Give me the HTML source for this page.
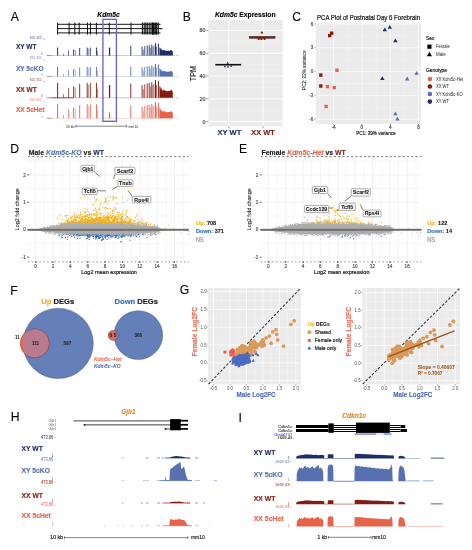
<!DOCTYPE html>
<html><head><meta charset="utf-8"><style>
html,body{margin:0;padding:0;background:#fff;width:472px;height:550px;overflow:hidden}
svg{display:block;font-family:"Liberation Sans",sans-serif;will-change:transform}
</style></head><body>
<svg width="472" height="550" viewBox="0 0 472 550">
<rect width="472" height="550" fill="#fff"/>
<text x="10.8" y="20.6" font-size="12.2" fill="#000" stroke="#000" stroke-width="0.1" >A</text>
<text x="182.8" y="20.6" font-size="12.2" fill="#000" stroke="#000" stroke-width="0.1" >B</text>
<text x="292.2" y="20.8" font-size="12.2" fill="#000" stroke="#000" stroke-width="0.1" >C</text>
<text x="10.2" y="152.8" font-size="12.2" fill="#000" stroke="#000" stroke-width="0.1" >D</text>
<text x="238.9" y="152.6" font-size="12.2" fill="#000" stroke="#000" stroke-width="0.1" >E</text>
<text x="10.2" y="294.8" font-size="12.2" fill="#000" stroke="#000" stroke-width="0.1" >F</text>
<text x="179.7" y="294" font-size="12.2" fill="#000" stroke="#000" stroke-width="0.1" >G</text>
<text x="10.7" y="420.8" font-size="12.2" fill="#000" stroke="#000" stroke-width="0.1" >H</text>
<text x="238.6" y="421.5" font-size="12.2" fill="#000" stroke="#000" stroke-width="0.1" >I</text>
<text x="108.5" y="16.9" font-size="6.6" fill="#000" stroke="#000" stroke-width="0.13" font-weight="bold" font-style="italic" text-anchor="middle" textLength="22.4" lengthAdjust="spacingAndGlyphs" >Kdm5c</text>
<line x1="57" y1="24.3" x2="160.5" y2="24.3" stroke="#1a1a1a" stroke-width="1" />
<line x1="57" y1="28.6" x2="160.5" y2="28.6" stroke="#1a1a1a" stroke-width="1" />
<line x1="57" y1="32.9" x2="160.5" y2="32.9" stroke="#1a1a1a" stroke-width="1" />
<line x1="160" y1="28.6" x2="162.3" y2="28.6" stroke="#1a1a1a" stroke-width="1.2" />
<line x1="57.6" y1="22.6" x2="57.6" y2="34.6" stroke="#111" stroke-width="1" />
<line x1="69.1" y1="22.6" x2="69.1" y2="34.6" stroke="#111" stroke-width="1" />
<line x1="74.8" y1="22.6" x2="74.8" y2="34.6" stroke="#111" stroke-width="1" />
<line x1="79.2" y1="22.6" x2="79.2" y2="34.6" stroke="#111" stroke-width="1" />
<line x1="87.5" y1="22.6" x2="87.5" y2="34.6" stroke="#111" stroke-width="1" />
<line x1="90.4" y1="22.6" x2="90.4" y2="34.6" stroke="#111" stroke-width="1" />
<line x1="96.4" y1="22.6" x2="96.4" y2="34.6" stroke="#111" stroke-width="1" />
<line x1="109.3" y1="22.6" x2="109.3" y2="34.6" stroke="#111" stroke-width="1" />
<line x1="131" y1="22.6" x2="131" y2="34.6" stroke="#111" stroke-width="1" />
<line x1="142.4" y1="22.6" x2="142.4" y2="34.6" stroke="#111" stroke-width="1.1" />
<line x1="144.2" y1="22.6" x2="144.2" y2="34.6" stroke="#111" stroke-width="1.1" />
<line x1="145.8" y1="22.6" x2="145.8" y2="34.6" stroke="#111" stroke-width="1.1" />
<line x1="147.3" y1="22.6" x2="147.3" y2="34.6" stroke="#111" stroke-width="1.1" />
<line x1="149.2" y1="22.6" x2="149.2" y2="34.6" stroke="#111" stroke-width="1.1" />
<line x1="151" y1="22.6" x2="151" y2="34.6" stroke="#111" stroke-width="1.1" />
<line x1="152.6" y1="22.6" x2="152.6" y2="34.6" stroke="#111" stroke-width="1.1" />
<line x1="154.2" y1="22.6" x2="154.2" y2="34.6" stroke="#111" stroke-width="1.1" />
<line x1="156" y1="22.6" x2="156" y2="34.6" stroke="#111" stroke-width="1.1" />
<line x1="158.3" y1="22.6" x2="158.3" y2="34.6" stroke="#111" stroke-width="1.1" />
<rect x="151.8" y="22.8" width="2.2" height="11.8" fill="#111" />
<rect x="155.3" y="22.8" width="2" height="11.8" fill="#111" />
<rect x="102.9" y="19.3" width="13.5" height="102.0" fill="none" stroke="#7262c8" stroke-width="1.35"/>
<text x="15.9" y="48.9" font-size="6.85" fill="#1f2e6b" stroke="#1f2e6b" stroke-width="0.14" font-weight="bold" textLength="20.69" lengthAdjust="spacingAndGlyphs" >XY WT</text>
<text x="41.6" y="38.6" font-size="3.69" fill="#1f2e6b" text-anchor="end" textLength="11.75" lengthAdjust="spacingAndGlyphs" opacity="0.85">825 352</text>
<text x="42.6" y="54.8" font-size="3.41" fill="#1f2e6b" text-anchor="end" textLength="1.67" lengthAdjust="spacingAndGlyphs" opacity="0.8">0</text>
<line x1="43.3" y1="39.3" x2="44.6" y2="39.3" stroke="#1f2e6b" stroke-width="0.5" />
<line x1="46.5" y1="55.6" x2="175" y2="55.6" stroke="#1f2e6b" stroke-width="0.5" opacity="0.55"/>
<line x1="47" y1="55.6" x2="52" y2="55.6" stroke="#888" stroke-width="0.7" />
<line x1="176.5" y1="55.6" x2="178.5" y2="55.6" stroke="#1f2e6b" stroke-width="0.6" opacity="0.6"/>
<rect x="57.1" y="47.53" width="1" height="8.07" fill="#1f2e6b" />
<rect x="63.2" y="53.7" width="0.6" height="1.9" fill="#1f2e6b" />
<rect x="68.05" y="50.38" width="0.7" height="5.22" fill="#1f2e6b" />
<rect x="73" y="49.43" width="0.8" height="6.17" fill="#1f2e6b" />
<rect x="74.8" y="49.9" width="0.6" height="5.7" fill="#1f2e6b" />
<rect x="79.25" y="48" width="0.9" height="7.6" fill="#1f2e6b" />
<rect x="86.75" y="47.53" width="0.9" height="8.07" fill="#1f2e6b" />
<rect x="88.6" y="48.48" width="0.6" height="7.12" fill="#1f2e6b" />
<rect x="90.05" y="47.53" width="0.7" height="8.07" fill="#1f2e6b" />
<rect x="95.95" y="47.53" width="0.9" height="8.07" fill="#1f2e6b" />
<rect x="97.15" y="50.85" width="0.5" height="4.75" fill="#1f2e6b" />
<rect x="108.9" y="47.6" width="1.3" height="8" fill="#1f2e6b" />
<rect x="130.35" y="45.6" width="0.9" height="10" fill="#1f2e6b" />
<rect x="141.65" y="46.6" width="0.9" height="9" fill="#1f2e6b" />
<rect x="143.35" y="49.6" width="0.5" height="6" fill="#1f2e6b" />
<rect x="144.4" y="46.1" width="0.8" height="9.5" fill="#1f2e6b" />
<rect x="146.75" y="45.6" width="0.9" height="10" fill="#1f2e6b" />
<rect x="148.75" y="45.1" width="0.9" height="10.5" fill="#1f2e6b" />
<rect x="150.15" y="47.6" width="0.5" height="8" fill="#1f2e6b" />
<rect x="151.35" y="44.6" width="0.9" height="11" fill="#1f2e6b" />
<rect x="152.7" y="46.6" width="0.6" height="9" fill="#1f2e6b" />
<rect x="153.7" y="45.6" width="0.6" height="10" fill="#1f2e6b" />
<rect x="155" y="43.1" width="1" height="12.5" fill="#1f2e6b" />
<rect x="156.3" y="46.6" width="0.6" height="9" fill="#1f2e6b" />
<rect x="157.9" y="43.6" width="1" height="12" fill="#1f2e6b" />
<rect x="159.1" y="47.6" width="0.6" height="8" fill="#1f2e6b" />
<path d="M160 55.6L160 50.1L160.5 47.6L161 48.6L162 50.1L163 50.6L164 49.6L165 50.8L166 50.4L167 51.1L168 50.6L169 51L170 50.6L171 50.1L172 50.4L172.8 51.6L172.8 55.6Z" fill="#1f2e6b" />
<text x="15.9" y="70.5" font-size="6.85" fill="#5770b0" stroke="#5770b0" stroke-width="0.14" font-weight="bold" textLength="27.63" lengthAdjust="spacingAndGlyphs" >XY 5cKO</text>
<text x="41.6" y="59.4" font-size="3.69" fill="#5770b0" text-anchor="end" textLength="11.75" lengthAdjust="spacingAndGlyphs" opacity="0.85">825 352</text>
<text x="42.6" y="75.6" font-size="3.41" fill="#5770b0" text-anchor="end" textLength="1.67" lengthAdjust="spacingAndGlyphs" opacity="0.8">0</text>
<line x1="43.3" y1="60.1" x2="44.6" y2="60.1" stroke="#5770b0" stroke-width="0.5" />
<line x1="46.5" y1="76.4" x2="175" y2="76.4" stroke="#5770b0" stroke-width="0.5" opacity="0.55"/>
<line x1="47" y1="76.4" x2="52" y2="76.4" stroke="#888" stroke-width="0.7" />
<line x1="176.5" y1="76.4" x2="178.5" y2="76.4" stroke="#5770b0" stroke-width="0.6" opacity="0.6"/>
<rect x="57.1" y="66.88" width="1" height="9.52" fill="#5770b0" />
<rect x="63.2" y="74.16" width="0.6" height="2.24" fill="#5770b0" />
<rect x="68.05" y="70.24" width="0.7" height="6.16" fill="#5770b0" />
<rect x="73" y="69.12" width="0.8" height="7.28" fill="#5770b0" />
<rect x="74.8" y="69.68" width="0.6" height="6.72" fill="#5770b0" />
<rect x="79.25" y="67.44" width="0.9" height="8.96" fill="#5770b0" />
<rect x="86.75" y="66.88" width="0.9" height="9.52" fill="#5770b0" />
<rect x="88.6" y="68" width="0.6" height="8.4" fill="#5770b0" />
<rect x="90.05" y="66.88" width="0.7" height="9.52" fill="#5770b0" />
<rect x="95.95" y="66.88" width="0.9" height="9.52" fill="#5770b0" />
<rect x="97.15" y="70.8" width="0.5" height="5.6" fill="#5770b0" />
<rect x="130.35" y="66.4" width="0.9" height="10" fill="#5770b0" />
<rect x="141.65" y="67.4" width="0.9" height="9" fill="#5770b0" />
<rect x="143.35" y="70.4" width="0.5" height="6" fill="#5770b0" />
<rect x="144.4" y="66.9" width="0.8" height="9.5" fill="#5770b0" />
<rect x="146.75" y="66.4" width="0.9" height="10" fill="#5770b0" />
<rect x="148.75" y="65.9" width="0.9" height="10.5" fill="#5770b0" />
<rect x="150.15" y="68.4" width="0.5" height="8" fill="#5770b0" />
<rect x="151.35" y="65.4" width="0.9" height="11" fill="#5770b0" />
<rect x="152.7" y="67.4" width="0.6" height="9" fill="#5770b0" />
<rect x="153.7" y="66.4" width="0.6" height="10" fill="#5770b0" />
<rect x="155" y="63.9" width="1" height="12.5" fill="#5770b0" />
<rect x="156.3" y="67.4" width="0.6" height="9" fill="#5770b0" />
<rect x="157.9" y="64.4" width="1" height="12" fill="#5770b0" />
<rect x="159.1" y="68.4" width="0.6" height="8" fill="#5770b0" />
<path d="M160 76.4L160 70.9L160.5 68.4L161 69.4L162 70.9L163 71.4L164 70.4L165 71.6L166 71.2L167 71.9L168 71.4L169 71.8L170 71.4L171 70.9L172 71.2L172.8 72.4L172.8 76.4Z" fill="#5770b0" />
<text x="15.9" y="91.6" font-size="6.85" fill="#841c10" stroke="#841c10" stroke-width="0.14" font-weight="bold" textLength="20.8" lengthAdjust="spacingAndGlyphs" >XX WT</text>
<text x="41.6" y="80.8" font-size="3.69" fill="#841c10" text-anchor="end" textLength="11.75" lengthAdjust="spacingAndGlyphs" opacity="0.85">825 352</text>
<text x="42.6" y="97" font-size="3.41" fill="#841c10" text-anchor="end" textLength="1.67" lengthAdjust="spacingAndGlyphs" opacity="0.8">0</text>
<line x1="43.3" y1="81.5" x2="44.6" y2="81.5" stroke="#841c10" stroke-width="0.5" />
<line x1="46.5" y1="97.8" x2="175" y2="97.8" stroke="#841c10" stroke-width="0.5" opacity="0.55"/>
<line x1="47" y1="97.8" x2="52" y2="97.8" stroke="#888" stroke-width="0.7" />
<line x1="52" y1="97.8" x2="73" y2="97.8" stroke="#841c10" stroke-width="0.7" />
<line x1="176.5" y1="97.8" x2="178.5" y2="97.8" stroke="#841c10" stroke-width="0.6" opacity="0.6"/>
<rect x="57.1" y="82.92" width="1" height="14.88" fill="#841c10" />
<rect x="63.2" y="94.3" width="0.6" height="3.5" fill="#841c10" />
<rect x="68.05" y="88.17" width="0.7" height="9.62" fill="#841c10" />
<rect x="73" y="86.42" width="0.8" height="11.38" fill="#841c10" />
<rect x="74.8" y="87.3" width="0.6" height="10.5" fill="#841c10" />
<rect x="79.25" y="83.8" width="0.9" height="14" fill="#841c10" />
<rect x="86.75" y="82.92" width="0.9" height="14.88" fill="#841c10" />
<rect x="88.6" y="84.67" width="0.6" height="13.12" fill="#841c10" />
<rect x="90.05" y="82.92" width="0.7" height="14.88" fill="#841c10" />
<rect x="95.95" y="82.92" width="0.9" height="14.88" fill="#841c10" />
<rect x="97.15" y="89.05" width="0.5" height="8.75" fill="#841c10" />
<rect x="108.9" y="85.1" width="1.3" height="12.7" fill="#841c10" />
<rect x="130.35" y="83.6" width="0.9" height="14.2" fill="#841c10" />
<rect x="141.65" y="85.02" width="0.9" height="12.78" fill="#841c10" />
<rect x="143.35" y="89.28" width="0.5" height="8.52" fill="#841c10" />
<rect x="144.4" y="84.31" width="0.8" height="13.49" fill="#841c10" />
<rect x="146.75" y="83.6" width="0.9" height="14.2" fill="#841c10" />
<rect x="148.75" y="82.89" width="0.9" height="14.91" fill="#841c10" />
<rect x="150.15" y="86.44" width="0.5" height="11.36" fill="#841c10" />
<rect x="151.35" y="82.18" width="0.9" height="15.62" fill="#841c10" />
<rect x="152.7" y="85.02" width="0.6" height="12.78" fill="#841c10" />
<rect x="153.7" y="83.6" width="0.6" height="14.2" fill="#841c10" />
<rect x="155" y="80.05" width="1" height="17.75" fill="#841c10" />
<rect x="156.3" y="85.02" width="0.6" height="12.78" fill="#841c10" />
<rect x="157.9" y="80.76" width="1" height="17.04" fill="#841c10" />
<rect x="159.1" y="86.44" width="0.6" height="11.36" fill="#841c10" />
<path d="M160 97.8L160 89.99L160.5 86.44L161 87.86L162 89.99L163 90.7L164 89.28L165 90.98L166 90.42L167 91.41L168 90.7L169 91.27L170 90.7L171 89.99L172 90.42L172.8 92.12L172.8 97.8Z" fill="#841c10" />
<text x="15.9" y="112" font-size="6.85" fill="#e8624c" stroke="#e8624c" stroke-width="0.14" font-weight="bold" textLength="28.48" lengthAdjust="spacingAndGlyphs" >XX 5cHet</text>
<text x="41.6" y="101.3" font-size="3.69" fill="#e8624c" text-anchor="end" textLength="11.75" lengthAdjust="spacingAndGlyphs" opacity="0.85">825 352</text>
<text x="42.6" y="117.5" font-size="3.41" fill="#e8624c" text-anchor="end" textLength="1.67" lengthAdjust="spacingAndGlyphs" opacity="0.8">0</text>
<line x1="43.3" y1="102" x2="44.6" y2="102" stroke="#e8624c" stroke-width="0.5" />
<line x1="46.5" y1="118.3" x2="175" y2="118.3" stroke="#e8624c" stroke-width="0.5" opacity="0.55"/>
<line x1="47" y1="118.3" x2="52" y2="118.3" stroke="#888" stroke-width="0.7" />
<line x1="176.5" y1="118.3" x2="178.5" y2="118.3" stroke="#e8624c" stroke-width="0.6" opacity="0.6"/>
<rect x="57.1" y="104.28" width="1" height="14.02" fill="#e8624c" />
<rect x="63.2" y="115" width="0.6" height="3.3" fill="#e8624c" />
<rect x="68.05" y="109.22" width="0.7" height="9.07" fill="#e8624c" />
<rect x="73" y="107.58" width="0.8" height="10.72" fill="#e8624c" />
<rect x="74.8" y="108.4" width="0.6" height="9.9" fill="#e8624c" />
<rect x="79.25" y="105.1" width="0.9" height="13.2" fill="#e8624c" />
<rect x="86.75" y="104.28" width="0.9" height="14.02" fill="#e8624c" />
<rect x="88.6" y="105.92" width="0.6" height="12.38" fill="#e8624c" />
<rect x="90.05" y="104.28" width="0.7" height="14.02" fill="#e8624c" />
<rect x="95.95" y="104.28" width="0.9" height="14.02" fill="#e8624c" />
<rect x="97.15" y="110.05" width="0.5" height="8.25" fill="#e8624c" />
<rect x="108.9" y="112.3" width="1.3" height="6" fill="#e8624c" />
<rect x="130.35" y="105.3" width="0.9" height="13" fill="#e8624c" />
<rect x="141.65" y="106.6" width="0.9" height="11.7" fill="#e8624c" />
<rect x="143.35" y="110.5" width="0.5" height="7.8" fill="#e8624c" />
<rect x="144.4" y="105.95" width="0.8" height="12.35" fill="#e8624c" />
<rect x="146.75" y="105.3" width="0.9" height="13" fill="#e8624c" />
<rect x="148.75" y="104.65" width="0.9" height="13.65" fill="#e8624c" />
<rect x="150.15" y="107.9" width="0.5" height="10.4" fill="#e8624c" />
<rect x="151.35" y="104" width="0.9" height="14.3" fill="#e8624c" />
<rect x="152.7" y="106.6" width="0.6" height="11.7" fill="#e8624c" />
<rect x="153.7" y="105.3" width="0.6" height="13" fill="#e8624c" />
<rect x="155" y="102.05" width="1" height="16.25" fill="#e8624c" />
<rect x="156.3" y="106.6" width="0.6" height="11.7" fill="#e8624c" />
<rect x="157.9" y="102.7" width="1" height="15.6" fill="#e8624c" />
<rect x="159.1" y="107.9" width="0.6" height="10.4" fill="#e8624c" />
<path d="M160 118.3L160 111.15L160.5 107.9L161 109.2L162 111.15L163 111.8L164 110.5L165 112.06L166 111.54L167 112.45L168 111.8L169 112.32L170 111.8L171 111.15L172 111.54L172.8 113.1L172.8 118.3Z" fill="#e8624c" />
<text x="65.8" y="127.5" font-size="3.98" fill="#222" textLength="8.56" lengthAdjust="spacingAndGlyphs" >20 kb</text>
<line x1="75.9" y1="126.2" x2="126.7" y2="126.2" stroke="#333" stroke-width="0.6" />
<line x1="75.9" y1="124.9" x2="75.9" y2="127.5" stroke="#333" stroke-width="0.6" />
<line x1="126.7" y1="124.9" x2="126.7" y2="127.5" stroke="#333" stroke-width="0.6" />
<text x="128.4" y="127.5" font-size="3.98" fill="#222" textLength="9.72" lengthAdjust="spacingAndGlyphs" >mm10</text>
<text x="245.3" y="17.1" font-size="6.7" fill="#000" stroke="#000" stroke-width="0.13" font-weight="bold" text-anchor="middle" textLength="60.6" lengthAdjust="spacingAndGlyphs" ><tspan font-style="italic">Kdm5c</tspan> Expression</text>
<rect x="208.3" y="20.2" width="74.4" height="106.3" fill="#ebebeb" />
<line x1="208.3" y1="110.22" x2="282.7" y2="110.22" stroke="#f7f7f7" stroke-width="0.45" />
<line x1="208.3" y1="87.46" x2="282.7" y2="87.46" stroke="#f7f7f7" stroke-width="0.45" />
<line x1="208.3" y1="64.7" x2="282.7" y2="64.7" stroke="#f7f7f7" stroke-width="0.45" />
<line x1="208.3" y1="41.94" x2="282.7" y2="41.94" stroke="#f7f7f7" stroke-width="0.45" />
<line x1="208.3" y1="121.6" x2="282.7" y2="121.6" stroke="#fff" stroke-width="0.9" />
<text x="205.4" y="123.5" font-size="6.02" fill="#4d4d4d" stroke="#4d4d4d" stroke-width="0.21" text-anchor="end" textLength="2.95" lengthAdjust="spacingAndGlyphs" >0</text>
<line x1="206.3" y1="121.6" x2="208.3" y2="121.6" stroke="#333" stroke-width="0.5" />
<line x1="208.3" y1="98.84" x2="282.7" y2="98.84" stroke="#fff" stroke-width="0.9" />
<text x="205.4" y="100.74" font-size="6.02" fill="#4d4d4d" stroke="#4d4d4d" stroke-width="0.21" text-anchor="end" textLength="5.89" lengthAdjust="spacingAndGlyphs" >20</text>
<line x1="206.3" y1="98.84" x2="208.3" y2="98.84" stroke="#333" stroke-width="0.5" />
<line x1="208.3" y1="76.08" x2="282.7" y2="76.08" stroke="#fff" stroke-width="0.9" />
<text x="205.4" y="77.98" font-size="6.02" fill="#4d4d4d" stroke="#4d4d4d" stroke-width="0.21" text-anchor="end" textLength="5.89" lengthAdjust="spacingAndGlyphs" >40</text>
<line x1="206.3" y1="76.08" x2="208.3" y2="76.08" stroke="#333" stroke-width="0.5" />
<line x1="208.3" y1="53.32" x2="282.7" y2="53.32" stroke="#fff" stroke-width="0.9" />
<text x="205.4" y="55.22" font-size="6.02" fill="#4d4d4d" stroke="#4d4d4d" stroke-width="0.21" text-anchor="end" textLength="5.89" lengthAdjust="spacingAndGlyphs" >60</text>
<line x1="206.3" y1="53.32" x2="208.3" y2="53.32" stroke="#333" stroke-width="0.5" />
<line x1="208.3" y1="30.56" x2="282.7" y2="30.56" stroke="#fff" stroke-width="0.9" />
<text x="205.4" y="32.46" font-size="6.02" fill="#4d4d4d" stroke="#4d4d4d" stroke-width="0.21" text-anchor="end" textLength="5.89" lengthAdjust="spacingAndGlyphs" >80</text>
<line x1="206.3" y1="30.56" x2="208.3" y2="30.56" stroke="#333" stroke-width="0.5" />
<line x1="228.8" y1="20.2" x2="228.8" y2="126.5" stroke="#fff" stroke-width="0.9" />
<line x1="228.8" y1="126.5" x2="228.8" y2="128.3" stroke="#333" stroke-width="0.5" />
<line x1="263" y1="20.2" x2="263" y2="126.5" stroke="#fff" stroke-width="0.9" />
<line x1="263" y1="126.5" x2="263" y2="128.3" stroke="#333" stroke-width="0.5" />
<text x="196.3" y="73.6" font-size="8.3" fill="#1a1a1a" stroke="#1a1a1a" stroke-width="0.08" text-anchor="middle" textLength="15.41" lengthAdjust="spacingAndGlyphs" transform="rotate(-90 196.3 73.6)" >TPM</text>
<text x="229.4" y="135" font-size="7.5" fill="#1f2e6b" stroke="#1f2e6b" stroke-width="0.15" font-weight="bold" text-anchor="middle" textLength="23.8" lengthAdjust="spacingAndGlyphs" >XY WT</text>
<text x="263" y="135" font-size="7.5" fill="#841c10" stroke="#841c10" stroke-width="0.15" font-weight="bold" text-anchor="middle" textLength="23.3" lengthAdjust="spacingAndGlyphs" >XX WT</text>
<rect x="215.3" y="63.9" width="25.9" height="1.6" fill="#111" />
<path d="M227.7 61.55L228.9 63.63L226.5 63.63Z" fill="#1f2e6b" />
<path d="M224.9 65.25L226.1 67.33L223.7 67.33Z" fill="#1f2e6b" />
<path d="M228 65.45L229.2 67.53L226.8 67.53Z" fill="#1f2e6b" />
<path d="M231.2 64.75L232.4 66.83L230 66.83Z" fill="#1f2e6b" />
<rect x="249.4" y="36.4" width="25.7" height="1.9" fill="#841c10" stroke="#111" stroke-width="0.4"/>
<rect x="260.8" y="31.6" width="2" height="2" fill="#841c10" />
<rect x="257.7" y="37.9" width="2" height="2" fill="#841c10" />
<rect x="260.4" y="38" width="2" height="2" fill="#841c10" />
<rect x="263.6" y="37.9" width="2" height="2" fill="#841c10" />
<text x="317" y="20.2" font-size="6.88" fill="#1a1a1a" stroke="#1a1a1a" stroke-width="0.24" textLength="103" lengthAdjust="spacingAndGlyphs" >PCA Plot of Postnatal Day 6 Forebrain</text>
<rect x="315.8" y="23.1" width="105.2" height="101" fill="#ebebeb" />
<line x1="319.42" y1="23.1" x2="319.42" y2="124.1" stroke="#f5f5f5" stroke-width="0.45" />
<line x1="347.74" y1="23.1" x2="347.74" y2="124.1" stroke="#f5f5f5" stroke-width="0.45" />
<line x1="376.06" y1="23.1" x2="376.06" y2="124.1" stroke="#f5f5f5" stroke-width="0.45" />
<line x1="404.38" y1="23.1" x2="404.38" y2="124.1" stroke="#f5f5f5" stroke-width="0.45" />
<line x1="315.8" y1="107.38" x2="421" y2="107.38" stroke="#f5f5f5" stroke-width="0.45" />
<line x1="315.8" y1="83.52" x2="421" y2="83.52" stroke="#f5f5f5" stroke-width="0.45" />
<line x1="315.8" y1="59.67" x2="421" y2="59.67" stroke="#f5f5f5" stroke-width="0.45" />
<line x1="315.8" y1="35.82" x2="421" y2="35.82" stroke="#f5f5f5" stroke-width="0.45" />
<line x1="333.58" y1="23.1" x2="333.58" y2="124.1" stroke="#fff" stroke-width="0.65" />
<text x="333.58" y="128.9" font-size="5.23" fill="#4d4d4d" stroke="#4d4d4d" stroke-width="0.18" text-anchor="middle" textLength="4.09" lengthAdjust="spacingAndGlyphs" >-4</text>
<line x1="333.58" y1="124.1" x2="333.58" y2="125.4" stroke="#333" stroke-width="0.5" />
<line x1="361.9" y1="23.1" x2="361.9" y2="124.1" stroke="#fff" stroke-width="0.65" />
<text x="361.9" y="128.9" font-size="5.23" fill="#4d4d4d" stroke="#4d4d4d" stroke-width="0.18" text-anchor="middle" textLength="2.56" lengthAdjust="spacingAndGlyphs" >0</text>
<line x1="361.9" y1="124.1" x2="361.9" y2="125.4" stroke="#333" stroke-width="0.5" />
<line x1="390.22" y1="23.1" x2="390.22" y2="124.1" stroke="#fff" stroke-width="0.65" />
<text x="390.22" y="128.9" font-size="5.23" fill="#4d4d4d" stroke="#4d4d4d" stroke-width="0.18" text-anchor="middle" textLength="2.56" lengthAdjust="spacingAndGlyphs" >4</text>
<line x1="390.22" y1="124.1" x2="390.22" y2="125.4" stroke="#333" stroke-width="0.5" />
<line x1="418.54" y1="23.1" x2="418.54" y2="124.1" stroke="#fff" stroke-width="0.65" />
<text x="418.54" y="128.9" font-size="5.23" fill="#4d4d4d" stroke="#4d4d4d" stroke-width="0.18" text-anchor="middle" textLength="2.56" lengthAdjust="spacingAndGlyphs" >8</text>
<line x1="418.54" y1="124.1" x2="418.54" y2="125.4" stroke="#333" stroke-width="0.5" />
<line x1="315.8" y1="119.3" x2="421" y2="119.3" stroke="#fff" stroke-width="0.65" />
<text x="313.4" y="120.9" font-size="5.23" fill="#4d4d4d" stroke="#4d4d4d" stroke-width="0.18" text-anchor="end" textLength="4.09" lengthAdjust="spacingAndGlyphs" >-6</text>
<line x1="314.4" y1="119.3" x2="315.8" y2="119.3" stroke="#333" stroke-width="0.4" />
<line x1="315.8" y1="95.45" x2="421" y2="95.45" stroke="#fff" stroke-width="0.65" />
<text x="313.4" y="97.05" font-size="5.23" fill="#4d4d4d" stroke="#4d4d4d" stroke-width="0.18" text-anchor="end" textLength="4.09" lengthAdjust="spacingAndGlyphs" >-3</text>
<line x1="314.4" y1="95.45" x2="315.8" y2="95.45" stroke="#333" stroke-width="0.4" />
<line x1="315.8" y1="71.6" x2="421" y2="71.6" stroke="#fff" stroke-width="0.65" />
<text x="313.4" y="73.2" font-size="5.23" fill="#4d4d4d" stroke="#4d4d4d" stroke-width="0.18" text-anchor="end" textLength="2.56" lengthAdjust="spacingAndGlyphs" >0</text>
<line x1="314.4" y1="71.6" x2="315.8" y2="71.6" stroke="#333" stroke-width="0.4" />
<line x1="315.8" y1="47.75" x2="421" y2="47.75" stroke="#fff" stroke-width="0.65" />
<text x="313.4" y="49.35" font-size="5.23" fill="#4d4d4d" stroke="#4d4d4d" stroke-width="0.18" text-anchor="end" textLength="2.56" lengthAdjust="spacingAndGlyphs" >3</text>
<line x1="314.4" y1="47.75" x2="315.8" y2="47.75" stroke="#333" stroke-width="0.4" />
<line x1="315.8" y1="23.9" x2="421" y2="23.9" stroke="#fff" stroke-width="0.65" />
<text x="313.4" y="25.5" font-size="5.23" fill="#4d4d4d" stroke="#4d4d4d" stroke-width="0.18" text-anchor="end" textLength="2.56" lengthAdjust="spacingAndGlyphs" >6</text>
<line x1="314.4" y1="23.9" x2="315.8" y2="23.9" stroke="#333" stroke-width="0.4" />
<text x="306" y="70.2" font-size="5.23" fill="#1a1a1a" stroke="#1a1a1a" stroke-width="0.08" text-anchor="middle" textLength="39.4" lengthAdjust="spacingAndGlyphs" transform="rotate(-90 306 70.2)" >PC2: 22% variance</text>
<text x="375.9" y="135.2" font-size="5.23" fill="#1a1a1a" stroke="#1a1a1a" stroke-width="0.18" text-anchor="middle" textLength="39.4" lengthAdjust="spacingAndGlyphs" >PC1: 39% variance</text>
<rect x="328" y="33.9" width="3.4" height="3.4" fill="#841c10" />
<rect x="330" y="31.5" width="3.4" height="3.4" fill="#841c10" />
<rect x="319.1" y="73.4" width="3.4" height="3.4" fill="#841c10" />
<rect x="319.1" y="84.3" width="3.4" height="3.4" fill="#841c10" />
<rect x="335.3" y="68.6" width="3.4" height="3.4" fill="#e8624c" />
<rect x="325.7" y="84.9" width="3.4" height="3.4" fill="#e8624c" />
<rect x="332.6" y="85.9" width="3.4" height="3.4" fill="#e8624c" />
<rect x="324.4" y="104.8" width="3.4" height="3.4" fill="#e8624c" />
<path d="M384.8 27.51L387 31.32L382.6 31.32Z" fill="#1f2e6b" />
<path d="M389.8 25.01L392 28.82L387.6 28.82Z" fill="#1f2e6b" />
<path d="M395.4 38.51L397.6 42.32L393.2 42.32Z" fill="#1f2e6b" />
<path d="M382.3 76.31L384.5 80.12L380.1 80.12Z" fill="#1f2e6b" />
<path d="M407.2 76.61L409.4 80.42L405 80.42Z" fill="#5770b0" />
<path d="M416.6 71.01L418.8 74.82L414.4 74.82Z" fill="#5770b0" />
<path d="M395.4 111.51L397.6 115.32L393.2 115.32Z" fill="#5770b0" />
<path d="M397.4 116.81L399.6 120.62L395.2 120.62Z" fill="#5770b0" />
<text x="426.1" y="40.2" font-size="5.41" fill="#1a1a1a" stroke="#1a1a1a" stroke-width="0.19" textLength="8.2" lengthAdjust="spacingAndGlyphs" >Sex</text>
<rect x="427.3" y="44.6" width="4.2" height="4.2" fill="#000" />
<text x="436" y="48.4" font-size="4.7" fill="#1a1a1a" textLength="13.8" lengthAdjust="spacingAndGlyphs" >Female</text>
<path d="M429.4 51.8L432 56.3L426.8 56.3Z" fill="#000" />
<text x="436" y="55.9" font-size="5.03" fill="#1a1a1a" textLength="9.6" lengthAdjust="spacingAndGlyphs" >Male</text>
<text x="426.1" y="72.4" font-size="5.45" fill="#1a1a1a" stroke="#1a1a1a" stroke-width="0.19" textLength="20.8" lengthAdjust="spacingAndGlyphs" >Genotype</text>
<circle cx="429.9" cy="79" r="2.3" fill="#e8624c" />
<text x="436" y="80.5" font-size="4.66" fill="#1a1a1a" textLength="27.11" lengthAdjust="spacingAndGlyphs" >XX Kdm5c-Het</text>
<circle cx="429.9" cy="86.5" r="2.3" fill="#841c10" />
<text x="436" y="88" font-size="4.66" fill="#1a1a1a" textLength="12.98" lengthAdjust="spacingAndGlyphs" >XX WT</text>
<circle cx="429.9" cy="94" r="2.3" fill="#5770b0" />
<text x="436" y="95.5" font-size="4.66" fill="#1a1a1a" textLength="26.58" lengthAdjust="spacingAndGlyphs" >XY Kdm5c-KO</text>
<circle cx="429.9" cy="101.6" r="2.3" fill="#1f2e6b" />
<text x="436" y="103.1" font-size="4.66" fill="#1a1a1a" textLength="12.91" lengthAdjust="spacingAndGlyphs" >XY WT</text>
<line x1="35.6" y1="158.5" x2="35.6" y2="260.8" stroke="#ececec" stroke-width="0.7" />
<line x1="44.28" y1="158.5" x2="44.28" y2="260.8" stroke="#ececec" stroke-width="0.5" />
<line x1="52.96" y1="158.5" x2="52.96" y2="260.8" stroke="#ececec" stroke-width="0.7" />
<line x1="61.64" y1="158.5" x2="61.64" y2="260.8" stroke="#ececec" stroke-width="0.5" />
<line x1="70.32" y1="158.5" x2="70.32" y2="260.8" stroke="#ececec" stroke-width="0.7" />
<line x1="79" y1="158.5" x2="79" y2="260.8" stroke="#ececec" stroke-width="0.5" />
<line x1="87.68" y1="158.5" x2="87.68" y2="260.8" stroke="#ececec" stroke-width="0.7" />
<line x1="96.36" y1="158.5" x2="96.36" y2="260.8" stroke="#ececec" stroke-width="0.5" />
<line x1="105.04" y1="158.5" x2="105.04" y2="260.8" stroke="#ececec" stroke-width="0.7" />
<line x1="113.72" y1="158.5" x2="113.72" y2="260.8" stroke="#ececec" stroke-width="0.5" />
<line x1="122.4" y1="158.5" x2="122.4" y2="260.8" stroke="#ececec" stroke-width="0.7" />
<line x1="131.08" y1="158.5" x2="131.08" y2="260.8" stroke="#ececec" stroke-width="0.5" />
<line x1="139.76" y1="158.5" x2="139.76" y2="260.8" stroke="#ececec" stroke-width="0.7" />
<line x1="148.44" y1="158.5" x2="148.44" y2="260.8" stroke="#ececec" stroke-width="0.5" />
<line x1="157.12" y1="158.5" x2="157.12" y2="260.8" stroke="#ececec" stroke-width="0.7" />
<line x1="165.8" y1="158.5" x2="165.8" y2="260.8" stroke="#ececec" stroke-width="0.5" />
<line x1="174.48" y1="158.5" x2="174.48" y2="260.8" stroke="#ececec" stroke-width="0.7" />
<line x1="183.16" y1="158.5" x2="183.16" y2="260.8" stroke="#ececec" stroke-width="0.5" />
<line x1="28" y1="257.1" x2="188.7" y2="257.1" stroke="#ececec" stroke-width="0.7" />
<line x1="28" y1="243.4" x2="188.7" y2="243.4" stroke="#ececec" stroke-width="0.5" />
<line x1="28" y1="216" x2="188.7" y2="216" stroke="#ececec" stroke-width="0.5" />
<line x1="28" y1="202.3" x2="188.7" y2="202.3" stroke="#ececec" stroke-width="0.7" />
<line x1="28" y1="188.6" x2="188.7" y2="188.6" stroke="#ececec" stroke-width="0.5" />
<line x1="28" y1="174.9" x2="188.7" y2="174.9" stroke="#ececec" stroke-width="0.7" />
<line x1="28" y1="161.2" x2="188.7" y2="161.2" stroke="#ececec" stroke-width="0.5" />
<line x1="28" y1="156.6" x2="188.7" y2="156.6" stroke="#555" stroke-width="0.8" stroke-dasharray="2.2 2.1"/>
<line x1="28" y1="261.9" x2="188.7" y2="261.9" stroke="#8a8a8a" stroke-width="0.9" stroke-dasharray="1.6 2.2"/>
<text x="28.8" y="154.9" font-size="6.9" font-weight="bold" stroke-width="0.14" xml:space="preserve"><tspan fill="#1a1a1a" stroke="#1a1a1a">Male </tspan><tspan fill="#5770b0" stroke="#5770b0" font-style="italic">Kdm5c-KO</tspan><tspan fill="#1a1a1a" stroke="#1a1a1a"> vs </tspan><tspan fill="#1f2e6b" stroke="#1f2e6b">WT</tspan></text>
<text x="25.7" y="176.5" font-size="5.23" fill="#4d4d4d" stroke="#4d4d4d" stroke-width="0.18" text-anchor="end" textLength="2.56" lengthAdjust="spacingAndGlyphs" >2</text>
<line x1="27" y1="174.9" x2="29" y2="174.9" stroke="#333" stroke-width="0.7" />
<text x="25.7" y="203.9" font-size="5.23" fill="#4d4d4d" stroke="#4d4d4d" stroke-width="0.18" text-anchor="end" textLength="2.56" lengthAdjust="spacingAndGlyphs" >1</text>
<line x1="27" y1="202.3" x2="29" y2="202.3" stroke="#333" stroke-width="0.7" />
<text x="25.7" y="231.3" font-size="5.23" fill="#4d4d4d" stroke="#4d4d4d" stroke-width="0.18" text-anchor="end" textLength="2.56" lengthAdjust="spacingAndGlyphs" >0</text>
<line x1="27" y1="229.7" x2="29" y2="229.7" stroke="#333" stroke-width="0.7" />
<text x="25.7" y="258.7" font-size="5.23" fill="#4d4d4d" stroke="#4d4d4d" stroke-width="0.18" text-anchor="end" textLength="4.09" lengthAdjust="spacingAndGlyphs" >-1</text>
<line x1="27" y1="257.1" x2="29" y2="257.1" stroke="#333" stroke-width="0.7" />
<text x="35.6" y="268.1" font-size="5.23" fill="#4d4d4d" stroke="#4d4d4d" stroke-width="0.18" text-anchor="middle" textLength="2.56" lengthAdjust="spacingAndGlyphs" >0</text>
<rect x="35" y="261.4" width="1.2" height="1.3" fill="#333" />
<text x="52.96" y="268.1" font-size="5.23" fill="#4d4d4d" stroke="#4d4d4d" stroke-width="0.18" text-anchor="middle" textLength="2.56" lengthAdjust="spacingAndGlyphs" >2</text>
<rect x="52.36" y="261.4" width="1.2" height="1.3" fill="#333" />
<text x="70.32" y="268.1" font-size="5.23" fill="#4d4d4d" stroke="#4d4d4d" stroke-width="0.18" text-anchor="middle" textLength="2.56" lengthAdjust="spacingAndGlyphs" >4</text>
<rect x="69.72" y="261.4" width="1.2" height="1.3" fill="#333" />
<text x="87.68" y="268.1" font-size="5.23" fill="#4d4d4d" stroke="#4d4d4d" stroke-width="0.18" text-anchor="middle" textLength="2.56" lengthAdjust="spacingAndGlyphs" >6</text>
<rect x="87.08" y="261.4" width="1.2" height="1.3" fill="#333" />
<text x="105.04" y="268.1" font-size="5.23" fill="#4d4d4d" stroke="#4d4d4d" stroke-width="0.18" text-anchor="middle" textLength="2.56" lengthAdjust="spacingAndGlyphs" >8</text>
<rect x="104.44" y="261.4" width="1.2" height="1.3" fill="#333" />
<text x="122.4" y="268.1" font-size="5.23" fill="#4d4d4d" stroke="#4d4d4d" stroke-width="0.18" text-anchor="middle" textLength="5.12" lengthAdjust="spacingAndGlyphs" >10</text>
<rect x="121.8" y="261.4" width="1.2" height="1.3" fill="#333" />
<text x="139.76" y="268.1" font-size="5.23" fill="#4d4d4d" stroke="#4d4d4d" stroke-width="0.18" text-anchor="middle" textLength="5.12" lengthAdjust="spacingAndGlyphs" >12</text>
<rect x="139.16" y="261.4" width="1.2" height="1.3" fill="#333" />
<text x="157.12" y="268.1" font-size="5.23" fill="#4d4d4d" stroke="#4d4d4d" stroke-width="0.18" text-anchor="middle" textLength="5.12" lengthAdjust="spacingAndGlyphs" >14</text>
<rect x="156.52" y="261.4" width="1.2" height="1.3" fill="#333" />
<text x="174.48" y="268.1" font-size="5.23" fill="#4d4d4d" stroke="#4d4d4d" stroke-width="0.18" text-anchor="middle" textLength="5.12" lengthAdjust="spacingAndGlyphs" >16</text>
<rect x="173.88" y="261.4" width="1.2" height="1.3" fill="#333" />
<text x="18.8" y="209.3" font-size="6.25" fill="#1a1a1a" stroke="#1a1a1a" stroke-width="0.08" text-anchor="middle" textLength="42.2" lengthAdjust="spacingAndGlyphs" transform="rotate(-90 18.8 209.3)" >Log2 fold change</text>
<text x="109" y="273.6" font-size="6.23" fill="#1a1a1a" stroke="#1a1a1a" stroke-width="0.22" text-anchor="middle" textLength="55.5" lengthAdjust="spacingAndGlyphs" >Log2 mean expression</text>
<g fill="#f2b21c"><rect x="82.48" y="220.9" width="1.15" height="1.15"/><rect x="70.54" y="216.78" width="1.15" height="1.15"/><rect x="97.64" y="217.41" width="1.15" height="1.15"/><rect x="153.38" y="223.66" width="1.15" height="1.15"/><rect x="93.82" y="222.95" width="1.15" height="1.15"/><rect x="105.52" y="222.94" width="1.15" height="1.15"/><rect x="114.26" y="217.36" width="1.15" height="1.15"/><rect x="69.13" y="221.52" width="1.15" height="1.15"/><rect x="99.88" y="204.25" width="1.15" height="1.15"/><rect x="93.83" y="213.16" width="1.15" height="1.15"/><rect x="113.63" y="217.23" width="1.15" height="1.15"/><rect x="100.23" y="222.21" width="1.15" height="1.15"/><rect x="99.27" y="209.55" width="1.15" height="1.15"/><rect x="74.98" y="219.66" width="1.15" height="1.15"/><rect x="73.55" y="219.21" width="1.15" height="1.15"/><rect x="105.73" y="217.67" width="1.15" height="1.15"/><rect x="104.17" y="221.01" width="1.15" height="1.15"/><rect x="120.19" y="222.75" width="1.15" height="1.15"/><rect x="121.77" y="222.34" width="1.15" height="1.15"/><rect x="85.38" y="222.26" width="1.15" height="1.15"/><rect x="140.66" y="222.35" width="1.15" height="1.15"/><rect x="103.52" y="217.94" width="1.15" height="1.15"/><rect x="115.51" y="217.6" width="1.15" height="1.15"/><rect x="83.68" y="221.19" width="1.15" height="1.15"/><rect x="87.9" y="220.35" width="1.15" height="1.15"/><rect x="125.64" y="218.87" width="1.15" height="1.15"/><rect x="137.37" y="221.24" width="1.15" height="1.15"/><rect x="140.82" y="222.59" width="1.15" height="1.15"/><rect x="86.55" y="222.85" width="1.15" height="1.15"/><rect x="95.31" y="217.27" width="1.15" height="1.15"/><rect x="84.42" y="222.39" width="1.15" height="1.15"/><rect x="103.44" y="216.45" width="1.15" height="1.15"/><rect x="126.26" y="216.81" width="1.15" height="1.15"/><rect x="97.11" y="222.8" width="1.15" height="1.15"/><rect x="122.3" y="220.86" width="1.15" height="1.15"/><rect x="145.09" y="222.74" width="1.15" height="1.15"/><rect x="62.84" y="223.53" width="1.15" height="1.15"/><rect x="83.63" y="222.89" width="1.15" height="1.15"/><rect x="66.32" y="223.26" width="1.15" height="1.15"/><rect x="97.2" y="217.71" width="1.15" height="1.15"/><rect x="67.45" y="220.49" width="1.15" height="1.15"/><rect x="67.88" y="218.38" width="1.15" height="1.15"/><rect x="118.15" y="221.66" width="1.15" height="1.15"/><rect x="125.89" y="209.89" width="1.15" height="1.15"/><rect x="114.2" y="221.55" width="1.15" height="1.15"/><rect x="62.81" y="223.79" width="1.15" height="1.15"/><rect x="114.35" y="220.23" width="1.15" height="1.15"/><rect x="92.04" y="219.94" width="1.15" height="1.15"/><rect x="76.68" y="222.9" width="1.15" height="1.15"/><rect x="103.56" y="214.92" width="1.15" height="1.15"/><rect x="111.97" y="216.02" width="1.15" height="1.15"/><rect x="106.86" y="217.58" width="1.15" height="1.15"/><rect x="120.8" y="221.76" width="1.15" height="1.15"/><rect x="115.83" y="217.56" width="1.15" height="1.15"/><rect x="118.26" y="214.2" width="1.15" height="1.15"/><rect x="83.92" y="222.25" width="1.15" height="1.15"/><rect x="104.93" y="220.73" width="1.15" height="1.15"/><rect x="122.55" y="210.7" width="1.15" height="1.15"/><rect x="97.26" y="218.86" width="1.15" height="1.15"/><rect x="100.89" y="222.52" width="1.15" height="1.15"/><rect x="95.88" y="217.13" width="1.15" height="1.15"/><rect x="127.91" y="222.12" width="1.15" height="1.15"/><rect x="108.36" y="217.64" width="1.15" height="1.15"/><rect x="107.23" y="218.56" width="1.15" height="1.15"/><rect x="122.3" y="222.71" width="1.15" height="1.15"/><rect x="91.62" y="219.95" width="1.15" height="1.15"/><rect x="75.95" y="218.71" width="1.15" height="1.15"/><rect x="130.24" y="223.51" width="1.15" height="1.15"/><rect x="86.13" y="215.72" width="1.15" height="1.15"/><rect x="126.83" y="215.83" width="1.15" height="1.15"/><rect x="74.26" y="222.31" width="1.15" height="1.15"/><rect x="78.97" y="222.27" width="1.15" height="1.15"/><rect x="74.09" y="212.97" width="1.15" height="1.15"/><rect x="80.26" y="217.48" width="1.15" height="1.15"/><rect x="141.15" y="223.4" width="1.15" height="1.15"/><rect x="94.85" y="207.9" width="1.15" height="1.15"/><rect x="100.23" y="221.61" width="1.15" height="1.15"/><rect x="114.76" y="219.12" width="1.15" height="1.15"/><rect x="120.03" y="214.62" width="1.15" height="1.15"/><rect x="112.47" y="220.71" width="1.15" height="1.15"/><rect x="107.42" y="219.67" width="1.15" height="1.15"/><rect x="83.09" y="221.55" width="1.15" height="1.15"/><rect x="93.21" y="222.24" width="1.15" height="1.15"/><rect x="72.97" y="222.33" width="1.15" height="1.15"/><rect x="95.71" y="199" width="1.15" height="1.15"/><rect x="69.46" y="220.93" width="1.15" height="1.15"/><rect x="121.73" y="223.04" width="1.15" height="1.15"/><rect x="145.33" y="224.36" width="1.15" height="1.15"/><rect x="87.19" y="221.24" width="1.15" height="1.15"/><rect x="81.83" y="222.34" width="1.15" height="1.15"/><rect x="102.51" y="222.55" width="1.15" height="1.15"/><rect x="104.98" y="219.1" width="1.15" height="1.15"/><rect x="113.88" y="220.07" width="1.15" height="1.15"/><rect x="117.68" y="222.23" width="1.15" height="1.15"/><rect x="117.19" y="221.37" width="1.15" height="1.15"/><rect x="87.75" y="222.27" width="1.15" height="1.15"/><rect x="97.58" y="220.47" width="1.15" height="1.15"/><rect x="109.26" y="218.66" width="1.15" height="1.15"/><rect x="87.96" y="221.81" width="1.15" height="1.15"/><rect x="114.66" y="216.34" width="1.15" height="1.15"/><rect x="99.27" y="216.9" width="1.15" height="1.15"/><rect x="109.23" y="222.62" width="1.15" height="1.15"/><rect x="113.7" y="219.5" width="1.15" height="1.15"/><rect x="101.39" y="222.6" width="1.15" height="1.15"/><rect x="68.14" y="221.99" width="1.15" height="1.15"/><rect x="99.28" y="220.27" width="1.15" height="1.15"/><rect x="107.88" y="222.3" width="1.15" height="1.15"/><rect x="110.43" y="214.26" width="1.15" height="1.15"/><rect x="65.39" y="222.66" width="1.15" height="1.15"/><rect x="108.2" y="221.2" width="1.15" height="1.15"/><rect x="87.66" y="222.36" width="1.15" height="1.15"/><rect x="61.54" y="223.02" width="1.15" height="1.15"/><rect x="96.17" y="215.56" width="1.15" height="1.15"/><rect x="99.54" y="216.25" width="1.15" height="1.15"/><rect x="79.83" y="211.55" width="1.15" height="1.15"/><rect x="85.38" y="215.73" width="1.15" height="1.15"/><rect x="108.23" y="215.59" width="1.15" height="1.15"/><rect x="80.31" y="218.83" width="1.15" height="1.15"/><rect x="98.47" y="221.59" width="1.15" height="1.15"/><rect x="91.98" y="221.58" width="1.15" height="1.15"/><rect x="105.46" y="219.34" width="1.15" height="1.15"/><rect x="149.64" y="223.68" width="1.15" height="1.15"/><rect x="129.7" y="220.69" width="1.15" height="1.15"/><rect x="99.81" y="222.94" width="1.15" height="1.15"/><rect x="98.95" y="222.84" width="1.15" height="1.15"/><rect x="120.92" y="222.87" width="1.15" height="1.15"/><rect x="76.24" y="213.72" width="1.15" height="1.15"/><rect x="92.16" y="219.74" width="1.15" height="1.15"/><rect x="71.07" y="222.79" width="1.15" height="1.15"/><rect x="79.61" y="221.15" width="1.15" height="1.15"/><rect x="94.29" y="213.5" width="1.15" height="1.15"/><rect x="95.18" y="220" width="1.15" height="1.15"/><rect x="84.83" y="221.97" width="1.15" height="1.15"/><rect x="77.72" y="222.89" width="1.15" height="1.15"/><rect x="119.17" y="221.64" width="1.15" height="1.15"/><rect x="128.91" y="223.64" width="1.15" height="1.15"/><rect x="140.35" y="223.37" width="1.15" height="1.15"/><rect x="120" y="222.29" width="1.15" height="1.15"/><rect x="95.84" y="210.21" width="1.15" height="1.15"/><rect x="76.76" y="222.6" width="1.15" height="1.15"/><rect x="101.79" y="220.4" width="1.15" height="1.15"/><rect x="106.36" y="219.36" width="1.15" height="1.15"/><rect x="80.94" y="218.66" width="1.15" height="1.15"/><rect x="89.1" y="213.51" width="1.15" height="1.15"/><rect x="133.05" y="220.26" width="1.15" height="1.15"/><rect x="128.7" y="222.92" width="1.15" height="1.15"/><rect x="75.09" y="219.2" width="1.15" height="1.15"/><rect x="83.76" y="211.52" width="1.15" height="1.15"/><rect x="106.98" y="222" width="1.15" height="1.15"/><rect x="101.64" y="222.65" width="1.15" height="1.15"/><rect x="126.62" y="221.44" width="1.15" height="1.15"/><rect x="116" y="221.1" width="1.15" height="1.15"/><rect x="98.54" y="222.75" width="1.15" height="1.15"/><rect x="60.07" y="222.28" width="1.15" height="1.15"/><rect x="85.52" y="218" width="1.15" height="1.15"/><rect x="107.2" y="208.02" width="1.15" height="1.15"/><rect x="98.68" y="221.11" width="1.15" height="1.15"/><rect x="107.47" y="220.3" width="1.15" height="1.15"/><rect x="103.94" y="221.82" width="1.15" height="1.15"/><rect x="106.85" y="222.76" width="1.15" height="1.15"/><rect x="129.71" y="220.75" width="1.15" height="1.15"/><rect x="78.82" y="221.67" width="1.15" height="1.15"/><rect x="125.95" y="221.26" width="1.15" height="1.15"/><rect x="118.96" y="218.31" width="1.15" height="1.15"/><rect x="88.25" y="221.4" width="1.15" height="1.15"/><rect x="100.04" y="221.45" width="1.15" height="1.15"/><rect x="119.57" y="221.66" width="1.15" height="1.15"/><rect x="107.41" y="217.05" width="1.15" height="1.15"/><rect x="74.98" y="219.14" width="1.15" height="1.15"/><rect x="124.67" y="221.28" width="1.15" height="1.15"/><rect x="103.32" y="219.41" width="1.15" height="1.15"/><rect x="64.71" y="215.47" width="1.15" height="1.15"/><rect x="89.19" y="222.7" width="1.15" height="1.15"/><rect x="99.03" y="222.05" width="1.15" height="1.15"/><rect x="69.7" y="221.11" width="1.15" height="1.15"/><rect x="71.15" y="220.08" width="1.15" height="1.15"/><rect x="146.44" y="222.46" width="1.15" height="1.15"/><rect x="66.85" y="220.74" width="1.15" height="1.15"/><rect x="120.59" y="217.95" width="1.15" height="1.15"/><rect x="83.69" y="219.33" width="1.15" height="1.15"/><rect x="80.25" y="221.4" width="1.15" height="1.15"/><rect x="120.02" y="222.57" width="1.15" height="1.15"/><rect x="98.69" y="221.84" width="1.15" height="1.15"/><rect x="96.14" y="219.53" width="1.15" height="1.15"/><rect x="109.43" y="222.85" width="1.15" height="1.15"/><rect x="104.61" y="222.65" width="1.15" height="1.15"/><rect x="96.77" y="222.11" width="1.15" height="1.15"/><rect x="102" y="221.88" width="1.15" height="1.15"/><rect x="112.98" y="221.9" width="1.15" height="1.15"/><rect x="83.78" y="216.55" width="1.15" height="1.15"/><rect x="101.91" y="220.26" width="1.15" height="1.15"/><rect x="101.04" y="212.76" width="1.15" height="1.15"/><rect x="106.37" y="220.54" width="1.15" height="1.15"/><rect x="130.27" y="219.34" width="1.15" height="1.15"/><rect x="97.96" y="217.62" width="1.15" height="1.15"/><rect x="106.53" y="221.75" width="1.15" height="1.15"/><rect x="110" y="220.71" width="1.15" height="1.15"/><rect x="97.16" y="222.46" width="1.15" height="1.15"/><rect x="125.46" y="218.79" width="1.15" height="1.15"/><rect x="114.19" y="215.25" width="1.15" height="1.15"/><rect x="108.01" y="212.8" width="1.15" height="1.15"/><rect x="87.68" y="221.32" width="1.15" height="1.15"/><rect x="134.53" y="219.91" width="1.15" height="1.15"/><rect x="87.79" y="217.51" width="1.15" height="1.15"/><rect x="97.87" y="222.74" width="1.15" height="1.15"/><rect x="95.56" y="219.16" width="1.15" height="1.15"/><rect x="80.63" y="221.19" width="1.15" height="1.15"/><rect x="97.97" y="221.41" width="1.15" height="1.15"/><rect x="97.13" y="220.22" width="1.15" height="1.15"/><rect x="137.12" y="223.85" width="1.15" height="1.15"/><rect x="97.87" y="221.42" width="1.15" height="1.15"/><rect x="88.98" y="219.57" width="1.15" height="1.15"/><rect x="117.56" y="219.16" width="1.15" height="1.15"/><rect x="68.98" y="222.06" width="1.15" height="1.15"/><rect x="86.98" y="215.71" width="1.15" height="1.15"/><rect x="108.85" y="217.13" width="1.15" height="1.15"/><rect x="118.95" y="222.34" width="1.15" height="1.15"/><rect x="93.09" y="214.81" width="1.15" height="1.15"/><rect x="104.3" y="219.48" width="1.15" height="1.15"/><rect x="85.74" y="218.3" width="1.15" height="1.15"/><rect x="112.11" y="210.36" width="1.15" height="1.15"/><rect x="96.7" y="221.66" width="1.15" height="1.15"/><rect x="97.29" y="222.63" width="1.15" height="1.15"/><rect x="109.17" y="219.98" width="1.15" height="1.15"/><rect x="62.06" y="218.87" width="1.15" height="1.15"/><rect x="88.31" y="219.13" width="1.15" height="1.15"/><rect x="99.8" y="218.69" width="1.15" height="1.15"/><rect x="127.36" y="221.38" width="1.15" height="1.15"/><rect x="89.9" y="219.24" width="1.15" height="1.15"/><rect x="84.89" y="222.57" width="1.15" height="1.15"/><rect x="117.62" y="216.08" width="1.15" height="1.15"/><rect x="84.67" y="215.85" width="1.15" height="1.15"/><rect x="93.79" y="220" width="1.15" height="1.15"/><rect x="89.17" y="222.12" width="1.15" height="1.15"/><rect x="142.95" y="224.39" width="1.15" height="1.15"/><rect x="112.69" y="209.41" width="1.15" height="1.15"/><rect x="102.46" y="221.75" width="1.15" height="1.15"/><rect x="79.3" y="217.06" width="1.15" height="1.15"/><rect x="118.71" y="222.64" width="1.15" height="1.15"/><rect x="111.47" y="222.09" width="1.15" height="1.15"/><rect x="122.22" y="213.68" width="1.15" height="1.15"/><rect x="127.12" y="221.93" width="1.15" height="1.15"/><rect x="92.7" y="219.23" width="1.15" height="1.15"/><rect x="105.84" y="216.55" width="1.15" height="1.15"/><rect x="58.44" y="223.08" width="1.15" height="1.15"/><rect x="81.62" y="216.22" width="1.15" height="1.15"/><rect x="93" y="218.74" width="1.15" height="1.15"/><rect x="93.23" y="222.56" width="1.15" height="1.15"/><rect x="95.44" y="214.21" width="1.15" height="1.15"/><rect x="101.05" y="221.27" width="1.15" height="1.15"/><rect x="117.61" y="215.85" width="1.15" height="1.15"/><rect x="114.4" y="218.02" width="1.15" height="1.15"/><rect x="83.62" y="220.5" width="1.15" height="1.15"/><rect x="102.65" y="220.36" width="1.15" height="1.15"/><rect x="89.5" y="222.11" width="1.15" height="1.15"/><rect x="140.69" y="220.86" width="1.15" height="1.15"/><rect x="116.8" y="220.24" width="1.15" height="1.15"/><rect x="91.13" y="214.38" width="1.15" height="1.15"/><rect x="122.71" y="222.65" width="1.15" height="1.15"/><rect x="110.78" y="217.23" width="1.15" height="1.15"/><rect x="91.53" y="222.39" width="1.15" height="1.15"/><rect x="108.58" y="222.36" width="1.15" height="1.15"/><rect x="127.97" y="223.41" width="1.15" height="1.15"/><rect x="133.9" y="221.07" width="1.15" height="1.15"/><rect x="75.18" y="215.53" width="1.15" height="1.15"/><rect x="102.82" y="218.74" width="1.15" height="1.15"/><rect x="117.43" y="222.29" width="1.15" height="1.15"/><rect x="78.48" y="216.97" width="1.15" height="1.15"/><rect x="121.86" y="222.22" width="1.15" height="1.15"/><rect x="94.84" y="222.69" width="1.15" height="1.15"/><rect x="129.19" y="221.83" width="1.15" height="1.15"/><rect x="86.02" y="222.1" width="1.15" height="1.15"/><rect x="89.84" y="221.93" width="1.15" height="1.15"/><rect x="95.06" y="222.32" width="1.15" height="1.15"/><rect x="125.65" y="223.43" width="1.15" height="1.15"/><rect x="63.92" y="222.22" width="1.15" height="1.15"/><rect x="131.61" y="221.34" width="1.15" height="1.15"/><rect x="105" y="220.65" width="1.15" height="1.15"/><rect x="75.25" y="220.96" width="1.15" height="1.15"/><rect x="102.15" y="219.77" width="1.15" height="1.15"/><rect x="87.53" y="218.44" width="1.15" height="1.15"/><rect x="101.96" y="222.16" width="1.15" height="1.15"/><rect x="123.88" y="223.29" width="1.15" height="1.15"/><rect x="61.85" y="223.69" width="1.15" height="1.15"/><rect x="81.18" y="220.99" width="1.15" height="1.15"/><rect x="96.8" y="222.76" width="1.15" height="1.15"/><rect x="137" y="222.53" width="1.15" height="1.15"/><rect x="110.74" y="222.92" width="1.15" height="1.15"/><rect x="114.12" y="220.77" width="1.15" height="1.15"/><rect x="132.63" y="223.58" width="1.15" height="1.15"/><rect x="120.21" y="219.71" width="1.15" height="1.15"/><rect x="119.69" y="221.77" width="1.15" height="1.15"/><rect x="107.86" y="222.91" width="1.15" height="1.15"/><rect x="111.43" y="221.13" width="1.15" height="1.15"/><rect x="98.82" y="222.08" width="1.15" height="1.15"/><rect x="86.12" y="221.09" width="1.15" height="1.15"/><rect x="110.75" y="218.44" width="1.15" height="1.15"/><rect x="99.3" y="222.07" width="1.15" height="1.15"/><rect x="126.22" y="222.34" width="1.15" height="1.15"/><rect x="95.29" y="221.3" width="1.15" height="1.15"/><rect x="96.03" y="221.61" width="1.15" height="1.15"/><rect x="63.25" y="222.5" width="1.15" height="1.15"/><rect x="76.4" y="221.63" width="1.15" height="1.15"/><rect x="92.21" y="220.44" width="1.15" height="1.15"/><rect x="110.69" y="222.29" width="1.15" height="1.15"/><rect x="121.34" y="217.5" width="1.15" height="1.15"/><rect x="128.49" y="222.55" width="1.15" height="1.15"/><rect x="113.94" y="222.45" width="1.15" height="1.15"/><rect x="129.11" y="222.97" width="1.15" height="1.15"/><rect x="84.58" y="214.79" width="1.15" height="1.15"/><rect x="92.29" y="222.92" width="1.15" height="1.15"/><rect x="113.49" y="218.48" width="1.15" height="1.15"/><rect x="87.39" y="221.44" width="1.15" height="1.15"/><rect x="116.18" y="222.99" width="1.15" height="1.15"/><rect x="122.59" y="221.07" width="1.15" height="1.15"/><rect x="97.65" y="219.31" width="1.15" height="1.15"/><rect x="133.26" y="223.28" width="1.15" height="1.15"/><rect x="68.24" y="222.54" width="1.15" height="1.15"/><rect x="127.15" y="222.84" width="1.15" height="1.15"/><rect x="65.15" y="214.94" width="1.15" height="1.15"/><rect x="84.58" y="215.52" width="1.15" height="1.15"/><rect x="73.86" y="217.61" width="1.15" height="1.15"/><rect x="81.14" y="222.77" width="1.15" height="1.15"/><rect x="108.96" y="220.81" width="1.15" height="1.15"/><rect x="80.48" y="222.43" width="1.15" height="1.15"/><rect x="113.44" y="222.77" width="1.15" height="1.15"/><rect x="115.91" y="219.41" width="1.15" height="1.15"/><rect x="122.19" y="223.2" width="1.15" height="1.15"/><rect x="119.4" y="222.93" width="1.15" height="1.15"/><rect x="108" y="220.97" width="1.15" height="1.15"/><rect x="118.86" y="216.54" width="1.15" height="1.15"/><rect x="102.67" y="219.21" width="1.15" height="1.15"/><rect x="61.02" y="223.27" width="1.15" height="1.15"/><rect x="65.5" y="220.1" width="1.15" height="1.15"/><rect x="81.53" y="222.02" width="1.15" height="1.15"/><rect x="111.29" y="221.53" width="1.15" height="1.15"/><rect x="116.12" y="221.96" width="1.15" height="1.15"/><rect x="118.51" y="222.61" width="1.15" height="1.15"/><rect x="93.36" y="222.99" width="1.15" height="1.15"/><rect x="86.04" y="222.14" width="1.15" height="1.15"/><rect x="72" y="220.8" width="1.15" height="1.15"/><rect x="91.15" y="221.7" width="1.15" height="1.15"/><rect x="87.02" y="219.36" width="1.15" height="1.15"/><rect x="130.3" y="219.38" width="1.15" height="1.15"/><rect x="73.04" y="221.72" width="1.15" height="1.15"/><rect x="101.41" y="220.36" width="1.15" height="1.15"/><rect x="93.92" y="220.65" width="1.15" height="1.15"/><rect x="111.45" y="222.84" width="1.15" height="1.15"/><rect x="117.17" y="218.65" width="1.15" height="1.15"/><rect x="114.69" y="216.88" width="1.15" height="1.15"/><rect x="99.23" y="217.56" width="1.15" height="1.15"/><rect x="124.62" y="222.65" width="1.15" height="1.15"/><rect x="82.16" y="217.62" width="1.15" height="1.15"/><rect x="130.22" y="222.46" width="1.15" height="1.15"/><rect x="118.08" y="222.69" width="1.15" height="1.15"/><rect x="67.13" y="222.7" width="1.15" height="1.15"/><rect x="57.25" y="217.5" width="1.15" height="1.15"/><rect x="74.46" y="221.48" width="1.15" height="1.15"/><rect x="156.88" y="225.8" width="1.15" height="1.15"/><rect x="74.45" y="222.8" width="1.15" height="1.15"/><rect x="110.36" y="217.08" width="1.15" height="1.15"/><rect x="99.41" y="221.41" width="1.15" height="1.15"/><rect x="108.83" y="221.43" width="1.15" height="1.15"/><rect x="85.39" y="211.14" width="1.15" height="1.15"/><rect x="63.99" y="223.44" width="1.15" height="1.15"/><rect x="89.19" y="214.56" width="1.15" height="1.15"/><rect x="113.23" y="223.01" width="1.15" height="1.15"/><rect x="112.47" y="219.98" width="1.15" height="1.15"/><rect x="80.07" y="221.69" width="1.15" height="1.15"/><rect x="102.05" y="220.53" width="1.15" height="1.15"/><rect x="113.83" y="216.8" width="1.15" height="1.15"/><rect x="99.58" y="217.36" width="1.15" height="1.15"/><rect x="70.89" y="220.44" width="1.15" height="1.15"/><rect x="90.32" y="216.7" width="1.15" height="1.15"/><rect x="116.64" y="221.39" width="1.15" height="1.15"/><rect x="70.88" y="222.71" width="1.15" height="1.15"/><rect x="90.62" y="222.95" width="1.15" height="1.15"/><rect x="123.11" y="223.3" width="1.15" height="1.15"/><rect x="108.75" y="221.39" width="1.15" height="1.15"/><rect x="67.05" y="219.83" width="1.15" height="1.15"/><rect x="119.95" y="219.54" width="1.15" height="1.15"/><rect x="93.35" y="222.92" width="1.15" height="1.15"/><rect x="84.55" y="219.79" width="1.15" height="1.15"/><rect x="112.74" y="219.88" width="1.15" height="1.15"/><rect x="115.02" y="222.78" width="1.15" height="1.15"/><rect x="89.53" y="222.24" width="1.15" height="1.15"/><rect x="94.31" y="222.63" width="1.15" height="1.15"/><rect x="88.05" y="217.05" width="1.15" height="1.15"/><rect x="88.6" y="213.58" width="1.15" height="1.15"/><rect x="123.12" y="222.25" width="1.15" height="1.15"/><rect x="121.86" y="213.86" width="1.15" height="1.15"/><rect x="98.1" y="218.86" width="1.15" height="1.15"/><rect x="77.49" y="221.87" width="1.15" height="1.15"/><rect x="117.49" y="221.67" width="1.15" height="1.15"/><rect x="123.54" y="220.69" width="1.15" height="1.15"/><rect x="82.77" y="220.52" width="1.15" height="1.15"/><rect x="81.97" y="219.58" width="1.15" height="1.15"/><rect x="81.88" y="222.2" width="1.15" height="1.15"/><rect x="109.79" y="214.79" width="1.15" height="1.15"/><rect x="76.52" y="215.68" width="1.15" height="1.15"/><rect x="84.34" y="208.37" width="1.15" height="1.15"/><rect x="94.61" y="221.31" width="1.15" height="1.15"/><rect x="84.64" y="217.53" width="1.15" height="1.15"/><rect x="100.68" y="216.89" width="1.15" height="1.15"/><rect x="107.45" y="216.29" width="1.15" height="1.15"/><rect x="99.53" y="217.36" width="1.15" height="1.15"/><rect x="108.97" y="221.99" width="1.15" height="1.15"/><rect x="89.54" y="220.45" width="1.15" height="1.15"/><rect x="101.76" y="216.28" width="1.15" height="1.15"/><rect x="137.16" y="218.81" width="1.15" height="1.15"/><rect x="93.46" y="222.87" width="1.15" height="1.15"/><rect x="106.98" y="217.07" width="1.15" height="1.15"/><rect x="68.83" y="220.71" width="1.15" height="1.15"/><rect x="125.93" y="211.53" width="1.15" height="1.15"/><rect x="123.82" y="222.78" width="1.15" height="1.15"/><rect x="76.31" y="222.88" width="1.15" height="1.15"/><rect x="88.29" y="220.13" width="1.15" height="1.15"/><rect x="87.58" y="222.55" width="1.15" height="1.15"/><rect x="106.96" y="213.63" width="1.15" height="1.15"/><rect x="107.33" y="222.33" width="1.15" height="1.15"/><rect x="98.13" y="221.75" width="1.15" height="1.15"/><rect x="80.21" y="220.13" width="1.15" height="1.15"/><rect x="80.48" y="220.94" width="1.15" height="1.15"/><rect x="112.29" y="219.23" width="1.15" height="1.15"/><rect x="90.64" y="221.92" width="1.15" height="1.15"/><rect x="141.11" y="223.34" width="1.15" height="1.15"/><rect x="98.64" y="217.73" width="1.15" height="1.15"/><rect x="71.61" y="221.43" width="1.15" height="1.15"/><rect x="89.28" y="222.1" width="1.15" height="1.15"/><rect x="70.57" y="217.23" width="1.15" height="1.15"/><rect x="78.82" y="217.66" width="1.15" height="1.15"/><rect x="132.23" y="223.76" width="1.15" height="1.15"/><rect x="86.62" y="219.08" width="1.15" height="1.15"/><rect x="115.09" y="216.08" width="1.15" height="1.15"/><rect x="84.11" y="221.63" width="1.15" height="1.15"/><rect x="82.44" y="219.74" width="1.15" height="1.15"/><rect x="164.38" y="227.9" width="1.15" height="1.15"/><rect x="90.21" y="219.19" width="1.15" height="1.15"/><rect x="79.32" y="219.96" width="1.15" height="1.15"/><rect x="104.79" y="222.24" width="1.15" height="1.15"/><rect x="72.79" y="222.69" width="1.15" height="1.15"/><rect x="120.9" y="220.35" width="1.15" height="1.15"/><rect x="112.5" y="218.35" width="1.15" height="1.15"/><rect x="68.55" y="223.08" width="1.15" height="1.15"/><rect x="103.49" y="221.55" width="1.15" height="1.15"/><rect x="97.03" y="222.61" width="1.15" height="1.15"/><rect x="89.1" y="220.37" width="1.15" height="1.15"/><rect x="99.34" y="220.56" width="1.15" height="1.15"/><rect x="100.27" y="222.83" width="1.15" height="1.15"/><rect x="121.36" y="220.86" width="1.15" height="1.15"/><rect x="132" y="223.58" width="1.15" height="1.15"/><rect x="124.58" y="222" width="1.15" height="1.15"/><rect x="120.79" y="223.13" width="1.15" height="1.15"/><rect x="94.98" y="218.64" width="1.15" height="1.15"/><rect x="94.91" y="222.62" width="1.15" height="1.15"/><rect x="98.86" y="219.5" width="1.15" height="1.15"/><rect x="92.56" y="222.02" width="1.15" height="1.15"/><rect x="104.06" y="221.67" width="1.15" height="1.15"/><rect x="137.99" y="222.5" width="1.15" height="1.15"/><rect x="66.9" y="222.16" width="1.15" height="1.15"/><rect x="98.79" y="221.1" width="1.15" height="1.15"/><rect x="119.76" y="221.45" width="1.15" height="1.15"/><rect x="103.64" y="220.46" width="1.15" height="1.15"/><rect x="93.45" y="219.39" width="1.15" height="1.15"/><rect x="84.83" y="218.85" width="1.15" height="1.15"/><rect x="101.34" y="221.2" width="1.15" height="1.15"/><rect x="70.48" y="220.61" width="1.15" height="1.15"/><rect x="78.32" y="221.89" width="1.15" height="1.15"/><rect x="82.22" y="218.32" width="1.15" height="1.15"/><rect x="95.15" y="221.17" width="1.15" height="1.15"/><rect x="136.66" y="223.56" width="1.15" height="1.15"/><rect x="138.95" y="223.62" width="1.15" height="1.15"/><rect x="95.91" y="217.85" width="1.15" height="1.15"/><rect x="100.39" y="219.63" width="1.15" height="1.15"/><rect x="93.33" y="203.36" width="1.15" height="1.15"/><rect x="97.9" y="218.49" width="1.15" height="1.15"/><rect x="98.77" y="208.98" width="1.15" height="1.15"/><rect x="104.23" y="218.28" width="1.15" height="1.15"/><rect x="77.82" y="221.36" width="1.15" height="1.15"/><rect x="99.06" y="222.6" width="1.15" height="1.15"/><rect x="91.85" y="220.45" width="1.15" height="1.15"/><rect x="80.79" y="220.61" width="1.15" height="1.15"/><rect x="147.87" y="224.12" width="1.15" height="1.15"/><rect x="130.11" y="218.81" width="1.15" height="1.15"/><rect x="129.49" y="220.89" width="1.15" height="1.15"/><rect x="92.18" y="218.16" width="1.15" height="1.15"/><rect x="80.66" y="222.43" width="1.15" height="1.15"/><rect x="92.74" y="221.61" width="1.15" height="1.15"/><rect x="110.08" y="221.47" width="1.15" height="1.15"/><rect x="82.48" y="221.06" width="1.15" height="1.15"/><rect x="121.28" y="219.76" width="1.15" height="1.15"/><rect x="96.49" y="211.56" width="1.15" height="1.15"/><rect x="72.79" y="219.65" width="1.15" height="1.15"/><rect x="79.07" y="221.24" width="1.15" height="1.15"/><rect x="100.02" y="221.76" width="1.15" height="1.15"/><rect x="90.16" y="219.22" width="1.15" height="1.15"/><rect x="93.88" y="213.19" width="1.15" height="1.15"/><rect x="110.19" y="222.73" width="1.15" height="1.15"/><rect x="107.91" y="219.95" width="1.15" height="1.15"/><rect x="124.31" y="221" width="1.15" height="1.15"/><rect x="92.45" y="213.31" width="1.15" height="1.15"/><rect x="81.44" y="217.37" width="1.15" height="1.15"/><rect x="99.85" y="220.36" width="1.15" height="1.15"/><rect x="104.05" y="222.04" width="1.15" height="1.15"/><rect x="97.42" y="221.91" width="1.15" height="1.15"/><rect x="116.73" y="222.56" width="1.15" height="1.15"/><rect x="79.66" y="219.23" width="1.15" height="1.15"/><rect x="83.27" y="215.61" width="1.15" height="1.15"/><rect x="145.94" y="224.12" width="1.15" height="1.15"/><rect x="116.21" y="221.26" width="1.15" height="1.15"/><rect x="123.03" y="220.98" width="1.15" height="1.15"/><rect x="91.26" y="213.49" width="1.15" height="1.15"/><rect x="95.4" y="215.34" width="1.15" height="1.15"/><rect x="93.12" y="222.58" width="1.15" height="1.15"/><rect x="104.98" y="219.14" width="1.15" height="1.15"/><rect x="94.49" y="209.69" width="1.15" height="1.15"/><rect x="105.32" y="222.77" width="1.15" height="1.15"/><rect x="75.15" y="220.93" width="1.15" height="1.15"/><rect x="110.37" y="221.32" width="1.15" height="1.15"/><rect x="130.63" y="222.19" width="1.15" height="1.15"/><rect x="89.44" y="221.87" width="1.15" height="1.15"/><rect x="95.61" y="213.75" width="1.15" height="1.15"/><rect x="136.59" y="213.8" width="1.15" height="1.15"/><rect x="81.2" y="219.64" width="1.15" height="1.15"/><rect x="107.92" y="220.64" width="1.15" height="1.15"/><rect x="96.23" y="222.61" width="1.15" height="1.15"/><rect x="105.08" y="217.04" width="1.15" height="1.15"/><rect x="100.63" y="220.01" width="1.15" height="1.15"/><rect x="107.64" y="217.82" width="1.15" height="1.15"/><rect x="99.87" y="221.22" width="1.15" height="1.15"/><rect x="135.4" y="223.53" width="1.15" height="1.15"/><rect x="103.18" y="221.62" width="1.15" height="1.15"/><rect x="104.05" y="222.38" width="1.15" height="1.15"/><rect x="142.68" y="223.39" width="1.15" height="1.15"/><rect x="102.07" y="221.98" width="1.15" height="1.15"/><rect x="130.11" y="218.44" width="1.15" height="1.15"/><rect x="93.91" y="218.77" width="1.15" height="1.15"/><rect x="117.49" y="212.12" width="1.15" height="1.15"/><rect x="104.16" y="207.36" width="1.15" height="1.15"/><rect x="120.94" y="216.2" width="1.15" height="1.15"/><rect x="124.06" y="219.16" width="1.15" height="1.15"/><rect x="127.51" y="222.39" width="1.15" height="1.15"/><rect x="98.57" y="213.06" width="1.15" height="1.15"/><rect x="76.19" y="222.74" width="1.15" height="1.15"/><rect x="111.61" y="212.79" width="1.15" height="1.15"/><rect x="140.92" y="218.68" width="1.15" height="1.15"/><rect x="112.67" y="222.61" width="1.15" height="1.15"/><rect x="95.26" y="218.72" width="1.15" height="1.15"/><rect x="92.51" y="221.97" width="1.15" height="1.15"/><rect x="107.41" y="222.37" width="1.15" height="1.15"/><rect x="95.19" y="222.57" width="1.15" height="1.15"/><rect x="112.23" y="220.42" width="1.15" height="1.15"/><rect x="107.95" y="220" width="1.15" height="1.15"/><rect x="97.03" y="214.35" width="1.15" height="1.15"/><rect x="86.76" y="221.91" width="1.15" height="1.15"/><rect x="123.46" y="221.64" width="1.15" height="1.15"/><rect x="86.6" y="214.25" width="1.15" height="1.15"/><rect x="102.79" y="218.05" width="1.15" height="1.15"/><rect x="106.52" y="218.59" width="1.15" height="1.15"/><rect x="110.8" y="222.27" width="1.15" height="1.15"/><rect x="86.47" y="220.18" width="1.15" height="1.15"/><rect x="80.74" y="222.09" width="1.15" height="1.15"/><rect x="71.12" y="221.94" width="1.15" height="1.15"/><rect x="104.76" y="220.08" width="1.15" height="1.15"/><rect x="81.68" y="215.92" width="1.15" height="1.15"/><rect x="104.45" y="216.5" width="1.15" height="1.15"/><rect x="96.49" y="222.38" width="1.15" height="1.15"/><rect x="89.28" y="213.82" width="1.15" height="1.15"/><rect x="93.71" y="219.22" width="1.15" height="1.15"/><rect x="100.65" y="217.25" width="1.15" height="1.15"/><rect x="73.52" y="217.17" width="1.15" height="1.15"/><rect x="86.59" y="219.87" width="1.15" height="1.15"/><rect x="91.63" y="217.86" width="1.15" height="1.15"/><rect x="102.92" y="217.5" width="1.15" height="1.15"/><rect x="77.88" y="220.71" width="1.15" height="1.15"/><rect x="99.29" y="220.76" width="1.15" height="1.15"/><rect x="80.76" y="222.32" width="1.15" height="1.15"/><rect x="99.47" y="217.43" width="1.15" height="1.15"/><rect x="85.07" y="219.26" width="1.15" height="1.15"/><rect x="65.66" y="223.09" width="1.15" height="1.15"/><rect x="101.57" y="222.95" width="1.15" height="1.15"/><rect x="146.57" y="221.87" width="1.15" height="1.15"/><rect x="127.13" y="223.46" width="1.15" height="1.15"/><rect x="87.51" y="210.68" width="1.15" height="1.15"/><rect x="112.4" y="218.59" width="1.15" height="1.15"/><rect x="129.34" y="223.46" width="1.15" height="1.15"/><rect x="123.86" y="219.1" width="1.15" height="1.15"/><rect x="73.5" y="215.43" width="1.15" height="1.15"/><rect x="85.28" y="222.89" width="1.15" height="1.15"/><rect x="112.74" y="222.25" width="1.15" height="1.15"/><rect x="91.25" y="221.78" width="1.15" height="1.15"/><rect x="76.25" y="220.11" width="1.15" height="1.15"/><rect x="76.71" y="216.36" width="1.15" height="1.15"/><rect x="141.53" y="222.58" width="1.15" height="1.15"/><rect x="91.41" y="220.64" width="1.15" height="1.15"/><rect x="114.44" y="216.95" width="1.15" height="1.15"/><rect x="99.3" y="222.26" width="1.15" height="1.15"/><rect x="84.05" y="221.47" width="1.15" height="1.15"/><rect x="91.28" y="221.29" width="1.15" height="1.15"/><rect x="108.43" y="221.19" width="1.15" height="1.15"/><rect x="71.78" y="215.8" width="1.15" height="1.15"/><rect x="89.71" y="220.55" width="1.15" height="1.15"/><rect x="113.03" y="222.89" width="1.15" height="1.15"/><rect x="132.8" y="223.27" width="1.15" height="1.15"/><rect x="84.84" y="219.86" width="1.15" height="1.15"/><rect x="132.07" y="222.58" width="1.15" height="1.15"/><rect x="141.71" y="222.73" width="1.15" height="1.15"/><rect x="87.58" y="221.21" width="1.15" height="1.15"/><rect x="69" y="221.78" width="1.15" height="1.15"/><rect x="84.57" y="212.69" width="1.15" height="1.15"/><rect x="122.05" y="220.23" width="1.15" height="1.15"/><rect x="107.79" y="222.68" width="1.15" height="1.15"/><rect x="72.2" y="221.94" width="1.15" height="1.15"/><rect x="102.16" y="221.77" width="1.15" height="1.15"/><rect x="78.45" y="221.53" width="1.15" height="1.15"/><rect x="98.65" y="217.68" width="1.15" height="1.15"/><rect x="84.99" y="221.17" width="1.15" height="1.15"/><rect x="116.5" y="221.48" width="1.15" height="1.15"/><rect x="77.17" y="217.16" width="1.15" height="1.15"/><rect x="106.4" y="215.41" width="1.15" height="1.15"/><rect x="74.53" y="219.35" width="1.15" height="1.15"/><rect x="117.87" y="214.17" width="1.15" height="1.15"/><rect x="71.99" y="222.25" width="1.15" height="1.15"/><rect x="111.86" y="210.66" width="1.15" height="1.15"/><rect x="121.32" y="219.03" width="1.15" height="1.15"/><rect x="102.1" y="222.16" width="1.15" height="1.15"/><rect x="114.97" y="222.89" width="1.15" height="1.15"/><rect x="143.28" y="220.92" width="1.15" height="1.15"/><rect x="91.51" y="218.62" width="1.15" height="1.15"/><rect x="65.54" y="220.69" width="1.15" height="1.15"/><rect x="111.08" y="218.21" width="1.15" height="1.15"/><rect x="98.92" y="212.76" width="1.15" height="1.15"/><rect x="75.86" y="222.43" width="1.15" height="1.15"/><rect x="95.52" y="219.4" width="1.15" height="1.15"/><rect x="89.61" y="220.07" width="1.15" height="1.15"/><rect x="105.45" y="207.08" width="1.15" height="1.15"/><rect x="78.71" y="222.72" width="1.15" height="1.15"/><rect x="127.91" y="220.58" width="1.15" height="1.15"/><rect x="96.93" y="217.61" width="1.15" height="1.15"/><rect x="119.24" y="222.62" width="1.15" height="1.15"/><rect x="114.27" y="222.47" width="1.15" height="1.15"/><rect x="93.43" y="217.87" width="1.15" height="1.15"/><rect x="67.79" y="223.16" width="1.15" height="1.15"/><rect x="102.03" y="222.2" width="1.15" height="1.15"/><rect x="77.59" y="222.26" width="1.15" height="1.15"/><rect x="136.36" y="222.94" width="1.15" height="1.15"/><rect x="60.91" y="223.72" width="1.15" height="1.15"/><rect x="118.39" y="221.37" width="1.15" height="1.15"/><rect x="95.59" y="214.83" width="1.15" height="1.15"/><rect x="79.82" y="222.26" width="1.15" height="1.15"/><rect x="125.58" y="222.82" width="1.15" height="1.15"/><rect x="98.56" y="207.93" width="1.15" height="1.15"/><rect x="93.49" y="219.88" width="1.15" height="1.15"/><rect x="127.91" y="217.78" width="1.15" height="1.15"/><rect x="97.13" y="219" width="1.15" height="1.15"/><rect x="83.83" y="221.81" width="1.15" height="1.15"/><rect x="71.97" y="220.8" width="1.15" height="1.15"/><rect x="99.95" y="219.75" width="1.15" height="1.15"/><rect x="117.15" y="222.15" width="1.15" height="1.15"/><rect x="75.36" y="221.93" width="1.15" height="1.15"/><rect x="104.65" y="219.72" width="1.15" height="1.15"/><rect x="78.32" y="221.57" width="1.15" height="1.15"/><rect x="99.77" y="220.43" width="1.15" height="1.15"/><rect x="111.41" y="222.99" width="1.15" height="1.15"/><rect x="90.56" y="217.97" width="1.15" height="1.15"/><rect x="114.97" y="217.52" width="1.15" height="1.15"/><rect x="138.98" y="221.38" width="1.15" height="1.15"/><rect x="59.24" y="214.31" width="1.15" height="1.15"/><rect x="85.83" y="222.73" width="1.15" height="1.15"/><rect x="75.71" y="221.93" width="1.15" height="1.15"/><rect x="112.18" y="219.84" width="1.15" height="1.15"/><rect x="116.44" y="214.6" width="1.15" height="1.15"/><rect x="76.76" y="222.41" width="1.15" height="1.15"/><rect x="84.81" y="219.63" width="1.15" height="1.15"/><rect x="81.66" y="220.48" width="1.15" height="1.15"/><rect x="94.73" y="222.18" width="1.15" height="1.15"/><rect x="131.5" y="222.94" width="1.15" height="1.15"/><rect x="115.41" y="222.75" width="1.15" height="1.15"/><rect x="113" y="218.41" width="1.15" height="1.15"/><rect x="69.1" y="222.66" width="1.15" height="1.15"/><rect x="112.03" y="213.02" width="1.15" height="1.15"/><rect x="120.03" y="217.98" width="1.15" height="1.15"/><rect x="63.3" y="223.81" width="1.15" height="1.15"/><rect x="67.55" y="219.07" width="1.15" height="1.15"/><rect x="109.47" y="211.84" width="1.15" height="1.15"/><rect x="122.2" y="216.17" width="1.15" height="1.15"/><rect x="105.79" y="221.89" width="1.15" height="1.15"/><rect x="113.96" y="210.97" width="1.15" height="1.15"/><rect x="75.25" y="217.05" width="1.15" height="1.15"/><rect x="122.03" y="220.93" width="1.15" height="1.15"/><rect x="86.96" y="222.48" width="1.15" height="1.15"/><rect x="113.32" y="222.45" width="1.15" height="1.15"/><rect x="102.5" y="222.08" width="1.15" height="1.15"/><rect x="73.08" y="222.7" width="1.15" height="1.15"/><rect x="108.51" y="216.96" width="1.15" height="1.15"/><rect x="121.56" y="219.12" width="1.15" height="1.15"/><rect x="105.2" y="222.27" width="1.15" height="1.15"/><rect x="89.35" y="221.2" width="1.15" height="1.15"/><rect x="62.57" y="223.94" width="1.15" height="1.15"/><rect x="72.19" y="222.37" width="1.15" height="1.15"/><rect x="91.8" y="222.4" width="1.15" height="1.15"/><rect x="90.08" y="222.47" width="1.15" height="1.15"/><rect x="81.82" y="222.83" width="1.15" height="1.15"/><rect x="115.12" y="208.7" width="1.15" height="1.15"/><rect x="79.55" y="215.07" width="1.15" height="1.15"/><rect x="116.15" y="219.35" width="1.15" height="1.15"/><rect x="104.88" y="221.9" width="1.15" height="1.15"/><rect x="96.55" y="217.88" width="1.15" height="1.15"/><rect x="108.02" y="216.74" width="1.15" height="1.15"/><rect x="118.98" y="211.61" width="1.15" height="1.15"/><rect x="81.43" y="213.83" width="1.15" height="1.15"/><rect x="121.48" y="216.89" width="1.15" height="1.15"/><rect x="70.32" y="222.51" width="1.15" height="1.15"/><rect x="101.27" y="219.57" width="1.15" height="1.15"/><rect x="92.51" y="219.99" width="1.15" height="1.15"/><rect x="138.08" y="223.76" width="1.15" height="1.15"/><rect x="107.92" y="220.37" width="1.15" height="1.15"/><rect x="88.57" y="220.58" width="1.15" height="1.15"/><rect x="129.47" y="223.64" width="1.15" height="1.15"/><rect x="98.22" y="220.78" width="1.15" height="1.15"/><rect x="119.83" y="221.98" width="1.15" height="1.15"/><rect x="91.22" y="218.69" width="1.15" height="1.15"/><rect x="120.86" y="213.34" width="1.15" height="1.15"/><rect x="129.55" y="220.15" width="1.15" height="1.15"/><rect x="96.55" y="219.26" width="1.15" height="1.15"/><rect x="72.88" y="218.95" width="1.15" height="1.15"/><rect x="89.22" y="216.95" width="1.15" height="1.15"/><rect x="75.83" y="218.61" width="1.15" height="1.15"/><rect x="103.82" y="220.44" width="1.15" height="1.15"/><rect x="106.26" y="217.22" width="1.15" height="1.15"/><rect x="83.85" y="216.63" width="1.15" height="1.15"/><rect x="70.23" y="217.93" width="1.15" height="1.15"/><rect x="91.55" y="219.8" width="1.15" height="1.15"/><rect x="134.81" y="222.64" width="1.15" height="1.15"/><rect x="74.98" y="222.76" width="1.15" height="1.15"/><rect x="98.35" y="219.12" width="1.15" height="1.15"/><rect x="94.11" y="220.7" width="1.15" height="1.15"/><rect x="122.08" y="216.05" width="1.15" height="1.15"/><rect x="80.4" y="197.54" width="1.15" height="1.15"/><rect x="102.32" y="219.09" width="1.15" height="1.15"/><rect x="74.77" y="219.1" width="1.15" height="1.15"/><rect x="112.93" y="221.63" width="1.15" height="1.15"/><rect x="143.12" y="223.41" width="1.15" height="1.15"/><rect x="102.94" y="215.39" width="1.15" height="1.15"/><rect x="93.28" y="221.08" width="1.15" height="1.15"/><rect x="86.95" y="214.65" width="1.15" height="1.15"/><rect x="101.72" y="222.89" width="1.15" height="1.15"/><rect x="90" y="215.75" width="1.15" height="1.15"/><rect x="127.03" y="221.92" width="1.15" height="1.15"/><rect x="107.77" y="222.28" width="1.15" height="1.15"/><rect x="144.87" y="222.94" width="1.15" height="1.15"/><rect x="76.37" y="216.62" width="1.15" height="1.15"/><rect x="88.4" y="220.54" width="1.15" height="1.15"/><rect x="99.54" y="222.04" width="1.15" height="1.15"/><rect x="116.69" y="218.79" width="1.15" height="1.15"/><rect x="129.79" y="220.74" width="1.15" height="1.15"/><rect x="106.71" y="222.43" width="1.15" height="1.15"/><rect x="106.15" y="219.58" width="1.15" height="1.15"/><rect x="125.14" y="220.93" width="1.15" height="1.15"/><rect x="150.31" y="223.62" width="1.15" height="1.15"/><rect x="66.73" y="215.03" width="1.15" height="1.15"/><rect x="73.01" y="221.7" width="1.15" height="1.15"/><rect x="88.15" y="221.64" width="1.15" height="1.15"/><rect x="84.32" y="219.63" width="1.15" height="1.15"/><rect x="89.94" y="221.79" width="1.15" height="1.15"/><rect x="87.45" y="215.21" width="1.15" height="1.15"/><rect x="108.39" y="219.72" width="1.15" height="1.15"/><rect x="107.57" y="222.08" width="1.15" height="1.15"/><rect x="113.8" y="221.08" width="1.15" height="1.15"/><rect x="86.32" y="221.3" width="1.15" height="1.15"/><rect x="129.03" y="219.52" width="1.15" height="1.15"/><rect x="105.44" y="213.18" width="1.15" height="1.15"/><rect x="122.62" y="220.71" width="1.15" height="1.15"/><rect x="102" y="221.12" width="1.15" height="1.15"/><rect x="69.86" y="217.88" width="1.15" height="1.15"/><rect x="136.19" y="215.48" width="1.15" height="1.15"/><rect x="117.73" y="222.58" width="1.15" height="1.15"/><rect x="111.6" y="215.83" width="1.15" height="1.15"/><rect x="85.47" y="218.47" width="1.15" height="1.15"/><rect x="81.13" y="220.79" width="1.15" height="1.15"/><rect x="92.52" y="220.28" width="1.15" height="1.15"/><rect x="68.84" y="222.83" width="1.15" height="1.15"/><rect x="127.92" y="222.71" width="1.15" height="1.15"/><rect x="144.36" y="223.17" width="1.15" height="1.15"/><rect x="80.06" y="213.6" width="1.15" height="1.15"/><rect x="134.91" y="217.11" width="1.15" height="1.15"/><rect x="73.84" y="221.52" width="1.15" height="1.15"/><rect x="83.14" y="221.14" width="1.15" height="1.15"/><rect x="108.71" y="222.33" width="1.15" height="1.15"/><rect x="106.87" y="223.04" width="1.15" height="1.15"/><rect x="90.91" y="217.46" width="1.15" height="1.15"/><rect x="108.23" y="218.41" width="1.15" height="1.15"/><rect x="102.55" y="222.41" width="1.15" height="1.15"/><rect x="110.03" y="215.28" width="1.15" height="1.15"/><rect x="90.54" y="219.69" width="1.15" height="1.15"/><rect x="112.21" y="221.25" width="1.15" height="1.15"/><rect x="84.1" y="219.55" width="1.15" height="1.15"/><rect x="116.55" y="220.56" width="1.15" height="1.15"/><rect x="84.93" y="219.53" width="1.15" height="1.15"/><rect x="112.65" y="215.07" width="1.15" height="1.15"/><rect x="95.59" y="220.05" width="1.15" height="1.15"/><rect x="110.32" y="222.44" width="1.15" height="1.15"/><rect x="101.28" y="218.53" width="1.15" height="1.15"/><rect x="84.81" y="222.34" width="1.15" height="1.15"/><rect x="98.37" y="220.97" width="1.15" height="1.15"/><rect x="82.2" y="218.4" width="1.15" height="1.15"/><rect x="124.58" y="214.6" width="1.15" height="1.15"/><rect x="86.23" y="208.62" width="1.15" height="1.15"/><rect x="112.63" y="221.23" width="1.15" height="1.15"/><rect x="112.04" y="222.35" width="1.15" height="1.15"/><rect x="93.13" y="221.91" width="1.15" height="1.15"/><rect x="99.42" y="213.21" width="1.15" height="1.15"/><rect x="113.93" y="218.99" width="1.15" height="1.15"/><rect x="106.6" y="219.64" width="1.15" height="1.15"/><rect x="78.1" y="215.25" width="1.15" height="1.15"/><rect x="115.65" y="221.02" width="1.15" height="1.15"/><rect x="116.39" y="222.01" width="1.15" height="1.15"/><rect x="105.42" y="208.16" width="1.15" height="1.15"/><rect x="75.96" y="222.86" width="1.15" height="1.15"/><rect x="108.64" y="220.39" width="1.15" height="1.15"/><rect x="100.02" y="217.6" width="1.15" height="1.15"/><rect x="75.19" y="219.48" width="1.15" height="1.15"/><rect x="73.03" y="220.98" width="1.15" height="1.15"/><rect x="94.12" y="222.82" width="1.15" height="1.15"/><rect x="62.72" y="223.88" width="1.15" height="1.15"/><rect x="73.45" y="215.19" width="1.15" height="1.15"/><rect x="121.33" y="221.27" width="1.15" height="1.15"/><rect x="127.3" y="216.37" width="1.15" height="1.15"/><rect x="105.23" y="200.54" width="1.15" height="1.15"/><rect x="84.58" y="211.51" width="1.15" height="1.15"/><rect x="123.14" y="201.85" width="1.15" height="1.15"/><rect x="116.28" y="216.35" width="1.15" height="1.15"/><rect x="120.32" y="216.99" width="1.15" height="1.15"/><rect x="102.14" y="207.08" width="1.15" height="1.15"/><rect x="104.86" y="198.16" width="1.15" height="1.15"/><rect x="112.15" y="197.11" width="1.15" height="1.15"/><rect x="116.36" y="211.67" width="1.15" height="1.15"/><rect x="116.26" y="202.89" width="1.15" height="1.15"/><rect x="115.48" y="208.66" width="1.15" height="1.15"/><rect x="114.11" y="207.28" width="1.15" height="1.15"/><rect x="93.69" y="196.91" width="1.15" height="1.15"/><rect x="113.66" y="197.18" width="1.15" height="1.15"/><rect x="125.36" y="213.08" width="1.15" height="1.15"/><rect x="95.99" y="212.23" width="1.15" height="1.15"/><rect x="91.96" y="204.25" width="1.15" height="1.15"/><rect x="111.7" y="209.98" width="1.15" height="1.15"/><rect x="117.4" y="217.26" width="1.15" height="1.15"/><rect x="107.14" y="215.65" width="1.15" height="1.15"/><rect x="112.25" y="199.17" width="1.15" height="1.15"/><rect x="125.34" y="217.19" width="1.15" height="1.15"/><rect x="108.33" y="200.35" width="1.15" height="1.15"/><rect x="116.02" y="197.94" width="1.15" height="1.15"/><rect x="107.21" y="196.38" width="1.15" height="1.15"/><rect x="112.87" y="196.3" width="1.15" height="1.15"/><rect x="104.99" y="201.21" width="1.15" height="1.15"/><rect x="95.16" y="200.72" width="1.15" height="1.15"/><rect x="98.68" y="206.06" width="1.15" height="1.15"/><rect x="107.12" y="203.08" width="1.15" height="1.15"/><rect x="100.39" y="214.39" width="1.15" height="1.15"/><rect x="122.03" y="196.5" width="1.15" height="1.15"/><rect x="109.59" y="196.53" width="1.15" height="1.15"/><rect x="115.49" y="196.78" width="1.15" height="1.15"/><rect x="126.95" y="199.56" width="1.15" height="1.15"/><rect x="97.85" y="199.55" width="1.15" height="1.15"/><rect x="103.59" y="201.54" width="1.15" height="1.15"/><rect x="105.84" y="199.26" width="1.15" height="1.15"/><rect x="109.41" y="216.31" width="1.15" height="1.15"/><rect x="104.78" y="201.57" width="1.15" height="1.15"/><rect x="83.82" y="195.76" width="1.15" height="1.15"/><rect x="109.46" y="207.83" width="1.15" height="1.15"/><rect x="100.11" y="202.36" width="1.15" height="1.15"/><rect x="92.75" y="209.5" width="1.15" height="1.15"/><rect x="104.94" y="197.84" width="1.15" height="1.15"/></g>
<g fill="#2f6fbf"><rect x="95.57" y="235.53" width="1.1" height="1.1"/><rect x="109.1" y="234.29" width="1.1" height="1.1"/><rect x="79.62" y="234.48" width="1.1" height="1.1"/><rect x="90.47" y="233.95" width="1.1" height="1.1"/><rect x="77.77" y="233.68" width="1.1" height="1.1"/><rect x="89.07" y="234.12" width="1.1" height="1.1"/><rect x="110.92" y="234.33" width="1.1" height="1.1"/><rect x="73.86" y="236.81" width="1.1" height="1.1"/><rect x="117.79" y="235.55" width="1.1" height="1.1"/><rect x="143.11" y="234.07" width="1.1" height="1.1"/><rect x="107" y="235.68" width="1.1" height="1.1"/><rect x="86.85" y="234.31" width="1.1" height="1.1"/><rect x="88.81" y="233.88" width="1.1" height="1.1"/><rect x="98" y="235.37" width="1.1" height="1.1"/><rect x="95.61" y="237" width="1.1" height="1.1"/><rect x="87.54" y="235.92" width="1.1" height="1.1"/><rect x="76.83" y="237.84" width="1.1" height="1.1"/><rect x="125.81" y="234.59" width="1.1" height="1.1"/><rect x="130.2" y="234.87" width="1.1" height="1.1"/><rect x="104.21" y="236.53" width="1.1" height="1.1"/><rect x="86.49" y="233.77" width="1.1" height="1.1"/><rect x="88.74" y="236.1" width="1.1" height="1.1"/><rect x="58.68" y="233.89" width="1.1" height="1.1"/><rect x="58.85" y="235.22" width="1.1" height="1.1"/><rect x="110.48" y="234.81" width="1.1" height="1.1"/><rect x="118.29" y="234.1" width="1.1" height="1.1"/><rect x="88.96" y="234.3" width="1.1" height="1.1"/><rect x="62.93" y="233.72" width="1.1" height="1.1"/><rect x="153.86" y="232.69" width="1.1" height="1.1"/><rect x="98.14" y="234.36" width="1.1" height="1.1"/><rect x="92.79" y="234.48" width="1.1" height="1.1"/><rect x="121.54" y="234.73" width="1.1" height="1.1"/><rect x="121.37" y="236.13" width="1.1" height="1.1"/><rect x="71.01" y="233.89" width="1.1" height="1.1"/><rect x="150.07" y="233.46" width="1.1" height="1.1"/><rect x="102.09" y="234.39" width="1.1" height="1.1"/><rect x="105.06" y="236.89" width="1.1" height="1.1"/><rect x="95.34" y="234.82" width="1.1" height="1.1"/><rect x="124.87" y="234.24" width="1.1" height="1.1"/><rect x="94.09" y="234.4" width="1.1" height="1.1"/><rect x="99.9" y="234.33" width="1.1" height="1.1"/><rect x="115.84" y="235.63" width="1.1" height="1.1"/><rect x="68.83" y="234.69" width="1.1" height="1.1"/><rect x="124.45" y="233.93" width="1.1" height="1.1"/><rect x="76.09" y="233.84" width="1.1" height="1.1"/><rect x="101.04" y="239.81" width="1.1" height="1.1"/><rect x="61.7" y="234.91" width="1.1" height="1.1"/><rect x="116.33" y="235.34" width="1.1" height="1.1"/><rect x="124.13" y="235.08" width="1.1" height="1.1"/><rect x="137.93" y="234.06" width="1.1" height="1.1"/><rect x="142.52" y="233.29" width="1.1" height="1.1"/><rect x="121.95" y="234.09" width="1.1" height="1.1"/><rect x="99.12" y="235.33" width="1.1" height="1.1"/><rect x="100.68" y="234.38" width="1.1" height="1.1"/><rect x="116.16" y="235.28" width="1.1" height="1.1"/><rect x="88.49" y="236.85" width="1.1" height="1.1"/><rect x="129.45" y="239.69" width="1.1" height="1.1"/><rect x="137.58" y="233.53" width="1.1" height="1.1"/><rect x="71.38" y="235.87" width="1.1" height="1.1"/><rect x="124.81" y="233.94" width="1.1" height="1.1"/><rect x="116.27" y="234.2" width="1.1" height="1.1"/><rect x="111.86" y="235.66" width="1.1" height="1.1"/><rect x="98.13" y="234.85" width="1.1" height="1.1"/><rect x="138.55" y="233.18" width="1.1" height="1.1"/><rect x="101.85" y="236.75" width="1.1" height="1.1"/><rect x="111.75" y="234.79" width="1.1" height="1.1"/><rect x="79.4" y="233.73" width="1.1" height="1.1"/><rect x="99.75" y="234.87" width="1.1" height="1.1"/><rect x="95.97" y="237.23" width="1.1" height="1.1"/><rect x="97.04" y="235.53" width="1.1" height="1.1"/><rect x="92.24" y="235.39" width="1.1" height="1.1"/><rect x="84.47" y="234.87" width="1.1" height="1.1"/><rect x="133.02" y="234.09" width="1.1" height="1.1"/><rect x="85.06" y="234.19" width="1.1" height="1.1"/><rect x="98.87" y="236.74" width="1.1" height="1.1"/><rect x="80.63" y="234.3" width="1.1" height="1.1"/><rect x="130.58" y="233.8" width="1.1" height="1.1"/><rect x="155.16" y="234.01" width="1.1" height="1.1"/><rect x="102.04" y="239.13" width="1.1" height="1.1"/><rect x="95.23" y="234.08" width="1.1" height="1.1"/><rect x="97.6" y="233.94" width="1.1" height="1.1"/><rect x="79.45" y="237.74" width="1.1" height="1.1"/><rect x="82.73" y="234.18" width="1.1" height="1.1"/><rect x="103.11" y="234.14" width="1.1" height="1.1"/><rect x="116.22" y="234.1" width="1.1" height="1.1"/><rect x="79.84" y="234.3" width="1.1" height="1.1"/><rect x="102.43" y="237.85" width="1.1" height="1.1"/><rect x="86.35" y="234.75" width="1.1" height="1.1"/><rect x="137.51" y="233.29" width="1.1" height="1.1"/><rect x="129.64" y="236.28" width="1.1" height="1.1"/><rect x="106.85" y="234.04" width="1.1" height="1.1"/><rect x="97.07" y="235.38" width="1.1" height="1.1"/><rect x="87.1" y="236.1" width="1.1" height="1.1"/><rect x="99.34" y="234.11" width="1.1" height="1.1"/><rect x="86.13" y="238.2" width="1.1" height="1.1"/><rect x="142.32" y="233.91" width="1.1" height="1.1"/><rect x="77.71" y="233.75" width="1.1" height="1.1"/><rect x="70.52" y="233.7" width="1.1" height="1.1"/><rect x="135.13" y="233.74" width="1.1" height="1.1"/><rect x="142.99" y="233.42" width="1.1" height="1.1"/><rect x="112.84" y="234.14" width="1.1" height="1.1"/><rect x="92.87" y="234.57" width="1.1" height="1.1"/><rect x="112.62" y="235.27" width="1.1" height="1.1"/><rect x="96.44" y="234.86" width="1.1" height="1.1"/><rect x="93.71" y="233.91" width="1.1" height="1.1"/><rect x="66.25" y="233.72" width="1.1" height="1.1"/><rect x="115.16" y="236.3" width="1.1" height="1.1"/><rect x="102.34" y="235.97" width="1.1" height="1.1"/><rect x="122.38" y="233.98" width="1.1" height="1.1"/><rect x="77.21" y="235.3" width="1.1" height="1.1"/><rect x="92.96" y="237.67" width="1.1" height="1.1"/><rect x="96.5" y="234.15" width="1.1" height="1.1"/><rect x="87.64" y="234.63" width="1.1" height="1.1"/><rect x="96.39" y="233.99" width="1.1" height="1.1"/><rect x="127.5" y="235.23" width="1.1" height="1.1"/><rect x="95.79" y="234.03" width="1.1" height="1.1"/><rect x="104.9" y="237.51" width="1.1" height="1.1"/><rect x="126.65" y="234.38" width="1.1" height="1.1"/><rect x="66.65" y="238.76" width="1.1" height="1.1"/><rect x="117.71" y="237.78" width="1.1" height="1.1"/><rect x="130.95" y="233.81" width="1.1" height="1.1"/><rect x="112.39" y="234.14" width="1.1" height="1.1"/><rect x="101.86" y="236.03" width="1.1" height="1.1"/><rect x="82.95" y="233.89" width="1.1" height="1.1"/><rect x="86.91" y="235.11" width="1.1" height="1.1"/><rect x="108.85" y="235.16" width="1.1" height="1.1"/><rect x="110.03" y="235.34" width="1.1" height="1.1"/><rect x="113.83" y="234.23" width="1.1" height="1.1"/><rect x="64.54" y="233.66" width="1.1" height="1.1"/><rect x="116.54" y="234.1" width="1.1" height="1.1"/><rect x="120.6" y="236.7" width="1.1" height="1.1"/><rect x="85.8" y="234.63" width="1.1" height="1.1"/><rect x="67.13" y="236.55" width="1.1" height="1.1"/><rect x="121.48" y="236.15" width="1.1" height="1.1"/><rect x="67.85" y="233.76" width="1.1" height="1.1"/><rect x="97.57" y="235.75" width="1.1" height="1.1"/><rect x="107.42" y="234.81" width="1.1" height="1.1"/><rect x="118.73" y="234.82" width="1.1" height="1.1"/><rect x="100.1" y="236.52" width="1.1" height="1.1"/><rect x="135.94" y="236.02" width="1.1" height="1.1"/><rect x="94.76" y="237.19" width="1.1" height="1.1"/><rect x="97.66" y="233.96" width="1.1" height="1.1"/><rect x="130.15" y="235.02" width="1.1" height="1.1"/><rect x="125.21" y="234.02" width="1.1" height="1.1"/><rect x="94.3" y="234.94" width="1.1" height="1.1"/><rect x="122.82" y="234.06" width="1.1" height="1.1"/><rect x="110.83" y="234.71" width="1.1" height="1.1"/><rect x="115.7" y="236.55" width="1.1" height="1.1"/><rect x="70.46" y="234.4" width="1.1" height="1.1"/><rect x="95.03" y="235.87" width="1.1" height="1.1"/><rect x="104.1" y="235.04" width="1.1" height="1.1"/><rect x="91.8" y="234.62" width="1.1" height="1.1"/><rect x="107.95" y="234.06" width="1.1" height="1.1"/><rect x="107.74" y="234.7" width="1.1" height="1.1"/><rect x="107.36" y="234.17" width="1.1" height="1.1"/><rect x="114.92" y="236.67" width="1.1" height="1.1"/><rect x="76.29" y="234.71" width="1.1" height="1.1"/><rect x="110.58" y="236.38" width="1.1" height="1.1"/><rect x="115.7" y="235.2" width="1.1" height="1.1"/><rect x="83.68" y="233.8" width="1.1" height="1.1"/><rect x="78.14" y="233.97" width="1.1" height="1.1"/><rect x="65.06" y="236.97" width="1.1" height="1.1"/><rect x="118.33" y="235.25" width="1.1" height="1.1"/><rect x="101.19" y="234.98" width="1.1" height="1.1"/><rect x="107.99" y="234.66" width="1.1" height="1.1"/><rect x="114.42" y="234.34" width="1.1" height="1.1"/><rect x="95.6" y="233.88" width="1.1" height="1.1"/><rect x="138.77" y="235.75" width="1.1" height="1.1"/><rect x="108.35" y="234.2" width="1.1" height="1.1"/><rect x="128.74" y="234" width="1.1" height="1.1"/><rect x="104.2" y="235.18" width="1.1" height="1.1"/><rect x="130.94" y="233.94" width="1.1" height="1.1"/><rect x="83.39" y="234.95" width="1.1" height="1.1"/><rect x="92.92" y="234.22" width="1.1" height="1.1"/><rect x="135.66" y="235.9" width="1.1" height="1.1"/><rect x="82.45" y="234.28" width="1.1" height="1.1"/><rect x="62.01" y="237" width="1.1" height="1.1"/><rect x="87.6" y="235.13" width="1.1" height="1.1"/><rect x="93.63" y="234.32" width="1.1" height="1.1"/><rect x="106.06" y="235.19" width="1.1" height="1.1"/><rect x="105.44" y="234.31" width="1.1" height="1.1"/><rect x="130.74" y="233.72" width="1.1" height="1.1"/><rect x="122.78" y="235.78" width="1.1" height="1.1"/><rect x="98.72" y="237.39" width="1.1" height="1.1"/><rect x="121.16" y="236.33" width="1.1" height="1.1"/><rect x="131.17" y="234.7" width="1.1" height="1.1"/><rect x="128.27" y="234.79" width="1.1" height="1.1"/><rect x="90.06" y="234.31" width="1.1" height="1.1"/><rect x="81.93" y="234.09" width="1.1" height="1.1"/><rect x="120.18" y="235.43" width="1.1" height="1.1"/><rect x="123.41" y="234.25" width="1.1" height="1.1"/><rect x="76.49" y="233.7" width="1.1" height="1.1"/><rect x="86.67" y="236.2" width="1.1" height="1.1"/><rect x="118.06" y="235.11" width="1.1" height="1.1"/><rect x="73.33" y="234.68" width="1.1" height="1.1"/><rect x="98.37" y="235.36" width="1.1" height="1.1"/><rect x="76.86" y="234.02" width="1.1" height="1.1"/><rect x="92.2" y="233.99" width="1.1" height="1.1"/><rect x="61.19" y="236.74" width="1.1" height="1.1"/><rect x="117.66" y="234.53" width="1.1" height="1.1"/><rect x="79.11" y="234.48" width="1.1" height="1.1"/><rect x="90.18" y="234.06" width="1.1" height="1.1"/><rect x="103.71" y="234.27" width="1.1" height="1.1"/><rect x="93.04" y="234.25" width="1.1" height="1.1"/><rect x="105.54" y="234.06" width="1.1" height="1.1"/><rect x="114.64" y="235.01" width="1.1" height="1.1"/><rect x="115.64" y="235.25" width="1.1" height="1.1"/><rect x="127.93" y="234.95" width="1.1" height="1.1"/><rect x="73.1" y="234.09" width="1.1" height="1.1"/><rect x="105.09" y="234.76" width="1.1" height="1.1"/><rect x="96.11" y="235.58" width="1.1" height="1.1"/><rect x="88.13" y="234.93" width="1.1" height="1.1"/><rect x="130.04" y="234.59" width="1.1" height="1.1"/><rect x="97" y="235.77" width="1.1" height="1.1"/><rect x="96.76" y="234.6" width="1.1" height="1.1"/><rect x="121.1" y="235.76" width="1.1" height="1.1"/><rect x="99.01" y="237.89" width="1.1" height="1.1"/><rect x="88.48" y="239.01" width="1.1" height="1.1"/><rect x="103.52" y="235.2" width="1.1" height="1.1"/><rect x="94.92" y="233.87" width="1.1" height="1.1"/><rect x="107.46" y="235.14" width="1.1" height="1.1"/><rect x="95.91" y="235.84" width="1.1" height="1.1"/><rect x="73.31" y="234.38" width="1.1" height="1.1"/><rect x="100.15" y="235.21" width="1.1" height="1.1"/><rect x="73.25" y="234.67" width="1.1" height="1.1"/><rect x="88.28" y="233.91" width="1.1" height="1.1"/><rect x="78.41" y="235.15" width="1.1" height="1.1"/><rect x="95.25" y="238.41" width="1.1" height="1.1"/><rect x="80.48" y="234.56" width="1.1" height="1.1"/><rect x="114.08" y="234.62" width="1.1" height="1.1"/><rect x="123.13" y="234.17" width="1.1" height="1.1"/><rect x="111.52" y="235.63" width="1.1" height="1.1"/><rect x="93.18" y="234.07" width="1.1" height="1.1"/><rect x="94.02" y="233.96" width="1.1" height="1.1"/><rect x="103.01" y="238.86" width="1.1" height="1.1"/><rect x="99.8" y="237.01" width="1.1" height="1.1"/><rect x="73.43" y="234.44" width="1.1" height="1.1"/><rect x="111.03" y="234.24" width="1.1" height="1.1"/><rect x="87.71" y="236.43" width="1.1" height="1.1"/><rect x="119.26" y="234.25" width="1.1" height="1.1"/><rect x="78.75" y="234.73" width="1.1" height="1.1"/><rect x="95.84" y="235.9" width="1.1" height="1.1"/><rect x="86.63" y="237.79" width="1.1" height="1.1"/><rect x="90.81" y="235" width="1.1" height="1.1"/><rect x="98.08" y="236.51" width="1.1" height="1.1"/><rect x="127.57" y="233.75" width="1.1" height="1.1"/><rect x="87.15" y="234.21" width="1.1" height="1.1"/><rect x="82.27" y="233.95" width="1.1" height="1.1"/><rect x="104.12" y="234.65" width="1.1" height="1.1"/><rect x="123.77" y="235.09" width="1.1" height="1.1"/><rect x="97.87" y="234.71" width="1.1" height="1.1"/><rect x="130.31" y="235.61" width="1.1" height="1.1"/><rect x="106.71" y="238.86" width="1.1" height="1.1"/><rect x="87.13" y="234.8" width="1.1" height="1.1"/><rect x="93.44" y="235.46" width="1.1" height="1.1"/><rect x="115.31" y="234.8" width="1.1" height="1.1"/><rect x="95.09" y="236.41" width="1.1" height="1.1"/><rect x="86.92" y="234.17" width="1.1" height="1.1"/><rect x="116.9" y="234.74" width="1.1" height="1.1"/><rect x="85.26" y="234.87" width="1.1" height="1.1"/><rect x="75.59" y="234.72" width="1.1" height="1.1"/><rect x="97.81" y="237.77" width="1.1" height="1.1"/><rect x="101.15" y="239.65" width="1.1" height="1.1"/><rect x="92.41" y="233.84" width="1.1" height="1.1"/><rect x="137.96" y="233.55" width="1.1" height="1.1"/><rect x="114.09" y="234.08" width="1.1" height="1.1"/><rect x="112.49" y="236.44" width="1.1" height="1.1"/><rect x="123.34" y="233.95" width="1.1" height="1.1"/><rect x="103.26" y="234" width="1.1" height="1.1"/><rect x="104.44" y="234.44" width="1.1" height="1.1"/><rect x="104.67" y="235.3" width="1.1" height="1.1"/><rect x="118.59" y="237.22" width="1.1" height="1.1"/><rect x="79.53" y="235.15" width="1.1" height="1.1"/><rect x="102.83" y="234.78" width="1.1" height="1.1"/><rect x="121.63" y="234.16" width="1.1" height="1.1"/><rect x="122.83" y="234.24" width="1.1" height="1.1"/><rect x="90.6" y="234.69" width="1.1" height="1.1"/><rect x="107.23" y="235.12" width="1.1" height="1.1"/><rect x="85.91" y="233.88" width="1.1" height="1.1"/><rect x="102.3" y="234.84" width="1.1" height="1.1"/><rect x="114.97" y="235.56" width="1.1" height="1.1"/><rect x="106.08" y="235.11" width="1.1" height="1.1"/><rect x="133.07" y="235.2" width="1.1" height="1.1"/><rect x="120.32" y="241.39" width="1.1" height="1.1"/><rect x="101.05" y="234.7" width="1.1" height="1.1"/><rect x="88.56" y="233.9" width="1.1" height="1.1"/><rect x="100.78" y="235.26" width="1.1" height="1.1"/><rect x="105.99" y="234.07" width="1.1" height="1.1"/><rect x="104.91" y="234.97" width="1.1" height="1.1"/><rect x="106.99" y="235.86" width="1.1" height="1.1"/><rect x="116.92" y="234.84" width="1.1" height="1.1"/><rect x="120.48" y="240.9" width="1.1" height="1.1"/><rect x="126.66" y="235" width="1.1" height="1.1"/><rect x="77.2" y="235.25" width="1.1" height="1.1"/><rect x="110.33" y="236.37" width="1.1" height="1.1"/><rect x="105.06" y="235.92" width="1.1" height="1.1"/><rect x="86.22" y="233.9" width="1.1" height="1.1"/><rect x="118.73" y="234.35" width="1.1" height="1.1"/><rect x="119.46" y="235.17" width="1.1" height="1.1"/><rect x="90.99" y="234.55" width="1.1" height="1.1"/><rect x="150.36" y="234.66" width="1.1" height="1.1"/><rect x="123.07" y="235.84" width="1.1" height="1.1"/><rect x="93.79" y="234.72" width="1.1" height="1.1"/><rect x="92.91" y="235.23" width="1.1" height="1.1"/><rect x="107.91" y="237.29" width="1.1" height="1.1"/><rect x="94.64" y="234.81" width="1.1" height="1.1"/><rect x="84.75" y="234.32" width="1.1" height="1.1"/><rect x="73.75" y="233.65" width="1.1" height="1.1"/><rect x="124.2" y="234.73" width="1.1" height="1.1"/><rect x="89.85" y="235.51" width="1.1" height="1.1"/><rect x="100.69" y="234.29" width="1.1" height="1.1"/><rect x="88.66" y="234.97" width="1.1" height="1.1"/><rect x="110.54" y="234.74" width="1.1" height="1.1"/><rect x="92.71" y="235.82" width="1.1" height="1.1"/><rect x="81.52" y="234.76" width="1.1" height="1.1"/><rect x="120.73" y="234.44" width="1.1" height="1.1"/><rect x="116.43" y="234.52" width="1.1" height="1.1"/><rect x="124.13" y="235.62" width="1.1" height="1.1"/><rect x="93.93" y="234.06" width="1.1" height="1.1"/><rect x="94.39" y="234.17" width="1.1" height="1.1"/><rect x="93.97" y="234.02" width="1.1" height="1.1"/><rect x="146.46" y="237.01" width="1.1" height="1.1"/><rect x="108.62" y="234.58" width="1.1" height="1.1"/><rect x="135.36" y="234.68" width="1.1" height="1.1"/></g>
<path d="M28 229.25 L30 229.25 L32 229.25 L34 229.25 L36 229.25 L38 228.96 L40 228.5 L42 228.09 L44 227.71 L46 227.34 L48 226.99 L50 226.65 L52 226.31 L54 225.98 L56 225.65 L58 225.33 L60 225.02 L62 224.71 L64 224.4 L66 224.1 L68 223.8 L70 223.5 L72 223.51 L74 223.52 L76 223.52 L78 223.53 L80 223.54 L82 223.55 L84 223.56 L86 223.56 L88 223.57 L90 223.58 L92 223.59 L94 223.6 L96 223.6 L98 223.61 L100 223.62 L102 223.63 L104 223.64 L106 223.64 L108 223.65 L110 223.66 L112 223.67 L114 223.68 L116 223.68 L118 223.69 L120 223.7 L122 223.85 L124 224 L126 224.15 L128 224.31 L130 224.46 L132 224.61 L134 224.76 L136 224.91 L138 225.06 L140 225.21 L142 225.36 L144 225.52 L146 225.67 L148 225.82 L150 225.97 L152 226.12 L154 226.27 L156 226.42 L158 227.05 L160 228.15 L162 229.25 L164 229.25 L164 230.15 L162 230.15 L160 231.13 L158 232.11 L156 232.65 L154 232.76 L152 232.87 L150 232.98 L148 233.09 L146 233.19 L144 233.3 L142 233.41 L140 233.52 L138 233.63 L136 233.74 L134 233.84 L132 233.95 L130 234.06 L128 234.17 L126 234.28 L124 234.38 L122 234.49 L120 234.6 L118 234.58 L116 234.56 L114 234.54 L112 234.52 L110 234.5 L108 234.48 L106 234.46 L104 234.44 L102 234.42 L100 234.4 L98 234.38 L96 234.36 L94 234.34 L92 234.32 L90 234.3 L88 234.28 L86 234.26 L84 234.24 L82 234.22 L80 234.2 L78 234.18 L76 234.16 L74 234.14 L72 234.12 L70 234.1 L68 233.95 L66 233.81 L64 233.65 L62 233.49 L60 233.33 L58 233.16 L56 232.99 L54 232.8 L52 232.61 L50 232.41 L48 232.19 L46 231.96 L44 231.71 L42 231.42 L40 231.09 L38 230.63 L36 230.15 L34 230.15 L32 230.15 L30 230.15 L28 230.15Z" fill="#acacac" />
<g fill="#b0b0b0"><rect x="48.37" y="231.58" width="0.9" height="0.9"/><rect x="74.63" y="235.03" width="0.9" height="0.9"/><rect x="74.78" y="235.11" width="0.9" height="0.9"/><rect x="126.51" y="233.86" width="0.9" height="0.9"/><rect x="51.52" y="225.6" width="0.9" height="0.9"/><rect x="125.44" y="234.91" width="0.9" height="0.9"/><rect x="120.96" y="234.65" width="0.9" height="0.9"/><rect x="159.88" y="232.32" width="0.9" height="0.9"/><rect x="157.89" y="232.88" width="0.9" height="0.9"/><rect x="119.32" y="223.54" width="0.9" height="0.9"/><rect x="134.54" y="223.88" width="0.9" height="0.9"/><rect x="118.91" y="234.73" width="0.9" height="0.9"/><rect x="75.52" y="222.48" width="0.9" height="0.9"/><rect x="86.63" y="222.89" width="0.9" height="0.9"/><rect x="102.09" y="235.28" width="0.9" height="0.9"/><rect x="149.48" y="233.8" width="0.9" height="0.9"/><rect x="104.81" y="222.66" width="0.9" height="0.9"/><rect x="85.94" y="234.38" width="0.9" height="0.9"/><rect x="119.97" y="234.6" width="0.9" height="0.9"/><rect x="43.48" y="227.1" width="0.9" height="0.9"/><rect x="61.19" y="234.77" width="0.9" height="0.9"/><rect x="152.76" y="226.15" width="0.9" height="0.9"/><rect x="51.58" y="224.97" width="0.9" height="0.9"/><rect x="136.31" y="234.75" width="0.9" height="0.9"/><rect x="66.95" y="233.28" width="0.9" height="0.9"/><rect x="95.05" y="235.35" width="0.9" height="0.9"/><rect x="82.49" y="233.74" width="0.9" height="0.9"/><rect x="77.92" y="222.66" width="0.9" height="0.9"/><rect x="124.07" y="234.5" width="0.9" height="0.9"/><rect x="143.15" y="234.47" width="0.9" height="0.9"/><rect x="67.17" y="223.1" width="0.9" height="0.9"/><rect x="125.91" y="234.97" width="0.9" height="0.9"/><rect x="48.52" y="232.48" width="0.9" height="0.9"/><rect x="70.78" y="234.69" width="0.9" height="0.9"/><rect x="119.18" y="222.99" width="0.9" height="0.9"/><rect x="107.27" y="222.78" width="0.9" height="0.9"/><rect x="62.89" y="224.39" width="0.9" height="0.9"/><rect x="45.79" y="232.76" width="0.9" height="0.9"/><rect x="98.37" y="234.92" width="0.9" height="0.9"/><rect x="134.18" y="223.42" width="0.9" height="0.9"/><rect x="90.71" y="234.04" width="0.9" height="0.9"/><rect x="137.63" y="223.94" width="0.9" height="0.9"/><rect x="63.77" y="223.87" width="0.9" height="0.9"/><rect x="88.86" y="223.33" width="0.9" height="0.9"/><rect x="98.02" y="222.42" width="0.9" height="0.9"/><rect x="91.53" y="234.46" width="0.9" height="0.9"/><rect x="140.77" y="234.69" width="0.9" height="0.9"/><rect x="99.84" y="233.75" width="0.9" height="0.9"/><rect x="93.01" y="222.66" width="0.9" height="0.9"/><rect x="43.04" y="230.94" width="0.9" height="0.9"/><rect x="101.19" y="235.46" width="0.9" height="0.9"/><rect x="130.53" y="223.5" width="0.9" height="0.9"/><rect x="74.91" y="234.26" width="0.9" height="0.9"/><rect x="104.87" y="223.17" width="0.9" height="0.9"/><rect x="90.78" y="222.78" width="0.9" height="0.9"/><rect x="135.8" y="233.12" width="0.9" height="0.9"/><rect x="88.11" y="234.57" width="0.9" height="0.9"/><rect x="138.76" y="232.99" width="0.9" height="0.9"/><rect x="49.04" y="226.35" width="0.9" height="0.9"/><rect x="67.51" y="223.7" width="0.9" height="0.9"/><rect x="45.66" y="232.79" width="0.9" height="0.9"/><rect x="64.33" y="223.26" width="0.9" height="0.9"/><rect x="53.12" y="225.39" width="0.9" height="0.9"/><rect x="83.6" y="234.55" width="0.9" height="0.9"/><rect x="115.27" y="223.64" width="0.9" height="0.9"/><rect x="156.91" y="225.25" width="0.9" height="0.9"/><rect x="56.83" y="224.71" width="0.9" height="0.9"/><rect x="63.65" y="223.05" width="0.9" height="0.9"/><rect x="118.21" y="235.11" width="0.9" height="0.9"/><rect x="108.85" y="222.69" width="0.9" height="0.9"/><rect x="104.04" y="233.73" width="0.9" height="0.9"/><rect x="83.16" y="222.41" width="0.9" height="0.9"/><rect x="109.07" y="222.48" width="0.9" height="0.9"/><rect x="114.89" y="223.09" width="0.9" height="0.9"/><rect x="42.26" y="227.99" width="0.9" height="0.9"/><rect x="118.2" y="234.97" width="0.9" height="0.9"/><rect x="137.42" y="224.36" width="0.9" height="0.9"/><rect x="127.55" y="223.29" width="0.9" height="0.9"/><rect x="90.06" y="233.96" width="0.9" height="0.9"/><rect x="110.54" y="222.87" width="0.9" height="0.9"/><rect x="49.71" y="225.62" width="0.9" height="0.9"/><rect x="65.25" y="235.14" width="0.9" height="0.9"/><rect x="127.36" y="235.1" width="0.9" height="0.9"/><rect x="96.27" y="222.47" width="0.9" height="0.9"/><rect x="45.57" y="231.71" width="0.9" height="0.9"/><rect x="119.94" y="235.69" width="0.9" height="0.9"/><rect x="112.97" y="233.9" width="0.9" height="0.9"/><rect x="134.35" y="234.38" width="0.9" height="0.9"/><rect x="110.64" y="234.61" width="0.9" height="0.9"/><rect x="67.06" y="222.75" width="0.9" height="0.9"/><rect x="114.2" y="222.75" width="0.9" height="0.9"/><rect x="158.29" y="231.56" width="0.9" height="0.9"/><rect x="67.47" y="234.13" width="0.9" height="0.9"/><rect x="65.21" y="223.94" width="0.9" height="0.9"/><rect x="65.46" y="223.21" width="0.9" height="0.9"/><rect x="135.29" y="223.43" width="0.9" height="0.9"/><rect x="101.27" y="235.65" width="0.9" height="0.9"/><rect x="132.87" y="234.75" width="0.9" height="0.9"/><rect x="145.65" y="225.54" width="0.9" height="0.9"/><rect x="144.5" y="233.8" width="0.9" height="0.9"/><rect x="58.38" y="232.78" width="0.9" height="0.9"/><rect x="153.68" y="233.38" width="0.9" height="0.9"/><rect x="52.5" y="225.13" width="0.9" height="0.9"/><rect x="57.57" y="224.78" width="0.9" height="0.9"/><rect x="130.16" y="224.35" width="0.9" height="0.9"/><rect x="159.17" y="232.28" width="0.9" height="0.9"/><rect x="70.96" y="233.33" width="0.9" height="0.9"/><rect x="66.13" y="222.64" width="0.9" height="0.9"/><rect x="46.98" y="226.07" width="0.9" height="0.9"/><rect x="148.72" y="225.76" width="0.9" height="0.9"/><rect x="121.25" y="222.68" width="0.9" height="0.9"/><rect x="132.91" y="234.77" width="0.9" height="0.9"/><rect x="112.39" y="234.74" width="0.9" height="0.9"/><rect x="104.45" y="235.38" width="0.9" height="0.9"/><rect x="124.27" y="234.17" width="0.9" height="0.9"/><rect x="90.47" y="222.68" width="0.9" height="0.9"/><rect x="128.76" y="234.55" width="0.9" height="0.9"/><rect x="143.37" y="232.91" width="0.9" height="0.9"/><rect x="135.35" y="224.54" width="0.9" height="0.9"/><rect x="80.46" y="222.44" width="0.9" height="0.9"/><rect x="119.29" y="223.61" width="0.9" height="0.9"/><rect x="152.24" y="233.9" width="0.9" height="0.9"/><rect x="152.08" y="225.71" width="0.9" height="0.9"/><rect x="106.77" y="222.41" width="0.9" height="0.9"/><rect x="70.64" y="222.83" width="0.9" height="0.9"/><rect x="49.07" y="225.9" width="0.9" height="0.9"/><rect x="126.62" y="233.6" width="0.9" height="0.9"/><rect x="120.49" y="234.44" width="0.9" height="0.9"/><rect x="73.24" y="222.79" width="0.9" height="0.9"/><rect x="93.36" y="235.02" width="0.9" height="0.9"/><rect x="80.66" y="233.97" width="0.9" height="0.9"/><rect x="146.39" y="224.81" width="0.9" height="0.9"/><rect x="145.07" y="233.61" width="0.9" height="0.9"/><rect x="152.95" y="225.79" width="0.9" height="0.9"/><rect x="129.7" y="224.17" width="0.9" height="0.9"/><rect x="55.23" y="232.97" width="0.9" height="0.9"/><rect x="154.91" y="232.66" width="0.9" height="0.9"/><rect x="86.87" y="223.4" width="0.9" height="0.9"/><rect x="83.73" y="222.08" width="0.9" height="0.9"/><rect x="95.23" y="234.55" width="0.9" height="0.9"/><rect x="53.26" y="233.36" width="0.9" height="0.9"/><rect x="45.42" y="231.84" width="0.9" height="0.9"/><rect x="136.9" y="224.86" width="0.9" height="0.9"/><rect x="54.1" y="234.09" width="0.9" height="0.9"/><rect x="116.29" y="222.52" width="0.9" height="0.9"/><rect x="112.98" y="235.13" width="0.9" height="0.9"/><rect x="121.28" y="223.58" width="0.9" height="0.9"/><rect x="53.43" y="225.64" width="0.9" height="0.9"/><rect x="48.84" y="231.75" width="0.9" height="0.9"/><rect x="56.45" y="232.71" width="0.9" height="0.9"/><rect x="125.3" y="234.39" width="0.9" height="0.9"/><rect x="91" y="222.54" width="0.9" height="0.9"/><rect x="94.07" y="235.34" width="0.9" height="0.9"/><rect x="52.63" y="225.68" width="0.9" height="0.9"/><rect x="128.94" y="223.69" width="0.9" height="0.9"/><rect x="44.04" y="231.07" width="0.9" height="0.9"/><rect x="61.32" y="233.82" width="0.9" height="0.9"/><rect x="71.8" y="234" width="0.9" height="0.9"/><rect x="140.38" y="223.98" width="0.9" height="0.9"/><rect x="104.84" y="223.2" width="0.9" height="0.9"/><rect x="129.91" y="223.08" width="0.9" height="0.9"/><rect x="72.95" y="223.4" width="0.9" height="0.9"/><rect x="105.87" y="234.07" width="0.9" height="0.9"/><rect x="66.96" y="234.49" width="0.9" height="0.9"/><rect x="62.02" y="223.8" width="0.9" height="0.9"/><rect x="75.52" y="222.48" width="0.9" height="0.9"/><rect x="154.87" y="232.38" width="0.9" height="0.9"/><rect x="85.4" y="234.81" width="0.9" height="0.9"/><rect x="129.65" y="233.79" width="0.9" height="0.9"/><rect x="75.39" y="223.44" width="0.9" height="0.9"/><rect x="123.36" y="222.64" width="0.9" height="0.9"/><rect x="62.49" y="234.11" width="0.9" height="0.9"/><rect x="42.8" y="227.4" width="0.9" height="0.9"/><rect x="85.27" y="223.2" width="0.9" height="0.9"/><rect x="44.42" y="226.91" width="0.9" height="0.9"/><rect x="74.43" y="235.29" width="0.9" height="0.9"/><rect x="111.94" y="234.5" width="0.9" height="0.9"/><rect x="147.4" y="233.09" width="0.9" height="0.9"/><rect x="145.64" y="225.38" width="0.9" height="0.9"/><rect x="100.67" y="222.55" width="0.9" height="0.9"/><rect x="77.24" y="235.15" width="0.9" height="0.9"/><rect x="125.77" y="235.08" width="0.9" height="0.9"/><rect x="138.96" y="234.29" width="0.9" height="0.9"/><rect x="125.24" y="234.73" width="0.9" height="0.9"/><rect x="116.76" y="234.43" width="0.9" height="0.9"/><rect x="68.61" y="233.89" width="0.9" height="0.9"/><rect x="141.98" y="232.62" width="0.9" height="0.9"/><rect x="71.24" y="234.18" width="0.9" height="0.9"/><rect x="137.2" y="233.12" width="0.9" height="0.9"/><rect x="138.54" y="233" width="0.9" height="0.9"/><rect x="128.25" y="234.7" width="0.9" height="0.9"/><rect x="112.76" y="235.9" width="0.9" height="0.9"/><rect x="102.85" y="235.1" width="0.9" height="0.9"/><rect x="154.73" y="232.08" width="0.9" height="0.9"/><rect x="71.7" y="222.28" width="0.9" height="0.9"/><rect x="73.69" y="235.29" width="0.9" height="0.9"/><rect x="143.14" y="234.51" width="0.9" height="0.9"/><rect x="54.75" y="232.71" width="0.9" height="0.9"/><rect x="128.02" y="234.01" width="0.9" height="0.9"/><rect x="84.89" y="235.19" width="0.9" height="0.9"/><rect x="55.13" y="233.73" width="0.9" height="0.9"/><rect x="143.57" y="225.33" width="0.9" height="0.9"/><rect x="66.24" y="223.21" width="0.9" height="0.9"/><rect x="87.18" y="223.44" width="0.9" height="0.9"/><rect x="137.97" y="233.1" width="0.9" height="0.9"/><rect x="113.91" y="234.53" width="0.9" height="0.9"/><rect x="116.85" y="233.82" width="0.9" height="0.9"/><rect x="150.41" y="232.91" width="0.9" height="0.9"/><rect x="110.84" y="233.84" width="0.9" height="0.9"/><rect x="53.51" y="234.05" width="0.9" height="0.9"/><rect x="62.87" y="223.88" width="0.9" height="0.9"/><rect x="152.46" y="233.5" width="0.9" height="0.9"/><rect x="49.26" y="225.89" width="0.9" height="0.9"/><rect x="143.44" y="225.34" width="0.9" height="0.9"/><rect x="86.02" y="223.06" width="0.9" height="0.9"/><rect x="65.83" y="223.16" width="0.9" height="0.9"/><rect x="130.77" y="233.5" width="0.9" height="0.9"/><rect x="128.22" y="223.05" width="0.9" height="0.9"/><rect x="125.8" y="235.5" width="0.9" height="0.9"/><rect x="61.22" y="224.7" width="0.9" height="0.9"/><rect x="120.45" y="222.69" width="0.9" height="0.9"/><rect x="91.77" y="222.25" width="0.9" height="0.9"/><rect x="59.69" y="224.29" width="0.9" height="0.9"/><rect x="49.99" y="233.18" width="0.9" height="0.9"/><rect x="58.44" y="232.68" width="0.9" height="0.9"/><rect x="116.26" y="223.26" width="0.9" height="0.9"/><rect x="105.04" y="235.09" width="0.9" height="0.9"/><rect x="88.93" y="223.26" width="0.9" height="0.9"/><rect x="145.27" y="225.29" width="0.9" height="0.9"/><rect x="68.91" y="222.41" width="0.9" height="0.9"/><rect x="103.32" y="234.67" width="0.9" height="0.9"/><rect x="123.42" y="223.34" width="0.9" height="0.9"/><rect x="143.42" y="224.79" width="0.9" height="0.9"/><rect x="77.4" y="223.02" width="0.9" height="0.9"/><rect x="69.73" y="233.37" width="0.9" height="0.9"/><rect x="75.35" y="223.25" width="0.9" height="0.9"/><rect x="158.82" y="232.86" width="0.9" height="0.9"/><rect x="60.6" y="224.46" width="0.9" height="0.9"/><rect x="113.19" y="235.57" width="0.9" height="0.9"/><rect x="44.43" y="227.13" width="0.9" height="0.9"/><rect x="102.01" y="223.1" width="0.9" height="0.9"/><rect x="59.9" y="232.98" width="0.9" height="0.9"/><rect x="86.61" y="222.29" width="0.9" height="0.9"/><rect x="57.76" y="225.04" width="0.9" height="0.9"/><rect x="76.47" y="234.94" width="0.9" height="0.9"/><rect x="145.1" y="224.13" width="0.9" height="0.9"/><rect x="130.98" y="224.46" width="0.9" height="0.9"/><rect x="118.24" y="235.68" width="0.9" height="0.9"/><rect x="156.36" y="224.97" width="0.9" height="0.9"/><rect x="127.77" y="223.98" width="0.9" height="0.9"/><rect x="153.39" y="233.45" width="0.9" height="0.9"/><rect x="45.23" y="231.72" width="0.9" height="0.9"/><rect x="150.03" y="233.25" width="0.9" height="0.9"/><rect x="115.68" y="235.59" width="0.9" height="0.9"/><rect x="97.22" y="233.96" width="0.9" height="0.9"/><rect x="90.89" y="223.51" width="0.9" height="0.9"/><rect x="98.13" y="222.16" width="0.9" height="0.9"/><rect x="156.47" y="231.96" width="0.9" height="0.9"/><rect x="78.83" y="234.03" width="0.9" height="0.9"/><rect x="55.23" y="224.91" width="0.9" height="0.9"/><rect x="59.7" y="224.23" width="0.9" height="0.9"/><rect x="146.27" y="224.2" width="0.9" height="0.9"/><rect x="77.8" y="233.55" width="0.9" height="0.9"/><rect x="118.29" y="222.47" width="0.9" height="0.9"/><rect x="60.19" y="234.66" width="0.9" height="0.9"/><rect x="91.81" y="235.1" width="0.9" height="0.9"/><rect x="121.36" y="223.33" width="0.9" height="0.9"/><rect x="156.23" y="233.92" width="0.9" height="0.9"/><rect x="51.55" y="233.32" width="0.9" height="0.9"/><rect x="72.46" y="222.17" width="0.9" height="0.9"/><rect x="151.31" y="232.84" width="0.9" height="0.9"/><rect x="103.35" y="233.84" width="0.9" height="0.9"/><rect x="143.18" y="233.57" width="0.9" height="0.9"/><rect x="130.42" y="233.66" width="0.9" height="0.9"/><rect x="99.13" y="222.87" width="0.9" height="0.9"/><rect x="147.58" y="234.31" width="0.9" height="0.9"/><rect x="144.7" y="232.66" width="0.9" height="0.9"/><rect x="99.05" y="233.82" width="0.9" height="0.9"/><rect x="94.19" y="223.47" width="0.9" height="0.9"/><rect x="117.17" y="222.27" width="0.9" height="0.9"/><rect x="130.81" y="224.28" width="0.9" height="0.9"/><rect x="48.84" y="232.83" width="0.9" height="0.9"/><rect x="111.29" y="234.62" width="0.9" height="0.9"/><rect x="49.77" y="225.49" width="0.9" height="0.9"/><rect x="86.14" y="222.92" width="0.9" height="0.9"/><rect x="83.44" y="233.64" width="0.9" height="0.9"/><rect x="119.78" y="234.55" width="0.9" height="0.9"/><rect x="144.12" y="224.59" width="0.9" height="0.9"/><rect x="56.33" y="224.76" width="0.9" height="0.9"/><rect x="127.6" y="233.47" width="0.9" height="0.9"/><rect x="117.49" y="234.37" width="0.9" height="0.9"/><rect x="71.16" y="233.82" width="0.9" height="0.9"/><rect x="56.29" y="224.67" width="0.9" height="0.9"/><rect x="150" y="234.1" width="0.9" height="0.9"/><rect x="160.77" y="228" width="0.9" height="0.9"/><rect x="131.72" y="233.92" width="0.9" height="0.9"/><rect x="54.7" y="225.52" width="0.9" height="0.9"/><rect x="130.46" y="234.62" width="0.9" height="0.9"/><rect x="42.09" y="227.93" width="0.9" height="0.9"/><rect x="93.78" y="234.57" width="0.9" height="0.9"/><rect x="153.9" y="225.73" width="0.9" height="0.9"/><rect x="153.83" y="225.16" width="0.9" height="0.9"/><rect x="125.91" y="233.54" width="0.9" height="0.9"/><rect x="92.42" y="234.35" width="0.9" height="0.9"/><rect x="81" y="234.71" width="0.9" height="0.9"/><rect x="139.47" y="234.12" width="0.9" height="0.9"/><rect x="96.57" y="223.17" width="0.9" height="0.9"/><rect x="73.82" y="233.53" width="0.9" height="0.9"/><rect x="58.39" y="234.57" width="0.9" height="0.9"/><rect x="151.39" y="233.73" width="0.9" height="0.9"/><rect x="70.9" y="233.35" width="0.9" height="0.9"/><rect x="114.81" y="223.51" width="0.9" height="0.9"/><rect x="58.9" y="224.48" width="0.9" height="0.9"/><rect x="72.56" y="223.33" width="0.9" height="0.9"/><rect x="61.12" y="223.53" width="0.9" height="0.9"/><rect x="44.17" y="226.71" width="0.9" height="0.9"/><rect x="188.36" y="230.02" width="0.9" height="0.9"/><rect x="186.58" y="228.02" width="0.9" height="0.9"/><rect x="188.61" y="233.4" width="0.9" height="0.9"/><rect x="187.79" y="233.87" width="0.9" height="0.9"/><rect x="185.31" y="228.92" width="0.9" height="0.9"/><rect x="183.44" y="226.81" width="0.9" height="0.9"/><rect x="188.45" y="231.22" width="0.9" height="0.9"/><rect x="180.58" y="232.39" width="0.9" height="0.9"/><rect x="187.16" y="230.13" width="0.9" height="0.9"/><rect x="183.6" y="223.9" width="0.9" height="0.9"/><rect x="184.64" y="230.34" width="0.9" height="0.9"/><rect x="172.93" y="228.18" width="0.9" height="0.9"/><rect x="168.15" y="224.88" width="0.9" height="0.9"/><rect x="188.61" y="225.29" width="0.9" height="0.9"/></g>
<rect x="28" y="228.8" width="160.7" height="2" fill="#6e6e6e" />
<line x1="94.6" y1="171.9" x2="99.4" y2="176.2" stroke="#222" stroke-width="0.6" />
<circle cx="99.4" cy="176.2" r="0.7" fill="#f2b21c" />
<rect x="81" y="165.3" width="13.6" height="6.6" rx="1.2" fill="#fff" stroke="#666" stroke-width="0.55"/>
<text x="87.8" y="170.5" font-size="5.3" fill="#1a1a1a" stroke="#1a1a1a" stroke-width="0.11" font-weight="bold" text-anchor="middle" textLength="11.2" lengthAdjust="spacingAndGlyphs" >Gjb1</text>
<line x1="115" y1="174.1" x2="113.7" y2="178.4" stroke="#222" stroke-width="0.6" />
<circle cx="113.7" cy="178.4" r="0.7" fill="#f2b21c" />
<rect x="115" y="167.2" width="20" height="6.9" rx="1.2" fill="#fff" stroke="#666" stroke-width="0.55"/>
<text x="125" y="172.55" font-size="5.3" fill="#1a1a1a" stroke="#1a1a1a" stroke-width="0.11" font-weight="bold" text-anchor="middle" textLength="16.2" lengthAdjust="spacingAndGlyphs" >Scarf2</text>
<line x1="117.9" y1="186.4" x2="112.3" y2="189.4" stroke="#222" stroke-width="0.6" />
<circle cx="112.3" cy="189.4" r="0.7" fill="#f2b21c" />
<rect x="117.9" y="179.9" width="15.1" height="6.5" rx="1.2" fill="#fff" stroke="#666" stroke-width="0.55"/>
<text x="125.45" y="185.05" font-size="5.3" fill="#1a1a1a" stroke="#1a1a1a" stroke-width="0.11" font-weight="bold" text-anchor="middle" textLength="12.66" lengthAdjust="spacingAndGlyphs" >Tnxb</text>
<line x1="97.2" y1="190.8" x2="105.5" y2="190.8" stroke="#222" stroke-width="0.6" />
<circle cx="105.5" cy="190.8" r="0.7" fill="#f2b21c" />
<rect x="82.2" y="188.1" width="15" height="6.5" rx="1.2" fill="#fff" stroke="#666" stroke-width="0.55"/>
<text x="89.7" y="193.25" font-size="5.3" fill="#1a1a1a" stroke="#1a1a1a" stroke-width="0.11" font-weight="bold" text-anchor="middle" textLength="11.98" lengthAdjust="spacingAndGlyphs" >Tcfl5</text>
<line x1="132.2" y1="196.4" x2="128.3" y2="190.8" stroke="#222" stroke-width="0.6" />
<circle cx="128.3" cy="190.8" r="0.7" fill="#f2b21c" />
<rect x="132.2" y="196.4" width="18.7" height="6.5" rx="1.2" fill="#fff" stroke="#666" stroke-width="0.55"/>
<text x="141.55" y="201.55" font-size="5.3" fill="#1a1a1a" stroke="#1a1a1a" stroke-width="0.11" font-weight="bold" text-anchor="middle" textLength="14.43" lengthAdjust="spacingAndGlyphs" >Rps4l</text>
<text x="196" y="224.6" font-size="5.6" fill="#1a1a1a" stroke="#1a1a1a" stroke-width="0.11" font-weight="bold" ><tspan fill="#f2b21c" stroke="#f2b21c">Up:</tspan> 708</text>
<text x="196" y="232.6" font-size="5.6" fill="#1a1a1a" stroke="#1a1a1a" stroke-width="0.11" font-weight="bold" ><tspan fill="#2f6fbf" stroke="#2f6fbf">Down:</tspan> 371</text>
<text x="196" y="241.8" font-size="6.36" fill="#999" stroke="#999" stroke-width="0.22" textLength="7.78" lengthAdjust="spacingAndGlyphs" >NS</text>
<line x1="268.3" y1="158.5" x2="268.3" y2="260.8" stroke="#ececec" stroke-width="0.7" />
<line x1="276.98" y1="158.5" x2="276.98" y2="260.8" stroke="#ececec" stroke-width="0.5" />
<line x1="285.66" y1="158.5" x2="285.66" y2="260.8" stroke="#ececec" stroke-width="0.7" />
<line x1="294.34" y1="158.5" x2="294.34" y2="260.8" stroke="#ececec" stroke-width="0.5" />
<line x1="303.02" y1="158.5" x2="303.02" y2="260.8" stroke="#ececec" stroke-width="0.7" />
<line x1="311.7" y1="158.5" x2="311.7" y2="260.8" stroke="#ececec" stroke-width="0.5" />
<line x1="320.38" y1="158.5" x2="320.38" y2="260.8" stroke="#ececec" stroke-width="0.7" />
<line x1="329.06" y1="158.5" x2="329.06" y2="260.8" stroke="#ececec" stroke-width="0.5" />
<line x1="337.74" y1="158.5" x2="337.74" y2="260.8" stroke="#ececec" stroke-width="0.7" />
<line x1="346.42" y1="158.5" x2="346.42" y2="260.8" stroke="#ececec" stroke-width="0.5" />
<line x1="355.1" y1="158.5" x2="355.1" y2="260.8" stroke="#ececec" stroke-width="0.7" />
<line x1="363.78" y1="158.5" x2="363.78" y2="260.8" stroke="#ececec" stroke-width="0.5" />
<line x1="372.46" y1="158.5" x2="372.46" y2="260.8" stroke="#ececec" stroke-width="0.7" />
<line x1="381.14" y1="158.5" x2="381.14" y2="260.8" stroke="#ececec" stroke-width="0.5" />
<line x1="389.82" y1="158.5" x2="389.82" y2="260.8" stroke="#ececec" stroke-width="0.7" />
<line x1="398.5" y1="158.5" x2="398.5" y2="260.8" stroke="#ececec" stroke-width="0.5" />
<line x1="407.18" y1="158.5" x2="407.18" y2="260.8" stroke="#ececec" stroke-width="0.7" />
<line x1="415.86" y1="158.5" x2="415.86" y2="260.8" stroke="#ececec" stroke-width="0.5" />
<line x1="260.7" y1="257.1" x2="421.4" y2="257.1" stroke="#ececec" stroke-width="0.7" />
<line x1="260.7" y1="243.4" x2="421.4" y2="243.4" stroke="#ececec" stroke-width="0.5" />
<line x1="260.7" y1="216" x2="421.4" y2="216" stroke="#ececec" stroke-width="0.5" />
<line x1="260.7" y1="202.3" x2="421.4" y2="202.3" stroke="#ececec" stroke-width="0.7" />
<line x1="260.7" y1="188.6" x2="421.4" y2="188.6" stroke="#ececec" stroke-width="0.5" />
<line x1="260.7" y1="174.9" x2="421.4" y2="174.9" stroke="#ececec" stroke-width="0.7" />
<line x1="260.7" y1="161.2" x2="421.4" y2="161.2" stroke="#ececec" stroke-width="0.5" />
<line x1="260.7" y1="156.6" x2="421.4" y2="156.6" stroke="#555" stroke-width="0.8" stroke-dasharray="2.2 2.1"/>
<line x1="260.7" y1="261.9" x2="421.4" y2="261.9" stroke="#8a8a8a" stroke-width="0.9" stroke-dasharray="1.6 2.2"/>
<text x="261.5" y="154.9" font-size="6.9" font-weight="bold" stroke-width="0.14" xml:space="preserve"><tspan fill="#1a1a1a" stroke="#1a1a1a">Female </tspan><tspan fill="#e8624c" stroke="#e8624c" font-style="italic">Kdm5c-Het</tspan><tspan fill="#1a1a1a" stroke="#1a1a1a"> vs </tspan><tspan fill="#841c10" stroke="#841c10">WT</tspan></text>
<text x="258.4" y="176.5" font-size="5.23" fill="#4d4d4d" stroke="#4d4d4d" stroke-width="0.18" text-anchor="end" textLength="2.56" lengthAdjust="spacingAndGlyphs" >2</text>
<line x1="259.7" y1="174.9" x2="261.7" y2="174.9" stroke="#333" stroke-width="0.7" />
<text x="258.4" y="203.9" font-size="5.23" fill="#4d4d4d" stroke="#4d4d4d" stroke-width="0.18" text-anchor="end" textLength="2.56" lengthAdjust="spacingAndGlyphs" >1</text>
<line x1="259.7" y1="202.3" x2="261.7" y2="202.3" stroke="#333" stroke-width="0.7" />
<text x="258.4" y="231.3" font-size="5.23" fill="#4d4d4d" stroke="#4d4d4d" stroke-width="0.18" text-anchor="end" textLength="2.56" lengthAdjust="spacingAndGlyphs" >0</text>
<line x1="259.7" y1="229.7" x2="261.7" y2="229.7" stroke="#333" stroke-width="0.7" />
<text x="258.4" y="258.7" font-size="5.23" fill="#4d4d4d" stroke="#4d4d4d" stroke-width="0.18" text-anchor="end" textLength="4.09" lengthAdjust="spacingAndGlyphs" >-1</text>
<line x1="259.7" y1="257.1" x2="261.7" y2="257.1" stroke="#333" stroke-width="0.7" />
<text x="268.3" y="268.1" font-size="5.23" fill="#4d4d4d" stroke="#4d4d4d" stroke-width="0.18" text-anchor="middle" textLength="2.56" lengthAdjust="spacingAndGlyphs" >0</text>
<rect x="267.7" y="261.4" width="1.2" height="1.3" fill="#333" />
<text x="285.66" y="268.1" font-size="5.23" fill="#4d4d4d" stroke="#4d4d4d" stroke-width="0.18" text-anchor="middle" textLength="2.56" lengthAdjust="spacingAndGlyphs" >2</text>
<rect x="285.06" y="261.4" width="1.2" height="1.3" fill="#333" />
<text x="303.02" y="268.1" font-size="5.23" fill="#4d4d4d" stroke="#4d4d4d" stroke-width="0.18" text-anchor="middle" textLength="2.56" lengthAdjust="spacingAndGlyphs" >4</text>
<rect x="302.42" y="261.4" width="1.2" height="1.3" fill="#333" />
<text x="320.38" y="268.1" font-size="5.23" fill="#4d4d4d" stroke="#4d4d4d" stroke-width="0.18" text-anchor="middle" textLength="2.56" lengthAdjust="spacingAndGlyphs" >6</text>
<rect x="319.78" y="261.4" width="1.2" height="1.3" fill="#333" />
<text x="337.74" y="268.1" font-size="5.23" fill="#4d4d4d" stroke="#4d4d4d" stroke-width="0.18" text-anchor="middle" textLength="2.56" lengthAdjust="spacingAndGlyphs" >8</text>
<rect x="337.14" y="261.4" width="1.2" height="1.3" fill="#333" />
<text x="355.1" y="268.1" font-size="5.23" fill="#4d4d4d" stroke="#4d4d4d" stroke-width="0.18" text-anchor="middle" textLength="5.12" lengthAdjust="spacingAndGlyphs" >10</text>
<rect x="354.5" y="261.4" width="1.2" height="1.3" fill="#333" />
<text x="372.46" y="268.1" font-size="5.23" fill="#4d4d4d" stroke="#4d4d4d" stroke-width="0.18" text-anchor="middle" textLength="5.12" lengthAdjust="spacingAndGlyphs" >12</text>
<rect x="371.86" y="261.4" width="1.2" height="1.3" fill="#333" />
<text x="389.82" y="268.1" font-size="5.23" fill="#4d4d4d" stroke="#4d4d4d" stroke-width="0.18" text-anchor="middle" textLength="5.12" lengthAdjust="spacingAndGlyphs" >14</text>
<rect x="389.22" y="261.4" width="1.2" height="1.3" fill="#333" />
<text x="407.18" y="268.1" font-size="5.23" fill="#4d4d4d" stroke="#4d4d4d" stroke-width="0.18" text-anchor="middle" textLength="5.12" lengthAdjust="spacingAndGlyphs" >16</text>
<rect x="406.58" y="261.4" width="1.2" height="1.3" fill="#333" />
<text x="251.5" y="209.3" font-size="6.25" fill="#1a1a1a" stroke="#1a1a1a" stroke-width="0.08" text-anchor="middle" textLength="42.2" lengthAdjust="spacingAndGlyphs" transform="rotate(-90 251.5 209.3)" >Log2 fold change</text>
<text x="341.7" y="273.6" font-size="6.23" fill="#1a1a1a" stroke="#1a1a1a" stroke-width="0.22" text-anchor="middle" textLength="55.5" lengthAdjust="spacingAndGlyphs" >Log2 mean expression</text>
<g fill="#f2b21c"><rect x="323.61" y="220.83" width="1.15" height="1.15"/><rect x="316.24" y="220.17" width="1.15" height="1.15"/><rect x="313.88" y="222.69" width="1.15" height="1.15"/><rect x="328.61" y="211.69" width="1.15" height="1.15"/><rect x="331.67" y="222" width="1.15" height="1.15"/><rect x="323.22" y="222.87" width="1.15" height="1.15"/><rect x="380.82" y="221.85" width="1.15" height="1.15"/><rect x="365.45" y="223.86" width="1.15" height="1.15"/><rect x="351.61" y="223.01" width="1.15" height="1.15"/><rect x="360.7" y="222.93" width="1.15" height="1.15"/><rect x="320.82" y="222.92" width="1.15" height="1.15"/><rect x="340.23" y="215.97" width="1.15" height="1.15"/><rect x="320.4" y="221.01" width="1.15" height="1.15"/><rect x="357.88" y="222.78" width="1.15" height="1.15"/><rect x="333.59" y="219.59" width="1.15" height="1.15"/><rect x="337.74" y="222.55" width="1.15" height="1.15"/><rect x="338.85" y="221.51" width="1.15" height="1.15"/><rect x="329.74" y="222.94" width="1.15" height="1.15"/><rect x="334.04" y="221.8" width="1.15" height="1.15"/><rect x="333.44" y="221.74" width="1.15" height="1.15"/><rect x="347.85" y="218.56" width="1.15" height="1.15"/><rect x="334.86" y="220.28" width="1.15" height="1.15"/><rect x="334.33" y="222.19" width="1.15" height="1.15"/><rect x="367.34" y="224.15" width="1.15" height="1.15"/><rect x="358.29" y="223.48" width="1.15" height="1.15"/><rect x="337.55" y="219.58" width="1.15" height="1.15"/><rect x="318.25" y="221.28" width="1.15" height="1.15"/><rect x="334.37" y="218.54" width="1.15" height="1.15"/><rect x="347.54" y="218.01" width="1.15" height="1.15"/><rect x="327.71" y="220.71" width="1.15" height="1.15"/><rect x="336.92" y="220.73" width="1.15" height="1.15"/><rect x="364.05" y="223.16" width="1.15" height="1.15"/><rect x="359.8" y="222.13" width="1.15" height="1.15"/><rect x="334.88" y="220.19" width="1.15" height="1.15"/><rect x="362.63" y="222.56" width="1.15" height="1.15"/><rect x="319.88" y="220.65" width="1.15" height="1.15"/><rect x="328.43" y="219.98" width="1.15" height="1.15"/><rect x="301.35" y="222.03" width="1.15" height="1.15"/><rect x="350.95" y="222.46" width="1.15" height="1.15"/><rect x="347.12" y="221.7" width="1.15" height="1.15"/><rect x="311.4" y="222.14" width="1.15" height="1.15"/><rect x="331.98" y="222.25" width="1.15" height="1.15"/><rect x="350.4" y="221.06" width="1.15" height="1.15"/><rect x="345.83" y="218.19" width="1.15" height="1.15"/><rect x="318.99" y="222.62" width="1.15" height="1.15"/><rect x="339.18" y="222.53" width="1.15" height="1.15"/><rect x="354.13" y="222.67" width="1.15" height="1.15"/><rect x="338.54" y="222.56" width="1.15" height="1.15"/><rect x="334.43" y="221.78" width="1.15" height="1.15"/><rect x="327.95" y="222.46" width="1.15" height="1.15"/><rect x="343.86" y="221.66" width="1.15" height="1.15"/><rect x="326.87" y="220.91" width="1.15" height="1.15"/><rect x="312.99" y="222.25" width="1.15" height="1.15"/><rect x="329.03" y="221.69" width="1.15" height="1.15"/><rect x="345.9" y="221.67" width="1.15" height="1.15"/><rect x="347.1" y="220.2" width="1.15" height="1.15"/><rect x="323.72" y="219.25" width="1.15" height="1.15"/><rect x="327.72" y="222.75" width="1.15" height="1.15"/><rect x="314.13" y="222.08" width="1.15" height="1.15"/><rect x="318.58" y="222.07" width="1.15" height="1.15"/><rect x="312.31" y="222.64" width="1.15" height="1.15"/><rect x="356.33" y="217.71" width="1.15" height="1.15"/><rect x="355.79" y="220.56" width="1.15" height="1.15"/><rect x="307.4" y="222.37" width="1.15" height="1.15"/><rect x="343.7" y="217.72" width="1.15" height="1.15"/><rect x="327.37" y="222.65" width="1.15" height="1.15"/><rect x="334.49" y="222.62" width="1.15" height="1.15"/><rect x="348.53" y="221.46" width="1.15" height="1.15"/><rect x="319.29" y="221.67" width="1.15" height="1.15"/><rect x="333.46" y="221.63" width="1.15" height="1.15"/><rect x="326.28" y="222" width="1.15" height="1.15"/><rect x="324.89" y="222.39" width="1.15" height="1.15"/><rect x="354.1" y="218.07" width="1.15" height="1.15"/><rect x="316.79" y="222.08" width="1.15" height="1.15"/><rect x="342.59" y="222.94" width="1.15" height="1.15"/><rect x="330" y="221.75" width="1.15" height="1.15"/><rect x="328.24" y="216.63" width="1.15" height="1.15"/><rect x="315.69" y="216.95" width="1.15" height="1.15"/><rect x="326.07" y="220.38" width="1.15" height="1.15"/><rect x="339.55" y="222.32" width="1.15" height="1.15"/><rect x="304.16" y="216.63" width="1.15" height="1.15"/><rect x="311.06" y="222.22" width="1.15" height="1.15"/><rect x="316.86" y="222.94" width="1.15" height="1.15"/><rect x="322.55" y="220.63" width="1.15" height="1.15"/><rect x="328.65" y="219.24" width="1.15" height="1.15"/><rect x="352.13" y="222.73" width="1.15" height="1.15"/><rect x="329.63" y="222.08" width="1.15" height="1.15"/><rect x="347.34" y="221.71" width="1.15" height="1.15"/><rect x="337.5" y="222.83" width="1.15" height="1.15"/><rect x="355.81" y="223.03" width="1.15" height="1.15"/><rect x="322.76" y="222.32" width="1.15" height="1.15"/><rect x="329.85" y="222.24" width="1.15" height="1.15"/><rect x="345.9" y="222.66" width="1.15" height="1.15"/><rect x="353.27" y="222.43" width="1.15" height="1.15"/><rect x="325.16" y="222.06" width="1.15" height="1.15"/><rect x="359.83" y="223.52" width="1.15" height="1.15"/><rect x="337.69" y="214.2" width="1.15" height="1.15"/><rect x="369.37" y="223.58" width="1.15" height="1.15"/><rect x="338.95" y="221.1" width="1.15" height="1.15"/><rect x="349.15" y="221.96" width="1.15" height="1.15"/><rect x="353.71" y="222.15" width="1.15" height="1.15"/><rect x="331.07" y="220.31" width="1.15" height="1.15"/><rect x="334.73" y="220.87" width="1.15" height="1.15"/><rect x="317.48" y="222.22" width="1.15" height="1.15"/><rect x="361.41" y="223.01" width="1.15" height="1.15"/><rect x="318.24" y="222.68" width="1.15" height="1.15"/><rect x="332.46" y="221.76" width="1.15" height="1.15"/><rect x="350.1" y="222.46" width="1.15" height="1.15"/><rect x="346.09" y="221.87" width="1.15" height="1.15"/><rect x="322.97" y="222.7" width="1.15" height="1.15"/><rect x="371.66" y="223.54" width="1.15" height="1.15"/><rect x="316.11" y="218.92" width="1.15" height="1.15"/><rect x="341.21" y="221.62" width="1.15" height="1.15"/><rect x="324.7" y="221.23" width="1.15" height="1.15"/><rect x="351.01" y="219.4" width="1.15" height="1.15"/><rect x="316.61" y="211.98" width="1.15" height="1.15"/><rect x="306.85" y="219.51" width="1.15" height="1.15"/><rect x="325.13" y="219.55" width="1.15" height="1.15"/><rect x="368.34" y="223.25" width="1.15" height="1.15"/><rect x="342.46" y="222.6" width="1.15" height="1.15"/><rect x="337.3" y="220.12" width="1.15" height="1.15"/><rect x="316.59" y="221.19" width="1.15" height="1.15"/><rect x="345.49" y="222.99" width="1.15" height="1.15"/><rect x="342.13" y="221.34" width="1.15" height="1.15"/><rect x="327.13" y="219.72" width="1.15" height="1.15"/><rect x="335.53" y="222.53" width="1.15" height="1.15"/><rect x="333.17" y="220.63" width="1.15" height="1.15"/><rect x="359.8" y="221.5" width="1.15" height="1.15"/><rect x="328.07" y="222.96" width="1.15" height="1.15"/><rect x="342.02" y="222.87" width="1.15" height="1.15"/><rect x="327.52" y="221.55" width="1.15" height="1.15"/><rect x="357.72" y="219.78" width="1.15" height="1.15"/><rect x="321.49" y="222.87" width="1.15" height="1.15"/><rect x="375.19" y="223.44" width="1.15" height="1.15"/><rect x="369.49" y="224.28" width="1.15" height="1.15"/><rect x="368.19" y="221.91" width="1.15" height="1.15"/><rect x="341.14" y="218.51" width="1.15" height="1.15"/><rect x="319.44" y="217.42" width="1.15" height="1.15"/><rect x="326.11" y="222.14" width="1.15" height="1.15"/><rect x="339.21" y="218.72" width="1.15" height="1.15"/><rect x="323.53" y="211.97" width="1.15" height="1.15"/><rect x="338.82" y="208.33" width="1.15" height="1.15"/><rect x="331.49" y="207.47" width="1.15" height="1.15"/><rect x="308.9" y="209.39" width="1.15" height="1.15"/><rect x="334.56" y="211.97" width="1.15" height="1.15"/><rect x="336.66" y="212.26" width="1.15" height="1.15"/><rect x="344.63" y="212.73" width="1.15" height="1.15"/><rect x="346.59" y="215.57" width="1.15" height="1.15"/><rect x="333.19" y="205.77" width="1.15" height="1.15"/><rect x="333.27" y="209.41" width="1.15" height="1.15"/><rect x="328.37" y="212.9" width="1.15" height="1.15"/><rect x="339.09" y="215.24" width="1.15" height="1.15"/><rect x="364.64" y="210.8" width="1.15" height="1.15"/><rect x="334.57" y="209.83" width="1.15" height="1.15"/><rect x="349.04" y="215.68" width="1.15" height="1.15"/><rect x="351.43" y="213.8" width="1.15" height="1.15"/><rect x="334.46" y="214.83" width="1.15" height="1.15"/><rect x="336.76" y="208.87" width="1.15" height="1.15"/><rect x="316.76" y="215.65" width="1.15" height="1.15"/><rect x="342.61" y="216.6" width="1.15" height="1.15"/><rect x="354.66" y="209.53" width="1.15" height="1.15"/><rect x="334.51" y="210.95" width="1.15" height="1.15"/></g>
<g fill="#2f6fbf"><rect x="368.45" y="234.14" width="1.1" height="1.1"/><rect x="380.47" y="235.72" width="1.1" height="1.1"/><rect x="344.41" y="235.05" width="1.1" height="1.1"/><rect x="347.56" y="234.42" width="1.1" height="1.1"/><rect x="344.56" y="234.13" width="1.1" height="1.1"/><rect x="321.77" y="234.02" width="1.1" height="1.1"/><rect x="327.34" y="236.59" width="1.1" height="1.1"/><rect x="384.41" y="233.83" width="1.1" height="1.1"/><rect x="328.84" y="236.18" width="1.1" height="1.1"/><rect x="336.97" y="234.12" width="1.1" height="1.1"/><rect x="341.14" y="236.56" width="1.1" height="1.1"/><rect x="355.44" y="234.21" width="1.1" height="1.1"/><rect x="376.25" y="232.84" width="1.1" height="1.1"/><rect x="351.64" y="235.81" width="1.1" height="1.1"/><rect x="345.4" y="234.33" width="1.1" height="1.1"/><rect x="347.84" y="234.8" width="1.1" height="1.1"/><rect x="369.39" y="234.2" width="1.1" height="1.1"/><rect x="315.38" y="233.85" width="1.1" height="1.1"/><rect x="342.11" y="236.05" width="1.1" height="1.1"/><rect x="349.83" y="237.29" width="1.1" height="1.1"/><rect x="352.82" y="238.28" width="1.1" height="1.1"/><rect x="337.26" y="234.16" width="1.1" height="1.1"/></g>
<path d="M260.7 229.25 L262.7 229.25 L264.7 229.25 L266.7 229.25 L268.7 229.25 L270.7 228.96 L272.7 228.5 L274.7 228.09 L276.7 227.71 L278.7 227.34 L280.7 226.99 L282.7 226.65 L284.7 226.31 L286.7 225.98 L288.7 225.65 L290.7 225.33 L292.7 225.02 L294.7 224.71 L296.7 224.4 L298.7 224.1 L300.7 223.8 L302.7 223.5 L304.7 223.51 L306.7 223.52 L308.7 223.52 L310.7 223.53 L312.7 223.54 L314.7 223.55 L316.7 223.56 L318.7 223.56 L320.7 223.57 L322.7 223.58 L324.7 223.59 L326.7 223.6 L328.7 223.6 L330.7 223.61 L332.7 223.62 L334.7 223.63 L336.7 223.64 L338.7 223.64 L340.7 223.65 L342.7 223.66 L344.7 223.67 L346.7 223.68 L348.7 223.68 L350.7 223.69 L352.7 223.7 L354.7 223.85 L356.7 224 L358.7 224.15 L360.7 224.31 L362.7 224.46 L364.7 224.61 L366.7 224.76 L368.7 224.91 L370.7 225.06 L372.7 225.21 L374.7 225.36 L376.7 225.52 L378.7 225.67 L380.7 225.82 L382.7 225.97 L384.7 226.12 L386.7 226.27 L388.7 226.42 L390.7 227.05 L392.7 228.15 L394.7 229.25 L396.7 229.25 L396.7 230.15 L394.7 230.15 L392.7 231.13 L390.7 232.11 L388.7 232.65 L386.7 232.76 L384.7 232.87 L382.7 232.98 L380.7 233.09 L378.7 233.19 L376.7 233.3 L374.7 233.41 L372.7 233.52 L370.7 233.63 L368.7 233.74 L366.7 233.84 L364.7 233.95 L362.7 234.06 L360.7 234.17 L358.7 234.28 L356.7 234.38 L354.7 234.49 L352.7 234.6 L350.7 234.58 L348.7 234.56 L346.7 234.54 L344.7 234.52 L342.7 234.5 L340.7 234.48 L338.7 234.46 L336.7 234.44 L334.7 234.42 L332.7 234.4 L330.7 234.38 L328.7 234.36 L326.7 234.34 L324.7 234.32 L322.7 234.3 L320.7 234.28 L318.7 234.26 L316.7 234.24 L314.7 234.22 L312.7 234.2 L310.7 234.18 L308.7 234.16 L306.7 234.14 L304.7 234.12 L302.7 234.1 L300.7 233.95 L298.7 233.81 L296.7 233.65 L294.7 233.49 L292.7 233.33 L290.7 233.16 L288.7 232.99 L286.7 232.8 L284.7 232.61 L282.7 232.41 L280.7 232.19 L278.7 231.96 L276.7 231.71 L274.7 231.42 L272.7 231.09 L270.7 230.63 L268.7 230.15 L266.7 230.15 L264.7 230.15 L262.7 230.15 L260.7 230.15Z" fill="#acacac" />
<g fill="#b0b0b0"><rect x="285.88" y="224.78" width="0.9" height="0.9"/><rect x="311.54" y="233.65" width="0.9" height="0.9"/><rect x="366.82" y="223.88" width="0.9" height="0.9"/><rect x="378.65" y="233.36" width="0.9" height="0.9"/><rect x="331.58" y="235.6" width="0.9" height="0.9"/><rect x="289.52" y="224.48" width="0.9" height="0.9"/><rect x="310.65" y="234.43" width="0.9" height="0.9"/><rect x="275.26" y="227.97" width="0.9" height="0.9"/><rect x="306.7" y="234.83" width="0.9" height="0.9"/><rect x="329.69" y="235.01" width="0.9" height="0.9"/><rect x="371.57" y="223.8" width="0.9" height="0.9"/><rect x="296.68" y="223.37" width="0.9" height="0.9"/><rect x="378.95" y="233.07" width="0.9" height="0.9"/><rect x="316.42" y="233.54" width="0.9" height="0.9"/><rect x="318.84" y="223.1" width="0.9" height="0.9"/><rect x="374.61" y="225.15" width="0.9" height="0.9"/><rect x="283.96" y="225.5" width="0.9" height="0.9"/><rect x="275.52" y="231.53" width="0.9" height="0.9"/><rect x="318.1" y="223.4" width="0.9" height="0.9"/><rect x="334.03" y="223.54" width="0.9" height="0.9"/><rect x="293.58" y="234.18" width="0.9" height="0.9"/><rect x="388.65" y="232.36" width="0.9" height="0.9"/><rect x="289.94" y="233.8" width="0.9" height="0.9"/><rect x="375.92" y="224.27" width="0.9" height="0.9"/><rect x="349.65" y="223.37" width="0.9" height="0.9"/><rect x="361.88" y="224.27" width="0.9" height="0.9"/><rect x="379.76" y="225.03" width="0.9" height="0.9"/><rect x="293.89" y="224.09" width="0.9" height="0.9"/><rect x="334.54" y="223.4" width="0.9" height="0.9"/><rect x="336.98" y="223.54" width="0.9" height="0.9"/><rect x="341" y="222.55" width="0.9" height="0.9"/><rect x="382.19" y="234.3" width="0.9" height="0.9"/><rect x="297.9" y="223.6" width="0.9" height="0.9"/><rect x="284.83" y="231.91" width="0.9" height="0.9"/><rect x="369.3" y="233.03" width="0.9" height="0.9"/><rect x="383.65" y="233.55" width="0.9" height="0.9"/><rect x="342.15" y="234.97" width="0.9" height="0.9"/><rect x="351.35" y="222.75" width="0.9" height="0.9"/><rect x="356.82" y="235.28" width="0.9" height="0.9"/><rect x="320.88" y="234" width="0.9" height="0.9"/><rect x="342.12" y="235.29" width="0.9" height="0.9"/><rect x="284.85" y="226.01" width="0.9" height="0.9"/><rect x="361.47" y="223.52" width="0.9" height="0.9"/><rect x="334.55" y="222.73" width="0.9" height="0.9"/><rect x="332.29" y="223.35" width="0.9" height="0.9"/><rect x="370.26" y="223.55" width="0.9" height="0.9"/><rect x="344.21" y="235.75" width="0.9" height="0.9"/><rect x="277.68" y="231.26" width="0.9" height="0.9"/><rect x="385.13" y="225.08" width="0.9" height="0.9"/><rect x="353.52" y="235.14" width="0.9" height="0.9"/><rect x="338.62" y="235.19" width="0.9" height="0.9"/><rect x="275.49" y="232.29" width="0.9" height="0.9"/><rect x="349.74" y="234.09" width="0.9" height="0.9"/><rect x="302.11" y="233.39" width="0.9" height="0.9"/><rect x="292.01" y="224.19" width="0.9" height="0.9"/><rect x="278.88" y="226.12" width="0.9" height="0.9"/><rect x="328.49" y="223.51" width="0.9" height="0.9"/><rect x="289.32" y="233.64" width="0.9" height="0.9"/><rect x="313.88" y="234.92" width="0.9" height="0.9"/><rect x="303.81" y="222.12" width="0.9" height="0.9"/><rect x="303.78" y="234.31" width="0.9" height="0.9"/><rect x="383.59" y="233.81" width="0.9" height="0.9"/><rect x="362.39" y="233.48" width="0.9" height="0.9"/><rect x="355.07" y="222.75" width="0.9" height="0.9"/><rect x="327.35" y="223.02" width="0.9" height="0.9"/><rect x="391.07" y="232.6" width="0.9" height="0.9"/><rect x="282.61" y="226.26" width="0.9" height="0.9"/><rect x="342.51" y="222.24" width="0.9" height="0.9"/><rect x="321.07" y="223.21" width="0.9" height="0.9"/><rect x="344.93" y="235.51" width="0.9" height="0.9"/><rect x="286.83" y="233.9" width="0.9" height="0.9"/><rect x="346.73" y="234.42" width="0.9" height="0.9"/><rect x="295.53" y="223.14" width="0.9" height="0.9"/><rect x="337.17" y="234.69" width="0.9" height="0.9"/><rect x="371.1" y="223.96" width="0.9" height="0.9"/><rect x="299.22" y="234.41" width="0.9" height="0.9"/><rect x="393.41" y="230.38" width="0.9" height="0.9"/><rect x="388.85" y="225.59" width="0.9" height="0.9"/><rect x="386.75" y="232.19" width="0.9" height="0.9"/><rect x="338.36" y="222.37" width="0.9" height="0.9"/><rect x="330.38" y="235.32" width="0.9" height="0.9"/><rect x="333.39" y="235.1" width="0.9" height="0.9"/><rect x="291.1" y="225.07" width="0.9" height="0.9"/><rect x="391.23" y="226.89" width="0.9" height="0.9"/><rect x="375.11" y="232.9" width="0.9" height="0.9"/><rect x="371.51" y="223.94" width="0.9" height="0.9"/><rect x="379.15" y="233.65" width="0.9" height="0.9"/><rect x="291.87" y="232.7" width="0.9" height="0.9"/><rect x="355.91" y="234.22" width="0.9" height="0.9"/><rect x="341.98" y="235.11" width="0.9" height="0.9"/><rect x="320" y="222.23" width="0.9" height="0.9"/><rect x="374.95" y="224.36" width="0.9" height="0.9"/><rect x="358.92" y="234.05" width="0.9" height="0.9"/><rect x="315.23" y="233.99" width="0.9" height="0.9"/><rect x="292.44" y="223.74" width="0.9" height="0.9"/><rect x="389.89" y="225.49" width="0.9" height="0.9"/><rect x="302.33" y="233.3" width="0.9" height="0.9"/><rect x="355.45" y="234.76" width="0.9" height="0.9"/><rect x="362.61" y="223.76" width="0.9" height="0.9"/><rect x="384.39" y="224.98" width="0.9" height="0.9"/><rect x="358.55" y="235.11" width="0.9" height="0.9"/><rect x="317.39" y="235.24" width="0.9" height="0.9"/><rect x="334.5" y="234.53" width="0.9" height="0.9"/><rect x="355.35" y="223.21" width="0.9" height="0.9"/><rect x="317.86" y="234.8" width="0.9" height="0.9"/><rect x="360.62" y="234.39" width="0.9" height="0.9"/><rect x="299.11" y="234.02" width="0.9" height="0.9"/><rect x="322.85" y="233.79" width="0.9" height="0.9"/><rect x="365.47" y="233.92" width="0.9" height="0.9"/><rect x="297.3" y="234.26" width="0.9" height="0.9"/><rect x="319.3" y="222.71" width="0.9" height="0.9"/><rect x="305.39" y="234.9" width="0.9" height="0.9"/><rect x="313.45" y="223.41" width="0.9" height="0.9"/><rect x="306.13" y="235.28" width="0.9" height="0.9"/><rect x="334.44" y="234.18" width="0.9" height="0.9"/><rect x="289.17" y="233.06" width="0.9" height="0.9"/><rect x="313.93" y="222.63" width="0.9" height="0.9"/><rect x="305.49" y="222.62" width="0.9" height="0.9"/><rect x="366.77" y="233.39" width="0.9" height="0.9"/><rect x="334.89" y="235.57" width="0.9" height="0.9"/><rect x="293.42" y="233.52" width="0.9" height="0.9"/><rect x="364.08" y="224.2" width="0.9" height="0.9"/><rect x="306.48" y="234" width="0.9" height="0.9"/><rect x="376.49" y="224.26" width="0.9" height="0.9"/><rect x="355.06" y="235.77" width="0.9" height="0.9"/><rect x="291.68" y="234.43" width="0.9" height="0.9"/><rect x="331.41" y="223.57" width="0.9" height="0.9"/><rect x="303.65" y="223.37" width="0.9" height="0.9"/><rect x="346.84" y="235.73" width="0.9" height="0.9"/><rect x="367.67" y="223.44" width="0.9" height="0.9"/><rect x="387.7" y="233.75" width="0.9" height="0.9"/><rect x="370.42" y="232.89" width="0.9" height="0.9"/><rect x="275.31" y="227.12" width="0.9" height="0.9"/><rect x="346.15" y="222.91" width="0.9" height="0.9"/><rect x="318.92" y="233.53" width="0.9" height="0.9"/><rect x="322.96" y="234.51" width="0.9" height="0.9"/><rect x="277.47" y="233.05" width="0.9" height="0.9"/><rect x="347.83" y="234.59" width="0.9" height="0.9"/><rect x="348.23" y="235.13" width="0.9" height="0.9"/><rect x="388.59" y="225.02" width="0.9" height="0.9"/><rect x="325.71" y="222.25" width="0.9" height="0.9"/><rect x="390.3" y="232.74" width="0.9" height="0.9"/><rect x="276.35" y="230.99" width="0.9" height="0.9"/><rect x="348.39" y="222.77" width="0.9" height="0.9"/><rect x="296.79" y="223.23" width="0.9" height="0.9"/><rect x="355.82" y="222.46" width="0.9" height="0.9"/><rect x="277.73" y="226.45" width="0.9" height="0.9"/><rect x="356.06" y="235.61" width="0.9" height="0.9"/><rect x="288.14" y="232.69" width="0.9" height="0.9"/><rect x="358.61" y="234.86" width="0.9" height="0.9"/><rect x="386.77" y="232.89" width="0.9" height="0.9"/><rect x="352.6" y="222.33" width="0.9" height="0.9"/><rect x="329.32" y="235.42" width="0.9" height="0.9"/><rect x="391.37" y="232.54" width="0.9" height="0.9"/><rect x="349.12" y="222.52" width="0.9" height="0.9"/><rect x="361.6" y="223.53" width="0.9" height="0.9"/><rect x="368.35" y="223.64" width="0.9" height="0.9"/><rect x="378.51" y="233.05" width="0.9" height="0.9"/><rect x="367.35" y="233.76" width="0.9" height="0.9"/><rect x="316.37" y="222.3" width="0.9" height="0.9"/><rect x="313.32" y="223.16" width="0.9" height="0.9"/><rect x="352.64" y="235.71" width="0.9" height="0.9"/><rect x="285.84" y="224.87" width="0.9" height="0.9"/><rect x="385.83" y="225.54" width="0.9" height="0.9"/><rect x="319.23" y="234.19" width="0.9" height="0.9"/><rect x="283.75" y="231.99" width="0.9" height="0.9"/><rect x="337.92" y="234.7" width="0.9" height="0.9"/><rect x="379.2" y="225.67" width="0.9" height="0.9"/><rect x="298.54" y="233.24" width="0.9" height="0.9"/><rect x="284.99" y="226.18" width="0.9" height="0.9"/><rect x="317.71" y="233.95" width="0.9" height="0.9"/><rect x="385.41" y="225.63" width="0.9" height="0.9"/><rect x="331.29" y="233.69" width="0.9" height="0.9"/><rect x="388.27" y="224.94" width="0.9" height="0.9"/><rect x="352.48" y="234.93" width="0.9" height="0.9"/><rect x="368.55" y="233.26" width="0.9" height="0.9"/><rect x="301.81" y="233.72" width="0.9" height="0.9"/><rect x="308.72" y="222.45" width="0.9" height="0.9"/><rect x="385.01" y="224.85" width="0.9" height="0.9"/><rect x="290.76" y="233.5" width="0.9" height="0.9"/><rect x="310.07" y="222.79" width="0.9" height="0.9"/><rect x="384.36" y="225.75" width="0.9" height="0.9"/><rect x="311.81" y="222.14" width="0.9" height="0.9"/><rect x="304.7" y="235.24" width="0.9" height="0.9"/><rect x="319.66" y="223.56" width="0.9" height="0.9"/><rect x="292.82" y="233.63" width="0.9" height="0.9"/><rect x="337.06" y="223.05" width="0.9" height="0.9"/><rect x="294.26" y="234.18" width="0.9" height="0.9"/><rect x="300.52" y="235.34" width="0.9" height="0.9"/><rect x="372.24" y="224.21" width="0.9" height="0.9"/><rect x="290.09" y="224.22" width="0.9" height="0.9"/><rect x="373.72" y="233.9" width="0.9" height="0.9"/><rect x="323.79" y="234.64" width="0.9" height="0.9"/><rect x="390.22" y="232.28" width="0.9" height="0.9"/><rect x="388.84" y="225.51" width="0.9" height="0.9"/><rect x="392.69" y="231.7" width="0.9" height="0.9"/><rect x="302.69" y="222.26" width="0.9" height="0.9"/><rect x="317.79" y="222.69" width="0.9" height="0.9"/><rect x="333.16" y="234" width="0.9" height="0.9"/><rect x="346.31" y="234.11" width="0.9" height="0.9"/><rect x="329.12" y="223.41" width="0.9" height="0.9"/><rect x="294.87" y="223.86" width="0.9" height="0.9"/><rect x="293.89" y="233.45" width="0.9" height="0.9"/><rect x="316.74" y="235.07" width="0.9" height="0.9"/><rect x="337.04" y="222.87" width="0.9" height="0.9"/><rect x="365.48" y="234.57" width="0.9" height="0.9"/><rect x="274.85" y="226.57" width="0.9" height="0.9"/><rect x="351.21" y="234.04" width="0.9" height="0.9"/><rect x="384.82" y="232.75" width="0.9" height="0.9"/><rect x="312.67" y="223.08" width="0.9" height="0.9"/><rect x="346.48" y="223.66" width="0.9" height="0.9"/><rect x="288.41" y="224.45" width="0.9" height="0.9"/><rect x="343.77" y="222.32" width="0.9" height="0.9"/><rect x="380.49" y="233.84" width="0.9" height="0.9"/><rect x="348.35" y="222.58" width="0.9" height="0.9"/><rect x="306.4" y="222.37" width="0.9" height="0.9"/><rect x="386.77" y="225.07" width="0.9" height="0.9"/><rect x="308.71" y="223.45" width="0.9" height="0.9"/><rect x="339.29" y="234.08" width="0.9" height="0.9"/><rect x="374.49" y="223.96" width="0.9" height="0.9"/><rect x="321.32" y="223.47" width="0.9" height="0.9"/><rect x="349.58" y="222.52" width="0.9" height="0.9"/><rect x="331.95" y="223.38" width="0.9" height="0.9"/><rect x="381.69" y="232.72" width="0.9" height="0.9"/><rect x="336.75" y="235.06" width="0.9" height="0.9"/><rect x="313.61" y="222.33" width="0.9" height="0.9"/><rect x="282.29" y="233.12" width="0.9" height="0.9"/><rect x="347" y="235.78" width="0.9" height="0.9"/><rect x="320.1" y="235.06" width="0.9" height="0.9"/><rect x="378.13" y="224.58" width="0.9" height="0.9"/><rect x="327.28" y="222.24" width="0.9" height="0.9"/><rect x="311.87" y="234.07" width="0.9" height="0.9"/><rect x="290.39" y="224.46" width="0.9" height="0.9"/><rect x="364.14" y="233.52" width="0.9" height="0.9"/><rect x="313.04" y="234.56" width="0.9" height="0.9"/><rect x="378.15" y="233.35" width="0.9" height="0.9"/><rect x="279.33" y="233.23" width="0.9" height="0.9"/><rect x="374.83" y="224.43" width="0.9" height="0.9"/><rect x="369.91" y="224.44" width="0.9" height="0.9"/><rect x="311.49" y="233.49" width="0.9" height="0.9"/><rect x="277.89" y="227.03" width="0.9" height="0.9"/><rect x="355.58" y="233.97" width="0.9" height="0.9"/><rect x="352.74" y="223.6" width="0.9" height="0.9"/><rect x="321.41" y="222.4" width="0.9" height="0.9"/><rect x="353.67" y="234.36" width="0.9" height="0.9"/><rect x="329.63" y="223.18" width="0.9" height="0.9"/><rect x="368.45" y="223.95" width="0.9" height="0.9"/><rect x="388.31" y="232.22" width="0.9" height="0.9"/><rect x="281.97" y="225.54" width="0.9" height="0.9"/><rect x="384.04" y="233.7" width="0.9" height="0.9"/><rect x="294.3" y="232.68" width="0.9" height="0.9"/><rect x="279.15" y="231.23" width="0.9" height="0.9"/><rect x="332.51" y="222.31" width="0.9" height="0.9"/><rect x="323.85" y="222.56" width="0.9" height="0.9"/><rect x="296.3" y="234.85" width="0.9" height="0.9"/><rect x="361.28" y="224.05" width="0.9" height="0.9"/><rect x="374.78" y="224.31" width="0.9" height="0.9"/><rect x="303.98" y="235.19" width="0.9" height="0.9"/><rect x="314.86" y="233.74" width="0.9" height="0.9"/><rect x="367.87" y="224.48" width="0.9" height="0.9"/><rect x="284.77" y="225.5" width="0.9" height="0.9"/><rect x="388.36" y="233.88" width="0.9" height="0.9"/><rect x="309.3" y="234.3" width="0.9" height="0.9"/><rect x="367.98" y="233.57" width="0.9" height="0.9"/><rect x="314.02" y="223.03" width="0.9" height="0.9"/><rect x="376.72" y="233.96" width="0.9" height="0.9"/><rect x="281.56" y="233.18" width="0.9" height="0.9"/><rect x="301.04" y="234.05" width="0.9" height="0.9"/><rect x="352.42" y="223.32" width="0.9" height="0.9"/><rect x="333.76" y="234.17" width="0.9" height="0.9"/><rect x="352.16" y="223.37" width="0.9" height="0.9"/><rect x="365.28" y="224.6" width="0.9" height="0.9"/><rect x="308.49" y="222.6" width="0.9" height="0.9"/><rect x="284.29" y="231.94" width="0.9" height="0.9"/><rect x="278.68" y="226.84" width="0.9" height="0.9"/><rect x="369.05" y="224.63" width="0.9" height="0.9"/><rect x="390" y="231.78" width="0.9" height="0.9"/><rect x="288.5" y="225.14" width="0.9" height="0.9"/><rect x="369.65" y="234.28" width="0.9" height="0.9"/><rect x="321.2" y="223.48" width="0.9" height="0.9"/><rect x="284.18" y="233.66" width="0.9" height="0.9"/><rect x="326.43" y="222.3" width="0.9" height="0.9"/><rect x="306.94" y="222.18" width="0.9" height="0.9"/><rect x="278.14" y="227.15" width="0.9" height="0.9"/><rect x="337.38" y="235.76" width="0.9" height="0.9"/><rect x="380.17" y="233.14" width="0.9" height="0.9"/><rect x="378.16" y="234.41" width="0.9" height="0.9"/><rect x="325.74" y="233.95" width="0.9" height="0.9"/><rect x="356.48" y="235.23" width="0.9" height="0.9"/><rect x="380.7" y="225.26" width="0.9" height="0.9"/><rect x="353.26" y="234.29" width="0.9" height="0.9"/><rect x="350.3" y="235.29" width="0.9" height="0.9"/><rect x="310.55" y="222.99" width="0.9" height="0.9"/><rect x="301.79" y="234.39" width="0.9" height="0.9"/><rect x="281.28" y="233.47" width="0.9" height="0.9"/><rect x="301.83" y="222.19" width="0.9" height="0.9"/><rect x="279.1" y="226.72" width="0.9" height="0.9"/><rect x="392.79" y="227.41" width="0.9" height="0.9"/><rect x="380.76" y="233.26" width="0.9" height="0.9"/><rect x="365.8" y="234.16" width="0.9" height="0.9"/><rect x="312.41" y="235.17" width="0.9" height="0.9"/><rect x="288.32" y="233.07" width="0.9" height="0.9"/><rect x="297.36" y="224.2" width="0.9" height="0.9"/><rect x="389.94" y="232.64" width="0.9" height="0.9"/><rect x="390.65" y="226.97" width="0.9" height="0.9"/><rect x="356.95" y="223.11" width="0.9" height="0.9"/><rect x="288.61" y="234.05" width="0.9" height="0.9"/><rect x="300.13" y="233.32" width="0.9" height="0.9"/><rect x="294.79" y="233.23" width="0.9" height="0.9"/><rect x="329.72" y="222.47" width="0.9" height="0.9"/><rect x="383.25" y="232.67" width="0.9" height="0.9"/><rect x="311.13" y="234.27" width="0.9" height="0.9"/><rect x="290.79" y="232.89" width="0.9" height="0.9"/><rect x="363.38" y="224.27" width="0.9" height="0.9"/><rect x="379.89" y="232.67" width="0.9" height="0.9"/><rect x="304.48" y="233.68" width="0.9" height="0.9"/><rect x="335.77" y="223.33" width="0.9" height="0.9"/><rect x="305.19" y="222.6" width="0.9" height="0.9"/><rect x="330.16" y="235.68" width="0.9" height="0.9"/><rect x="343.9" y="222.36" width="0.9" height="0.9"/><rect x="369.62" y="223.76" width="0.9" height="0.9"/><rect x="309.38" y="223.18" width="0.9" height="0.9"/><rect x="321.22" y="234.04" width="0.9" height="0.9"/><rect x="284.96" y="225.06" width="0.9" height="0.9"/><rect x="344.97" y="234.46" width="0.9" height="0.9"/><rect x="294.76" y="223.57" width="0.9" height="0.9"/><rect x="345.24" y="235.81" width="0.9" height="0.9"/><rect x="411.42" y="233.8" width="0.9" height="0.9"/><rect x="420.11" y="232.33" width="0.9" height="0.9"/><rect x="413.34" y="225.42" width="0.9" height="0.9"/><rect x="408.58" y="228.84" width="0.9" height="0.9"/><rect x="401.15" y="232.4" width="0.9" height="0.9"/><rect x="408.15" y="228.95" width="0.9" height="0.9"/><rect x="420.12" y="231.93" width="0.9" height="0.9"/><rect x="417.03" y="228.2" width="0.9" height="0.9"/><rect x="422.69" y="226.74" width="0.9" height="0.9"/><rect x="421.36" y="229.38" width="0.9" height="0.9"/><rect x="403.63" y="229.2" width="0.9" height="0.9"/><rect x="407.83" y="228.09" width="0.9" height="0.9"/><rect x="417.91" y="234.63" width="0.9" height="0.9"/><rect x="416.5" y="232.28" width="0.9" height="0.9"/></g>
<rect x="260.7" y="228.8" width="160.7" height="2" fill="#6e6e6e" />
<line x1="327.7" y1="193.6" x2="331.3" y2="197.5" stroke="#222" stroke-width="0.6" />
<circle cx="331.3" cy="197.5" r="0.7" fill="#f2b21c" />
<rect x="312.3" y="186.6" width="15.4" height="7" rx="1.2" fill="#fff" stroke="#666" stroke-width="0.55"/>
<text x="320" y="192" font-size="5.3" fill="#1a1a1a" stroke="#1a1a1a" stroke-width="0.11" font-weight="bold" text-anchor="middle" textLength="11.78" lengthAdjust="spacingAndGlyphs" >Gjb1</text>
<line x1="351.2" y1="196" x2="345" y2="200.9" stroke="#222" stroke-width="0.6" />
<circle cx="345" cy="200.9" r="0.7" fill="#f2b21c" />
<rect x="351.2" y="188.8" width="19.2" height="7.2" rx="1.2" fill="#fff" stroke="#666" stroke-width="0.55"/>
<text x="360.8" y="194.3" font-size="5.3" fill="#1a1a1a" stroke="#1a1a1a" stroke-width="0.11" font-weight="bold" text-anchor="middle" textLength="16.2" lengthAdjust="spacingAndGlyphs" >Scarf2</text>
<line x1="328.5" y1="208" x2="332.7" y2="208" stroke="#222" stroke-width="0.6" />
<circle cx="332.7" cy="208" r="0.7" fill="#f2b21c" />
<rect x="304.5" y="205.4" width="24" height="7.2" rx="1.2" fill="#fff" stroke="#666" stroke-width="0.55"/>
<text x="316.5" y="210.9" font-size="5.3" fill="#1a1a1a" stroke="#1a1a1a" stroke-width="0.11" font-weight="bold" text-anchor="middle" textLength="21.6" lengthAdjust="spacingAndGlyphs" >Ccdc129</text>
<line x1="339.1" y1="210.4" x2="336.5" y2="210.5" stroke="#222" stroke-width="0.6" />
<circle cx="336.5" cy="210.5" r="0.7" fill="#f2b21c" />
<rect x="339.1" y="203.1" width="16.2" height="7.3" rx="1.2" fill="#fff" stroke="#666" stroke-width="0.55"/>
<text x="347.2" y="208.65" font-size="5.3" fill="#1a1a1a" stroke="#1a1a1a" stroke-width="0.11" font-weight="bold" text-anchor="middle" textLength="11.98" lengthAdjust="spacingAndGlyphs" >Tcfl5</text>
<line x1="363.1" y1="210.1" x2="360.2" y2="204.4" stroke="#222" stroke-width="0.6" />
<circle cx="360.2" cy="204.4" r="0.7" fill="#f2b21c" />
<rect x="363.1" y="210.1" width="17.8" height="6.8" rx="1.2" fill="#fff" stroke="#666" stroke-width="0.55"/>
<text x="372" y="215.4" font-size="5.3" fill="#1a1a1a" stroke="#1a1a1a" stroke-width="0.11" font-weight="bold" text-anchor="middle" textLength="14.43" lengthAdjust="spacingAndGlyphs" >Rps4l</text>
<text x="427.2" y="224.6" font-size="5.6" fill="#1a1a1a" stroke="#1a1a1a" stroke-width="0.11" font-weight="bold" ><tspan fill="#f2b21c" stroke="#f2b21c">Up:</tspan> 122</text>
<text x="427.2" y="232.6" font-size="5.6" fill="#1a1a1a" stroke="#1a1a1a" stroke-width="0.11" font-weight="bold" ><tspan fill="#2f6fbf" stroke="#2f6fbf">Down:</tspan> 14</text>
<text x="427.2" y="241.8" font-size="6.36" fill="#999" stroke="#999" stroke-width="0.22" textLength="7.78" lengthAdjust="spacingAndGlyphs" >NS</text>
<text x="41.3" y="303.7" font-size="8" fill="#1a1a1a" stroke="#1a1a1a" stroke-width="0.16" font-weight="bold" textLength="32.9" lengthAdjust="spacingAndGlyphs" ><tspan fill="#f2b21c" stroke="#f2b21c">Up</tspan> DEGs</text>
<text x="114.5" y="303.7" font-size="8" fill="#1a1a1a" stroke="#1a1a1a" stroke-width="0.16" font-weight="bold" textLength="43.5" lengthAdjust="spacingAndGlyphs" ><tspan fill="#2f6fbf" stroke="#2f6fbf">Down</tspan> DEGs</text>
<circle cx="58.1" cy="343.4" r="35.2" fill="#6580b8" stroke="#3b4a7a" stroke-width="0.4"/>
<circle cx="34.7" cy="343.3" r="14.5" fill="#e8654f" stroke="#7a3a30" stroke-width="0.4"/>
<clipPath id="vb"><circle cx="58.1" cy="343.4" r="35.2"/></clipPath>
<circle cx="34.7" cy="343.3" r="14.5" fill="#b97b8e" clip-path="url(#vb)" stroke="#6a3a44" stroke-width="0.4"/>
<text x="17.5" y="338.9" font-size="4.6" fill="#333" stroke="#333" stroke-width="0.09" font-weight="bold" text-anchor="middle" >11</text>
<text x="35.6" y="345.3" font-size="4.8" fill="#2a2a2a" stroke="#2a2a2a" stroke-width="0.1" font-weight="bold" text-anchor="middle" textLength="7.2" lengthAdjust="spacingAndGlyphs" >111</text>
<text x="67.4" y="345.3" font-size="4.8" fill="#2a2a2a" stroke="#2a2a2a" stroke-width="0.1" font-weight="bold" text-anchor="middle" textLength="7.6" lengthAdjust="spacingAndGlyphs" >597</text>
<circle cx="138.3" cy="335.1" r="24.4" fill="#6580b8" stroke="#3b4a7a" stroke-width="0.4"/>
<circle cx="113.1" cy="335.4" r="5" fill="#e8654f" stroke="#7a3a30" stroke-width="0.4"/>
<clipPath id="vb2"><circle cx="138.3" cy="335.1" r="24.4"/></clipPath>
<circle cx="113.1" cy="335.4" r="5" fill="#b97b8e" clip-path="url(#vb2)" stroke="#6a3a44" stroke-width="0.4"/>
<text x="113.1" y="337.3" font-size="5" fill="#2a2a2a" stroke="#2a2a2a" stroke-width="0.1" font-weight="bold" text-anchor="middle" xml:space="preserve">9 5</text>
<text x="138.3" y="337.2" font-size="4.8" fill="#2a2a2a" stroke="#2a2a2a" stroke-width="0.1" font-weight="bold" text-anchor="middle" textLength="7.6" lengthAdjust="spacingAndGlyphs" >366</text>
<text x="93.9" y="361" font-size="5.5" fill="#e8624c" font-weight="bold" font-style="italic" textLength="27.8" lengthAdjust="spacingAndGlyphs" >Kdm5c−Het</text>
<text x="93.9" y="367.9" font-size="5.5" fill="#4a62b0" font-weight="bold" font-style="italic" textLength="26.8" lengthAdjust="spacingAndGlyphs" >Kdm5c−KO</text>
<rect x="208.2" y="287.9" width="92.7" height="96.5" fill="#ebebeb" />
<line x1="221.66" y1="287.9" x2="221.66" y2="384.4" stroke="#f7f7f7" stroke-width="0.4" />
<line x1="238.14" y1="287.9" x2="238.14" y2="384.4" stroke="#f7f7f7" stroke-width="0.4" />
<line x1="254.61" y1="287.9" x2="254.61" y2="384.4" stroke="#f7f7f7" stroke-width="0.4" />
<line x1="271.09" y1="287.9" x2="271.09" y2="384.4" stroke="#f7f7f7" stroke-width="0.4" />
<line x1="287.56" y1="287.9" x2="287.56" y2="384.4" stroke="#f7f7f7" stroke-width="0.4" />
<line x1="208.2" y1="371.7" x2="300.9" y2="371.7" stroke="#f7f7f7" stroke-width="0.4" />
<line x1="208.2" y1="353.9" x2="300.9" y2="353.9" stroke="#f7f7f7" stroke-width="0.4" />
<line x1="208.2" y1="336.1" x2="300.9" y2="336.1" stroke="#f7f7f7" stroke-width="0.4" />
<line x1="208.2" y1="318.3" x2="300.9" y2="318.3" stroke="#f7f7f7" stroke-width="0.4" />
<line x1="208.2" y1="300.5" x2="300.9" y2="300.5" stroke="#f7f7f7" stroke-width="0.4" />
<line x1="213.43" y1="287.9" x2="213.43" y2="384.4" stroke="#fff" stroke-width="0.75" />
<line x1="208.2" y1="380.6" x2="300.9" y2="380.6" stroke="#fff" stroke-width="0.75" />
<text x="213.43" y="390.2" font-size="4.89" fill="#4d4d4d" text-anchor="middle" textLength="7.41" lengthAdjust="spacingAndGlyphs" >-0.5</text>
<text x="206.6" y="382.1" font-size="4.89" fill="#4d4d4d" text-anchor="end" textLength="7.41" lengthAdjust="spacingAndGlyphs" >-0.5</text>
<line x1="207.2" y1="380.6" x2="208.2" y2="380.6" stroke="#444" stroke-width="0.4" />
<line x1="213.43" y1="384.4" x2="213.43" y2="385.7" stroke="#444" stroke-width="0.5" />
<line x1="229.9" y1="287.9" x2="229.9" y2="384.4" stroke="#fff" stroke-width="0.75" />
<line x1="208.2" y1="362.8" x2="300.9" y2="362.8" stroke="#fff" stroke-width="0.75" />
<text x="229.9" y="390.2" font-size="4.89" fill="#4d4d4d" text-anchor="middle" textLength="5.98" lengthAdjust="spacingAndGlyphs" >0.0</text>
<text x="206.6" y="364.3" font-size="4.89" fill="#4d4d4d" text-anchor="end" textLength="5.98" lengthAdjust="spacingAndGlyphs" >0.0</text>
<line x1="207.2" y1="362.8" x2="208.2" y2="362.8" stroke="#444" stroke-width="0.4" />
<line x1="229.9" y1="384.4" x2="229.9" y2="385.7" stroke="#444" stroke-width="0.5" />
<line x1="246.38" y1="287.9" x2="246.38" y2="384.4" stroke="#fff" stroke-width="0.75" />
<line x1="208.2" y1="345" x2="300.9" y2="345" stroke="#fff" stroke-width="0.75" />
<text x="246.38" y="390.2" font-size="4.89" fill="#4d4d4d" text-anchor="middle" textLength="5.98" lengthAdjust="spacingAndGlyphs" >0.5</text>
<text x="206.6" y="346.5" font-size="4.89" fill="#4d4d4d" text-anchor="end" textLength="5.98" lengthAdjust="spacingAndGlyphs" >0.5</text>
<line x1="207.2" y1="345" x2="208.2" y2="345" stroke="#444" stroke-width="0.4" />
<line x1="246.38" y1="384.4" x2="246.38" y2="385.7" stroke="#444" stroke-width="0.5" />
<line x1="262.85" y1="287.9" x2="262.85" y2="384.4" stroke="#fff" stroke-width="0.75" />
<line x1="208.2" y1="327.2" x2="300.9" y2="327.2" stroke="#fff" stroke-width="0.75" />
<text x="262.85" y="390.2" font-size="4.89" fill="#4d4d4d" text-anchor="middle" textLength="5.98" lengthAdjust="spacingAndGlyphs" >1.0</text>
<text x="206.6" y="328.7" font-size="4.89" fill="#4d4d4d" text-anchor="end" textLength="5.98" lengthAdjust="spacingAndGlyphs" >1.0</text>
<line x1="207.2" y1="327.2" x2="208.2" y2="327.2" stroke="#444" stroke-width="0.4" />
<line x1="262.85" y1="384.4" x2="262.85" y2="385.7" stroke="#444" stroke-width="0.5" />
<line x1="279.32" y1="287.9" x2="279.32" y2="384.4" stroke="#fff" stroke-width="0.75" />
<line x1="208.2" y1="309.4" x2="300.9" y2="309.4" stroke="#fff" stroke-width="0.75" />
<text x="279.32" y="390.2" font-size="4.89" fill="#4d4d4d" text-anchor="middle" textLength="5.98" lengthAdjust="spacingAndGlyphs" >1.5</text>
<text x="206.6" y="310.9" font-size="4.89" fill="#4d4d4d" text-anchor="end" textLength="5.98" lengthAdjust="spacingAndGlyphs" >1.5</text>
<line x1="207.2" y1="309.4" x2="208.2" y2="309.4" stroke="#444" stroke-width="0.4" />
<line x1="279.32" y1="384.4" x2="279.32" y2="385.7" stroke="#444" stroke-width="0.5" />
<line x1="295.8" y1="287.9" x2="295.8" y2="384.4" stroke="#fff" stroke-width="0.75" />
<line x1="208.2" y1="291.6" x2="300.9" y2="291.6" stroke="#fff" stroke-width="0.75" />
<text x="295.8" y="390.2" font-size="4.89" fill="#4d4d4d" text-anchor="middle" textLength="5.98" lengthAdjust="spacingAndGlyphs" >2.0</text>
<text x="206.6" y="293.1" font-size="4.89" fill="#4d4d4d" text-anchor="end" textLength="5.98" lengthAdjust="spacingAndGlyphs" >2.0</text>
<line x1="207.2" y1="291.6" x2="208.2" y2="291.6" stroke="#444" stroke-width="0.4" />
<line x1="295.8" y1="384.4" x2="295.8" y2="385.7" stroke="#444" stroke-width="0.5" />
<line x1="208.5" y1="384.1" x2="300.6" y2="288.2" stroke="#3a3a3a" stroke-width="1.1" stroke-dasharray="2.6 1.7"/>
<text x="196.7" y="331.8" font-size="7" fill="#ee6a58" stroke="#ee6a58" stroke-width="0.14" font-weight="bold" text-anchor="middle" textLength="49.6" lengthAdjust="spacingAndGlyphs" transform="rotate(-90 196.7 331.8)" >Female Log2FC</text>
<text x="256.05" y="397" font-size="6.9" fill="#4a6bc0" stroke="#4a6bc0" stroke-width="0.14" font-weight="bold" text-anchor="middle" textLength="39.2" lengthAdjust="spacingAndGlyphs" >Male Log2FC</text>
<circle cx="237.83" cy="357.4" r="1.9" fill="#d99a5c" />
<circle cx="251.23" cy="354.58" r="1.9" fill="#d99a5c" />
<circle cx="245.34" cy="357.07" r="1.9" fill="#d99a5c" />
<circle cx="254.36" cy="346.54" r="1.9" fill="#d99a5c" />
<circle cx="256.21" cy="347.62" r="1.9" fill="#d99a5c" />
<circle cx="249.26" cy="350.08" r="1.9" fill="#d99a5c" />
<circle cx="241.02" cy="352.55" r="1.9" fill="#d99a5c" />
<circle cx="237.26" cy="355.53" r="1.9" fill="#d99a5c" />
<circle cx="251.42" cy="348.22" r="1.9" fill="#d99a5c" />
<circle cx="243.4" cy="346.05" r="1.9" fill="#d99a5c" />
<circle cx="246.8" cy="351.97" r="1.9" fill="#d99a5c" />
<circle cx="247.53" cy="351.48" r="1.9" fill="#d99a5c" />
<circle cx="243.58" cy="352.75" r="1.9" fill="#d99a5c" />
<circle cx="261.06" cy="344.09" r="1.9" fill="#d99a5c" />
<circle cx="247.65" cy="348.23" r="1.9" fill="#d99a5c" />
<circle cx="261" cy="344.77" r="1.9" fill="#d99a5c" />
<circle cx="241.85" cy="345.96" r="1.9" fill="#d99a5c" />
<circle cx="235.79" cy="356.21" r="1.9" fill="#d99a5c" />
<circle cx="251.21" cy="342.37" r="1.9" fill="#d99a5c" />
<circle cx="239.49" cy="360.09" r="1.9" fill="#d99a5c" />
<circle cx="251.17" cy="349.88" r="1.9" fill="#d99a5c" />
<circle cx="243.57" cy="350.59" r="1.9" fill="#d99a5c" />
<circle cx="248" cy="349.1" r="1.9" fill="#d99a5c" />
<circle cx="243.25" cy="348.52" r="1.9" fill="#d99a5c" />
<circle cx="257.28" cy="345.72" r="1.9" fill="#d99a5c" />
<circle cx="243.1" cy="350.07" r="1.9" fill="#d99a5c" />
<circle cx="249.84" cy="351.85" r="1.9" fill="#d99a5c" />
<circle cx="243.04" cy="349.25" r="1.9" fill="#d99a5c" />
<circle cx="245.68" cy="351.77" r="1.9" fill="#d99a5c" />
<circle cx="247.92" cy="350" r="1.9" fill="#d99a5c" />
<circle cx="246.36" cy="355.75" r="1.9" fill="#d99a5c" />
<circle cx="259.06" cy="344.49" r="1.9" fill="#d99a5c" />
<circle cx="240.02" cy="350.76" r="1.9" fill="#d99a5c" />
<circle cx="248.61" cy="349.56" r="1.9" fill="#d99a5c" />
<circle cx="253.97" cy="341.22" r="1.9" fill="#d99a5c" />
<circle cx="250.39" cy="344.6" r="1.9" fill="#d99a5c" />
<circle cx="262.01" cy="346.45" r="1.9" fill="#d99a5c" />
<circle cx="242.58" cy="350.18" r="1.9" fill="#d99a5c" />
<circle cx="233.99" cy="356.73" r="1.9" fill="#d99a5c" />
<circle cx="255.75" cy="343.69" r="1.9" fill="#d99a5c" />
<circle cx="250.58" cy="353.81" r="1.9" fill="#d99a5c" />
<circle cx="263.42" cy="341.64" r="1.9" fill="#d99a5c" />
<circle cx="251.94" cy="346.83" r="1.9" fill="#d99a5c" />
<circle cx="233.93" cy="359.88" r="1.9" fill="#d99a5c" />
<circle cx="237.56" cy="349.34" r="1.9" fill="#d99a5c" />
<circle cx="240.35" cy="353.88" r="1.9" fill="#d99a5c" />
<circle cx="244.53" cy="349.87" r="1.9" fill="#d99a5c" />
<circle cx="250" cy="348.28" r="1.9" fill="#d99a5c" />
<circle cx="237.23" cy="362.98" r="1.9" fill="#d99a5c" />
<circle cx="247.58" cy="349.34" r="1.9" fill="#d99a5c" />
<circle cx="255.3" cy="346.95" r="1.9" fill="#d99a5c" />
<circle cx="241.94" cy="351.44" r="1.9" fill="#d99a5c" />
<circle cx="235.11" cy="358.31" r="1.9" fill="#d99a5c" />
<circle cx="239.08" cy="353.02" r="1.9" fill="#d99a5c" />
<circle cx="261.53" cy="341.9" r="1.9" fill="#d99a5c" />
<circle cx="254.65" cy="346.32" r="1.9" fill="#d99a5c" />
<circle cx="248.4" cy="350.9" r="1.9" fill="#d99a5c" />
<circle cx="244.34" cy="357.97" r="1.9" fill="#d99a5c" />
<circle cx="237.66" cy="357.85" r="1.9" fill="#d99a5c" />
<circle cx="252.44" cy="346.16" r="1.9" fill="#d99a5c" />
<circle cx="254.65" cy="342.8" r="1.9" fill="#d99a5c" />
<circle cx="244.16" cy="348.74" r="1.9" fill="#d99a5c" />
<circle cx="260.55" cy="344.39" r="1.9" fill="#d99a5c" />
<circle cx="254.25" cy="347.57" r="1.9" fill="#d99a5c" />
<circle cx="234.69" cy="355.4" r="1.9" fill="#d99a5c" />
<circle cx="240.41" cy="352.91" r="1.9" fill="#d99a5c" />
<circle cx="243.02" cy="351.21" r="1.9" fill="#d99a5c" />
<circle cx="240.18" cy="347.74" r="1.9" fill="#d99a5c" />
<circle cx="240.42" cy="355.45" r="1.9" fill="#d99a5c" />
<circle cx="244.72" cy="350.33" r="1.9" fill="#d99a5c" />
<circle cx="244.61" cy="346.75" r="1.9" fill="#d99a5c" />
<circle cx="250.99" cy="350.43" r="1.9" fill="#d99a5c" />
<circle cx="249.18" cy="353.85" r="1.9" fill="#d99a5c" />
<circle cx="242.72" cy="355.9" r="1.9" fill="#d99a5c" />
<circle cx="246.79" cy="352.94" r="1.9" fill="#d99a5c" />
<circle cx="244.71" cy="353.4" r="1.9" fill="#d99a5c" />
<circle cx="234" cy="355.61" r="1.9" fill="#d99a5c" />
<circle cx="244.18" cy="353.63" r="1.9" fill="#d99a5c" />
<circle cx="256.27" cy="347.55" r="1.9" fill="#d99a5c" />
<circle cx="245.41" cy="351.21" r="1.9" fill="#d99a5c" />
<circle cx="241.11" cy="353.49" r="1.9" fill="#d99a5c" />
<circle cx="242.55" cy="354.89" r="1.9" fill="#d99a5c" />
<circle cx="250.63" cy="352.24" r="1.9" fill="#d99a5c" />
<circle cx="248.35" cy="352.08" r="1.9" fill="#d99a5c" />
<circle cx="239.05" cy="357.24" r="1.9" fill="#d99a5c" />
<circle cx="249.55" cy="351.38" r="1.9" fill="#d99a5c" />
<circle cx="254.44" cy="351.55" r="1.9" fill="#d99a5c" />
<circle cx="238.89" cy="360.63" r="1.9" fill="#d99a5c" />
<circle cx="254.81" cy="347.76" r="1.9" fill="#d99a5c" />
<circle cx="242.08" cy="352.77" r="1.9" fill="#d99a5c" />
<circle cx="255.21" cy="352.09" r="1.9" fill="#d99a5c" />
<circle cx="235.37" cy="354.83" r="1.9" fill="#d99a5c" />
<circle cx="244.15" cy="355.81" r="1.9" fill="#d99a5c" />
<circle cx="252.33" cy="343.88" r="1.9" fill="#d99a5c" />
<circle cx="237" cy="356.62" r="1.9" fill="#d99a5c" />
<circle cx="237.47" cy="352.71" r="1.9" fill="#d99a5c" />
<circle cx="247.97" cy="353.64" r="1.9" fill="#d99a5c" />
<circle cx="246.06" cy="351.35" r="1.9" fill="#d99a5c" />
<circle cx="250.56" cy="346.32" r="1.9" fill="#d99a5c" />
<circle cx="243.38" cy="353.42" r="1.9" fill="#d99a5c" />
<circle cx="242.37" cy="355.81" r="1.9" fill="#d99a5c" />
<circle cx="254.28" cy="346.34" r="1.9" fill="#d99a5c" />
<circle cx="246.73" cy="349.55" r="1.9" fill="#d99a5c" />
<circle cx="250.61" cy="347" r="1.9" fill="#d99a5c" />
<circle cx="248.36" cy="348.13" r="1.9" fill="#d99a5c" />
<circle cx="254.28" cy="346.45" r="1.9" fill="#d99a5c" />
<circle cx="239.09" cy="351.27" r="1.9" fill="#d99a5c" />
<circle cx="241.87" cy="353.62" r="1.9" fill="#d99a5c" />
<circle cx="246.59" cy="350.55" r="1.9" fill="#d99a5c" />
<circle cx="241.52" cy="351.51" r="1.9" fill="#d99a5c" />
<circle cx="294.15" cy="320.79" r="1.9" fill="#d99a5c" />
<circle cx="290.86" cy="324.35" r="1.9" fill="#d99a5c" />
<circle cx="276.03" cy="329.69" r="1.9" fill="#d99a5c" />
<circle cx="276.69" cy="334.32" r="1.9" fill="#d99a5c" />
<circle cx="277.68" cy="340.02" r="1.9" fill="#d99a5c" />
<circle cx="283.61" cy="346.07" r="1.9" fill="#d99a5c" />
<circle cx="269.44" cy="336.1" r="1.9" fill="#d99a5c" />
<circle cx="272.74" cy="331.83" r="1.9" fill="#d99a5c" />
<circle cx="266.14" cy="337.88" r="1.9" fill="#d99a5c" />
<circle cx="271.09" cy="343.22" r="1.9" fill="#d99a5c" />
<circle cx="262.85" cy="340.02" r="1.9" fill="#d99a5c" />
<circle cx="261.2" cy="345" r="1.9" fill="#d99a5c" />
<circle cx="264.5" cy="345" r="1.9" fill="#d99a5c" />
<path d="M239.12 356.81L240.82 359.76L237.42 359.76Z" fill="#4a6bc0" />
<path d="M242.65 359.58L244.35 362.52L240.95 362.52Z" fill="#4a6bc0" />
<path d="M246.09 356.7L247.79 359.65L244.39 359.65Z" fill="#4a6bc0" />
<path d="M244.88 355.72L246.58 358.66L243.18 358.66Z" fill="#4a6bc0" />
<path d="M238 354.69L239.7 357.64L236.3 357.64Z" fill="#4a6bc0" />
<path d="M247.83 358.67L249.53 361.61L246.13 361.61Z" fill="#4a6bc0" />
<path d="M238.4 359.34L240.1 362.28L236.7 362.28Z" fill="#4a6bc0" />
<path d="M244.11 354.86L245.81 357.8L242.41 357.8Z" fill="#4a6bc0" />
<path d="M246.08 358.16L247.78 361.1L244.38 361.1Z" fill="#4a6bc0" />
<path d="M242.66 357.47L244.36 360.41L240.96 360.41Z" fill="#4a6bc0" />
<path d="M235.77 358.86L237.47 361.8L234.07 361.8Z" fill="#4a6bc0" />
<path d="M244.31 354.76L246.01 357.7L242.61 357.7Z" fill="#4a6bc0" />
<path d="M243.75 359L245.45 361.94L242.05 361.94Z" fill="#4a6bc0" />
<path d="M238.2 356.73L239.9 359.67L236.5 359.67Z" fill="#4a6bc0" />
<path d="M245.33 359.2L247.03 362.15L243.63 362.15Z" fill="#4a6bc0" />
<path d="M236.68 357.41L238.38 360.36L234.98 360.36Z" fill="#4a6bc0" />
<path d="M237.53 357.37L239.23 360.31L235.83 360.31Z" fill="#4a6bc0" />
<path d="M238.78 357.29L240.48 360.23L237.08 360.23Z" fill="#4a6bc0" />
<path d="M237.68 359.34L239.38 362.29L235.98 362.29Z" fill="#4a6bc0" />
<path d="M241.07 357.83L242.77 360.78L239.37 360.78Z" fill="#4a6bc0" />
<path d="M237.68 357.88L239.38 360.82L235.98 360.82Z" fill="#4a6bc0" />
<path d="M247.11 359.19L248.81 362.14L245.41 362.14Z" fill="#4a6bc0" />
<path d="M240.86 355.51L242.56 358.45L239.16 358.45Z" fill="#4a6bc0" />
<path d="M247.45 351.3L249.15 354.24L245.75 354.24Z" fill="#4a6bc0" />
<path d="M239.32 354.19L241.02 357.13L237.62 357.13Z" fill="#4a6bc0" />
<path d="M235.16 356.9L236.86 359.85L233.46 359.85Z" fill="#4a6bc0" />
<path d="M235.59 359.97L237.29 362.91L233.89 362.91Z" fill="#4a6bc0" />
<path d="M245.7 354.62L247.4 357.57L244 357.57Z" fill="#4a6bc0" />
<path d="M239.24 354.55L240.94 357.5L237.54 357.5Z" fill="#4a6bc0" />
<path d="M239.06 355.68L240.76 358.63L237.36 358.63Z" fill="#4a6bc0" />
<path d="M236.43 357.99L238.13 360.94L234.73 360.94Z" fill="#4a6bc0" />
<path d="M239.87 357.84L241.57 360.78L238.17 360.78Z" fill="#4a6bc0" />
<path d="M240.71 354.73L242.41 357.67L239.01 357.67Z" fill="#4a6bc0" />
<path d="M247.94 360.08L249.64 363.03L246.24 363.03Z" fill="#4a6bc0" />
<path d="M240.12 357.59L241.82 360.54L238.42 360.54Z" fill="#4a6bc0" />
<path d="M241.51 360.06L243.21 363.01L239.81 363.01Z" fill="#4a6bc0" />
<path d="M235.26 359.26L236.96 362.21L233.56 362.21Z" fill="#4a6bc0" />
<path d="M237.72 359.58L239.42 362.53L236.02 362.53Z" fill="#4a6bc0" />
<path d="M244.09 358.77L245.79 361.71L242.39 361.71Z" fill="#4a6bc0" />
<path d="M241.87 355.5L243.57 358.45L240.17 358.45Z" fill="#4a6bc0" />
<path d="M241.48 358.28L243.18 361.23L239.78 361.23Z" fill="#4a6bc0" />
<path d="M243.92 360.76L245.62 363.71L242.22 363.71Z" fill="#4a6bc0" />
<path d="M237.81 356.63L239.51 359.58L236.11 359.58Z" fill="#4a6bc0" />
<path d="M242.44 362.85L244.14 365.79L240.74 365.79Z" fill="#4a6bc0" />
<path d="M243.59 355.25L245.29 358.2L241.89 358.2Z" fill="#4a6bc0" />
<path d="M236.35 358.36L238.05 361.31L234.65 361.31Z" fill="#4a6bc0" />
<path d="M239.66 356.22L241.36 359.16L237.96 359.16Z" fill="#4a6bc0" />
<path d="M234.57 359.81L236.27 362.76L232.87 362.76Z" fill="#4a6bc0" />
<path d="M243.37 356.72L245.07 359.67L241.67 359.67Z" fill="#4a6bc0" />
<path d="M243.74 361.47L245.44 364.42L242.04 364.42Z" fill="#4a6bc0" />
<path d="M240.31 357.96L242.01 360.9L238.61 360.9Z" fill="#4a6bc0" />
<path d="M238.89 364.28L240.59 367.23L237.19 367.23Z" fill="#4a6bc0" />
<path d="M246.92 357.51L248.62 360.46L245.22 360.46Z" fill="#4a6bc0" />
<path d="M248.01 356.03L249.71 358.97L246.31 358.97Z" fill="#4a6bc0" />
<path d="M241.87 353.95L243.57 356.89L240.17 356.89Z" fill="#4a6bc0" />
<path d="M246.74 358.64L248.44 361.58L245.04 361.58Z" fill="#4a6bc0" />
<path d="M242.95 355.92L244.65 358.87L241.25 358.87Z" fill="#4a6bc0" />
<path d="M242.73 358.17L244.43 361.12L241.03 361.12Z" fill="#4a6bc0" />
<path d="M237.63 359.12L239.33 362.07L235.93 362.07Z" fill="#4a6bc0" />
<path d="M243.7 354.52L245.4 357.47L242 357.47Z" fill="#4a6bc0" />
<path d="M242.6 357.15L244.3 360.1L240.9 360.1Z" fill="#4a6bc0" />
<path d="M239.66 356.81L241.36 359.75L237.96 359.75Z" fill="#4a6bc0" />
<path d="M245.61 356.32L247.31 359.26L243.91 359.26Z" fill="#4a6bc0" />
<path d="M240.38 362.58L242.08 365.53L238.68 365.53Z" fill="#4a6bc0" />
<path d="M243.57 355.49L245.27 358.44L241.87 358.44Z" fill="#4a6bc0" />
<path d="M238.66 354.37L240.36 357.32L236.96 357.32Z" fill="#4a6bc0" />
<path d="M239.83 356.87L241.53 359.82L238.13 359.82Z" fill="#4a6bc0" />
<path d="M240.04 358.82L241.74 361.77L238.34 361.77Z" fill="#4a6bc0" />
<path d="M237.59 359.65L239.29 362.59L235.89 362.59Z" fill="#4a6bc0" />
<path d="M245.03 359.17L246.73 362.11L243.33 362.11Z" fill="#4a6bc0" />
<path d="M238.53 358.81L240.23 361.76L236.83 361.76Z" fill="#4a6bc0" />
<path d="M237.9 358.08L239.6 361.03L236.2 361.03Z" fill="#4a6bc0" />
<path d="M240.79 360.48L242.49 363.42L239.09 363.42Z" fill="#4a6bc0" />
<path d="M242.7 356.12L244.4 359.06L241 359.06Z" fill="#4a6bc0" />
<path d="M243.46 353.92L245.16 356.86L241.76 356.86Z" fill="#4a6bc0" />
<path d="M239.84 358.34L241.54 361.29L238.14 361.29Z" fill="#4a6bc0" />
<path d="M239.92 358.42L241.62 361.37L238.22 361.37Z" fill="#4a6bc0" />
<path d="M244.53 355.11L246.23 358.05L242.83 358.05Z" fill="#4a6bc0" />
<path d="M237.31 357.2L239.01 360.15L235.61 360.15Z" fill="#4a6bc0" />
<path d="M241.05 358.06L242.75 361L239.35 361Z" fill="#4a6bc0" />
<path d="M240.57 358.29L242.27 361.24L238.87 361.24Z" fill="#4a6bc0" />
<path d="M246.46 352.49L248.16 355.43L244.76 355.43Z" fill="#4a6bc0" />
<path d="M239.6 359.08L241.3 362.03L237.9 362.03Z" fill="#4a6bc0" />
<path d="M248.69 353.02L250.39 355.96L246.99 355.96Z" fill="#4a6bc0" />
<path d="M237.04 361.45L238.74 364.39L235.34 364.39Z" fill="#4a6bc0" />
<path d="M244.31 354.79L246.01 357.73L242.61 357.73Z" fill="#4a6bc0" />
<path d="M239.01 356.03L240.71 358.97L237.31 358.97Z" fill="#4a6bc0" />
<path d="M238.05 354.5L239.75 357.44L236.35 357.44Z" fill="#4a6bc0" />
<path d="M238.51 355.47L240.21 358.42L236.81 358.42Z" fill="#4a6bc0" />
<path d="M245.65 353.92L247.35 356.86L243.95 356.86Z" fill="#4a6bc0" />
<path d="M236.5 361.08L238.2 364.02L234.8 364.02Z" fill="#4a6bc0" />
<path d="M235.51 357.84L237.21 360.78L233.81 360.78Z" fill="#4a6bc0" />
<path d="M234.96 359.29L236.66 362.24L233.26 362.24Z" fill="#4a6bc0" />
<path d="M239.36 356.79L241.06 359.73L237.66 359.73Z" fill="#4a6bc0" />
<path d="M243.38 357.13L245.08 360.07L241.68 360.07Z" fill="#4a6bc0" />
<path d="M248.81 356.19L250.51 359.14L247.11 359.14Z" fill="#4a6bc0" />
<path d="M234.14 356.97L235.84 359.92L232.44 359.92Z" fill="#4a6bc0" />
<path d="M245.23 357.47L246.93 360.41L243.53 360.41Z" fill="#4a6bc0" />
<path d="M245 359.69L246.7 362.63L243.3 362.63Z" fill="#4a6bc0" />
<path d="M236.78 356.26L238.48 359.21L235.08 359.21Z" fill="#4a6bc0" />
<path d="M242.63 356.63L244.33 359.57L240.93 359.57Z" fill="#4a6bc0" />
<path d="M242.85 355.44L244.55 358.39L241.15 358.39Z" fill="#4a6bc0" />
<path d="M242.52 355.91L244.22 358.86L240.82 358.86Z" fill="#4a6bc0" />
<path d="M240.37 356.02L242.07 358.96L238.67 358.96Z" fill="#4a6bc0" />
<path d="M240.11 355.7L241.81 358.64L238.41 358.64Z" fill="#4a6bc0" />
<path d="M239.77 357.4L241.47 360.35L238.07 360.35Z" fill="#4a6bc0" />
<path d="M244.15 358.57L245.85 361.51L242.45 361.51Z" fill="#4a6bc0" />
<path d="M246.35 358.92L248.05 361.86L244.65 361.86Z" fill="#4a6bc0" />
<path d="M238.72 359.97L240.42 362.92L237.02 362.92Z" fill="#4a6bc0" />
<path d="M242.64 357.89L244.34 360.84L240.94 360.84Z" fill="#4a6bc0" />
<path d="M239.17 359.28L240.87 362.22L237.47 362.22Z" fill="#4a6bc0" />
<path d="M237.85 361.06L239.55 364L236.15 364Z" fill="#4a6bc0" />
<path d="M242.15 356.05L243.85 358.99L240.45 358.99Z" fill="#4a6bc0" />
<path d="M243.6 357.19L245.3 360.14L241.9 360.14Z" fill="#4a6bc0" />
<path d="M244.3 356.28L246 359.23L242.6 359.23Z" fill="#4a6bc0" />
<path d="M244.49 357.87L246.19 360.81L242.79 360.81Z" fill="#4a6bc0" />
<path d="M239.09 354.88L240.79 357.83L237.39 357.83Z" fill="#4a6bc0" />
<path d="M240.3 358.93L242 361.88L238.6 361.88Z" fill="#4a6bc0" />
<path d="M241.12 353.76L242.82 356.7L239.42 356.7Z" fill="#4a6bc0" />
<path d="M246.08 358.79L247.78 361.73L244.38 361.73Z" fill="#4a6bc0" />
<path d="M242.17 357.44L243.87 360.38L240.47 360.38Z" fill="#4a6bc0" />
<path d="M241.52 359.99L243.22 362.94L239.82 362.94Z" fill="#4a6bc0" />
<path d="M245.56 356.6L247.26 359.54L243.86 359.54Z" fill="#4a6bc0" />
<path d="M245.55 357.67L247.25 360.61L243.85 360.61Z" fill="#4a6bc0" />
<path d="M239.74 356.58L241.44 359.52L238.04 359.52Z" fill="#4a6bc0" />
<path d="M248.4 355.17L250.1 358.11L246.7 358.11Z" fill="#4a6bc0" />
<path d="M243.56 356.86L245.26 359.8L241.86 359.8Z" fill="#4a6bc0" />
<path d="M244.55 356.69L246.25 359.64L242.85 359.64Z" fill="#4a6bc0" />
<path d="M243.6 356.77L245.3 359.71L241.9 359.71Z" fill="#4a6bc0" />
<path d="M237.95 356.3L239.65 359.25L236.25 359.25Z" fill="#4a6bc0" />
<path d="M241.81 357.25L243.51 360.2L240.11 360.2Z" fill="#4a6bc0" />
<path d="M243.22 357.75L244.92 360.7L241.52 360.7Z" fill="#4a6bc0" />
<path d="M236.77 357.61L238.47 360.55L235.07 360.55Z" fill="#4a6bc0" />
<path d="M239.15 357.68L240.85 360.62L237.45 360.62Z" fill="#4a6bc0" />
<path d="M240.03 356.38L241.73 359.32L238.33 359.32Z" fill="#4a6bc0" />
<path d="M234.42 360.32L236.12 363.26L232.72 363.26Z" fill="#4a6bc0" />
<path d="M240.94 357.02L242.64 359.96L239.24 359.96Z" fill="#4a6bc0" />
<path d="M236.35 358.18L238.05 361.13L234.65 361.13Z" fill="#4a6bc0" />
<path d="M237.31 358.52L239.01 361.47L235.61 361.47Z" fill="#4a6bc0" />
<path d="M236.28 360.31L237.98 363.25L234.58 363.25Z" fill="#4a6bc0" />
<path d="M243.67 358.58L245.37 361.53L241.97 361.53Z" fill="#4a6bc0" />
<path d="M233.75 356.01L235.45 358.95L232.05 358.95Z" fill="#4a6bc0" />
<path d="M241.09 356.25L242.79 359.2L239.39 359.2Z" fill="#4a6bc0" />
<path d="M240.13 356.49L241.83 359.43L238.43 359.43Z" fill="#4a6bc0" />
<path d="M241.8 362.04L243.5 364.98L240.1 364.98Z" fill="#4a6bc0" />
<path d="M239.97 356.26L241.67 359.2L238.27 359.2Z" fill="#4a6bc0" />
<path d="M243.35 356.55L245.05 359.5L241.65 359.5Z" fill="#4a6bc0" />
<path d="M244.38 356.14L246.08 359.09L242.68 359.09Z" fill="#4a6bc0" />
<path d="M238.15 358.34L239.85 361.29L236.45 361.29Z" fill="#4a6bc0" />
<path d="M246.46 356.02L248.16 358.96L244.76 358.96Z" fill="#4a6bc0" />
<path d="M243.29 356.98L244.99 359.92L241.59 359.92Z" fill="#4a6bc0" />
<path d="M239.92 355.12L241.62 358.07L238.22 358.07Z" fill="#4a6bc0" />
<path d="M244.14 355.96L245.84 358.91L242.44 358.91Z" fill="#4a6bc0" />
<path d="M232.88 359.3L234.58 362.25L231.18 362.25Z" fill="#4a6bc0" />
<path d="M236.99 360.94L238.69 363.88L235.29 363.88Z" fill="#4a6bc0" />
<path d="M236.96 358.69L238.66 361.64L235.26 361.64Z" fill="#4a6bc0" />
<path d="M243.13 360.8L244.83 363.74L241.43 363.74Z" fill="#4a6bc0" />
<path d="M246.9 358.6L248.6 361.55L245.2 361.55Z" fill="#4a6bc0" />
<path d="M239.83 359.35L241.53 362.29L238.13 362.29Z" fill="#4a6bc0" />
<path d="M242.25 359.74L243.95 362.68L240.55 362.68Z" fill="#4a6bc0" />
<path d="M241.77 356.8L243.47 359.75L240.07 359.75Z" fill="#4a6bc0" />
<path d="M242.27 355.77L243.97 358.72L240.57 358.72Z" fill="#4a6bc0" />
<path d="M239.32 359.3L241.02 362.24L237.62 362.24Z" fill="#4a6bc0" />
<path d="M246.96 355.83L248.66 358.77L245.26 358.77Z" fill="#4a6bc0" />
<path d="M239.9 357.68L241.6 360.62L238.2 360.62Z" fill="#4a6bc0" />
<path d="M242.76 357.06L244.46 360.01L241.06 360.01Z" fill="#4a6bc0" />
<path d="M245.94 358.55L247.64 361.49L244.24 361.49Z" fill="#4a6bc0" />
<path d="M241.27 354.85L242.97 357.8L239.57 357.8Z" fill="#4a6bc0" />
<path d="M238.48 355.78L240.18 358.72L236.78 358.72Z" fill="#4a6bc0" />
<path d="M246 357.22L247.7 360.16L244.3 360.16Z" fill="#4a6bc0" />
<path d="M243.73 361.03L245.43 363.97L242.03 363.97Z" fill="#4a6bc0" />
<path d="M244.79 355.75L246.49 358.69L243.09 358.69Z" fill="#4a6bc0" />
<path d="M243.73 354.03L245.43 356.97L242.03 356.97Z" fill="#4a6bc0" />
<path d="M241.32 358.67L243.02 361.62L239.62 361.62Z" fill="#4a6bc0" />
<path d="M236.68 356.83L238.38 359.77L234.98 359.77Z" fill="#4a6bc0" />
<path d="M234.47 355.94L236.17 358.89L232.77 358.89Z" fill="#4a6bc0" />
<path d="M245.26 358.67L246.96 361.62L243.56 361.62Z" fill="#4a6bc0" />
<path d="M246 358.11L247.7 361.05L244.3 361.05Z" fill="#4a6bc0" />
<path d="M246.55 354.7L248.25 357.65L244.85 357.65Z" fill="#4a6bc0" />
<path d="M239.64 357.08L241.34 360.02L237.94 360.02Z" fill="#4a6bc0" />
<path d="M241.79 357.56L243.49 360.51L240.09 360.51Z" fill="#4a6bc0" />
<path d="M236.76 358.8L238.46 361.75L235.06 361.75Z" fill="#4a6bc0" />
<path d="M243.68 359.16L245.38 362.1L241.98 362.1Z" fill="#4a6bc0" />
<path d="M241.46 355.51L243.16 358.46L239.76 358.46Z" fill="#4a6bc0" />
<path d="M242.31 354.42L244.01 357.36L240.61 357.36Z" fill="#4a6bc0" />
<path d="M240.97 355.16L242.67 358.1L239.27 358.1Z" fill="#4a6bc0" />
<path d="M244.91 361.57L246.61 364.51L243.21 364.51Z" fill="#4a6bc0" />
<path d="M237.82 359.18L239.52 362.12L236.12 362.12Z" fill="#4a6bc0" />
<path d="M245.42 353.79L247.12 356.74L243.72 356.74Z" fill="#4a6bc0" />
<path d="M239.68 357.43L241.38 360.37L237.98 360.37Z" fill="#4a6bc0" />
<path d="M241.65 356.48L243.35 359.42L239.95 359.42Z" fill="#4a6bc0" />
<path d="M239.06 362.71L240.76 365.66L237.36 365.66Z" fill="#4a6bc0" />
<path d="M242.98 353.25L244.68 356.19L241.28 356.19Z" fill="#4a6bc0" />
<path d="M244.38 360.11L246.08 363.06L242.68 363.06Z" fill="#4a6bc0" />
<path d="M241.97 359.78L243.67 362.72L240.27 362.72Z" fill="#4a6bc0" />
<path d="M245.5 357.28L247.2 360.23L243.8 360.23Z" fill="#4a6bc0" />
<path d="M238.61 358.3L240.31 361.24L236.91 361.24Z" fill="#4a6bc0" />
<path d="M238.12 356.08L239.82 359.02L236.42 359.02Z" fill="#4a6bc0" />
<path d="M244.14 357.11L245.84 360.05L242.44 360.05Z" fill="#4a6bc0" />
<path d="M237.44 355.57L239.14 358.52L235.74 358.52Z" fill="#4a6bc0" />
<path d="M239.62 359.88L241.32 362.83L237.92 362.83Z" fill="#4a6bc0" />
<path d="M248 357.98L249.7 360.92L246.3 360.92Z" fill="#4a6bc0" />
<path d="M246.17 359.24L247.87 362.18L244.47 362.18Z" fill="#4a6bc0" />
<path d="M238.42 360.18L240.12 363.13L236.72 363.13Z" fill="#4a6bc0" />
<path d="M241.9 359.73L243.6 362.67L240.2 362.67Z" fill="#4a6bc0" />
<path d="M235.81 359.56L237.51 362.5L234.11 362.5Z" fill="#4a6bc0" />
<path d="M237.57 357.76L239.27 360.7L235.87 360.7Z" fill="#4a6bc0" />
<path d="M242.27 356.97L243.97 359.92L240.57 359.92Z" fill="#4a6bc0" />
<path d="M237.56 354.89L239.26 357.83L235.86 357.83Z" fill="#4a6bc0" />
<path d="M241.15 361.41L242.85 364.36L239.45 364.36Z" fill="#4a6bc0" />
<path d="M239.81 353.57L241.51 356.51L238.11 356.51Z" fill="#4a6bc0" />
<path d="M246.72 355.65L248.42 358.59L245.02 358.59Z" fill="#4a6bc0" />
<path d="M235.99 362.95L237.69 365.89L234.29 365.89Z" fill="#4a6bc0" />
<path d="M245.59 359.76L247.29 362.71L243.89 362.71Z" fill="#4a6bc0" />
<path d="M244.18 360.94L245.88 363.89L242.48 363.89Z" fill="#4a6bc0" />
<path d="M238.7 358.57L240.4 361.51L237 361.51Z" fill="#4a6bc0" />
<path d="M236.97 358.15L238.67 361.1L235.27 361.1Z" fill="#4a6bc0" />
<path d="M244.71 357.43L246.41 360.37L243.01 360.37Z" fill="#4a6bc0" />
<path d="M243.28 354.21L244.98 357.16L241.58 357.16Z" fill="#4a6bc0" />
<path d="M247.78 360.7L249.48 363.65L246.08 363.65Z" fill="#4a6bc0" />
<path d="M237.82 359.09L239.52 362.03L236.12 362.03Z" fill="#4a6bc0" />
<path d="M245.45 355.07L247.15 358.01L243.75 358.01Z" fill="#4a6bc0" />
<path d="M234.86 358.77L236.56 361.72L233.16 361.72Z" fill="#4a6bc0" />
<path d="M241.56 355.4L243.26 358.35L239.86 358.35Z" fill="#4a6bc0" />
<path d="M240.16 354.02L241.86 356.96L238.46 356.96Z" fill="#4a6bc0" />
<path d="M242.69 358.38L244.39 361.33L240.99 361.33Z" fill="#4a6bc0" />
<path d="M236.24 360.62L237.94 363.57L234.54 363.57Z" fill="#4a6bc0" />
<path d="M241 356.59L242.7 359.53L239.3 359.53Z" fill="#4a6bc0" />
<path d="M233.96 359.36L235.66 362.31L232.26 362.31Z" fill="#4a6bc0" />
<path d="M245.39 360.25L247.09 363.2L243.69 363.2Z" fill="#4a6bc0" />
<path d="M237.17 356.16L238.87 359.11L235.47 359.11Z" fill="#4a6bc0" />
<path d="M239.74 355.56L241.44 358.5L238.04 358.5Z" fill="#4a6bc0" />
<path d="M232.64 361.47L234.34 364.41L230.94 364.41Z" fill="#4a6bc0" />
<path d="M241.15 356.9L242.85 359.85L239.45 359.85Z" fill="#4a6bc0" />
<path d="M244.57 355.35L246.27 358.29L242.87 358.29Z" fill="#4a6bc0" />
<path d="M238.77 358.43L240.47 361.38L237.07 361.38Z" fill="#4a6bc0" />
<path d="M242.72 354.36L244.42 357.3L241.02 357.3Z" fill="#4a6bc0" />
<path d="M237.1 360.51L238.8 363.45L235.4 363.45Z" fill="#4a6bc0" />
<path d="M240.59 358.35L242.29 361.3L238.89 361.3Z" fill="#4a6bc0" />
<path d="M233.31 357.02L235.01 359.96L231.61 359.96Z" fill="#4a6bc0" />
<path d="M244.11 358.05L245.81 361L242.41 361Z" fill="#4a6bc0" />
<path d="M244.13 360.37L245.83 363.32L242.43 363.32Z" fill="#4a6bc0" />
<path d="M243.33 358.27L245.03 361.22L241.63 361.22Z" fill="#4a6bc0" />
<path d="M238.29 361.99L239.99 364.93L236.59 364.93Z" fill="#4a6bc0" />
<path d="M238.97 357.31L240.67 360.25L237.27 360.25Z" fill="#4a6bc0" />
<path d="M241.58 356.11L243.28 359.05L239.88 359.05Z" fill="#4a6bc0" />
<path d="M242.67 356.69L244.37 359.63L240.97 359.63Z" fill="#4a6bc0" />
<path d="M239.38 358.25L241.08 361.2L237.68 361.2Z" fill="#4a6bc0" />
<path d="M241.1 361.54L242.8 364.48L239.4 364.48Z" fill="#4a6bc0" />
<path d="M243.66 361.58L245.36 364.53L241.96 364.53Z" fill="#4a6bc0" />
<path d="M238.71 362.98L240.41 365.92L237.01 365.92Z" fill="#4a6bc0" />
<path d="M246.11 358.41L247.81 361.35L244.41 361.35Z" fill="#4a6bc0" />
<path d="M242.58 357.73L244.28 360.67L240.88 360.67Z" fill="#4a6bc0" />
<path d="M241.93 356.93L243.63 359.87L240.23 359.87Z" fill="#4a6bc0" />
<path d="M241.81 355.15L243.51 358.09L240.11 358.09Z" fill="#4a6bc0" />
<path d="M235 356.51L236.7 359.45L233.3 359.45Z" fill="#4a6bc0" />
<path d="M240.7 358.51L242.4 361.46L239 361.46Z" fill="#4a6bc0" />
<path d="M236.71 355.69L238.41 358.64L235.01 358.64Z" fill="#4a6bc0" />
<path d="M239.37 356.59L241.07 359.54L237.67 359.54Z" fill="#4a6bc0" />
<path d="M237.63 358.86L239.33 361.8L235.93 361.8Z" fill="#4a6bc0" />
<path d="M238.9 360.14L240.6 363.08L237.2 363.08Z" fill="#4a6bc0" />
<path d="M250.04 358.87L251.74 361.81L248.34 361.81Z" fill="#4a6bc0" />
<path d="M246.78 355.63L248.48 358.57L245.08 358.57Z" fill="#4a6bc0" />
<path d="M240.18 359.53L241.88 362.47L238.48 362.47Z" fill="#4a6bc0" />
<path d="M244.13 355.57L245.83 358.51L242.43 358.51Z" fill="#4a6bc0" />
<path d="M244.15 358.67L245.85 361.62L242.45 361.62Z" fill="#4a6bc0" />
<path d="M239.6 354.64L241.3 357.58L237.9 357.58Z" fill="#4a6bc0" />
<path d="M238.49 361.63L240.19 364.57L236.79 364.57Z" fill="#4a6bc0" />
<path d="M237.83 358.43L239.53 361.37L236.13 361.37Z" fill="#4a6bc0" />
<path d="M239.51 357.57L241.21 360.51L237.81 360.51Z" fill="#4a6bc0" />
<path d="M238.21 356.6L239.91 359.54L236.51 359.54Z" fill="#4a6bc0" />
<path d="M240 358.31L241.7 361.26L238.3 361.26Z" fill="#4a6bc0" />
<path d="M240.54 356.36L242.24 359.31L238.84 359.31Z" fill="#4a6bc0" />
<path d="M237 358.11L238.7 361.05L235.3 361.05Z" fill="#4a6bc0" />
<path d="M242.36 357.91L244.06 360.86L240.66 360.86Z" fill="#4a6bc0" />
<path d="M247.51 357.34L249.21 360.28L245.81 360.28Z" fill="#4a6bc0" />
<path d="M240.31 357.13L242.01 360.07L238.61 360.07Z" fill="#4a6bc0" />
<path d="M240.75 354.71L242.45 357.66L239.05 357.66Z" fill="#4a6bc0" />
<path d="M237.24 355.46L238.94 358.4L235.54 358.4Z" fill="#4a6bc0" />
<path d="M243.4 356.9L245.1 359.84L241.7 359.84Z" fill="#4a6bc0" />
<path d="M244.99 357.91L246.69 360.85L243.29 360.85Z" fill="#4a6bc0" />
<path d="M239.13 357.29L240.83 360.23L237.43 360.23Z" fill="#4a6bc0" />
<path d="M238.96 360.21L240.66 363.16L237.26 363.16Z" fill="#4a6bc0" />
<path d="M244.51 356.66L246.21 359.6L242.81 359.6Z" fill="#4a6bc0" />
<path d="M241.52 360.09L243.22 363.04L239.82 363.04Z" fill="#4a6bc0" />
<path d="M233.68 360.45L235.38 363.4L231.98 363.4Z" fill="#4a6bc0" />
<path d="M237.33 360.27L239.03 363.22L235.63 363.22Z" fill="#4a6bc0" />
<path d="M241.62 357.35L243.32 360.29L239.92 360.29Z" fill="#4a6bc0" />
<path d="M241.27 360.03L242.97 362.97L239.57 362.97Z" fill="#4a6bc0" />
<path d="M245.97 360.78L247.67 363.73L244.27 363.73Z" fill="#4a6bc0" />
<path d="M244.1 358.71L245.8 361.65L242.4 361.65Z" fill="#4a6bc0" />
<path d="M247.42 357.5L249.12 360.44L245.72 360.44Z" fill="#4a6bc0" />
<path d="M242.52 358.36L244.22 361.31L240.82 361.31Z" fill="#4a6bc0" />
<path d="M241.57 360.03L243.27 362.98L239.87 362.98Z" fill="#4a6bc0" />
<path d="M253.26 358.87L254.96 361.81L251.56 361.81Z" fill="#4a6bc0" />
<path d="M241.63 354.92L243.33 357.87L239.93 357.87Z" fill="#4a6bc0" />
<path d="M240.19 354.69L241.89 357.63L238.49 357.63Z" fill="#4a6bc0" />
<path d="M239.44 353.88L241.14 356.82L237.74 356.82Z" fill="#4a6bc0" />
<path d="M242.49 356.41L244.19 359.36L240.79 359.36Z" fill="#4a6bc0" />
<path d="M239.28 357.22L240.98 360.16L237.58 360.16Z" fill="#4a6bc0" />
<path d="M242.74 358.56L244.44 361.51L241.04 361.51Z" fill="#4a6bc0" />
<path d="M248.15 356.93L249.85 359.88L246.45 359.88Z" fill="#4a6bc0" />
<path d="M245.96 358.3L247.66 361.24L244.26 361.24Z" fill="#4a6bc0" />
<path d="M242.68 356.09L244.38 359.03L240.98 359.03Z" fill="#4a6bc0" />
<path d="M248.94 360.3L250.64 363.24L247.24 363.24Z" fill="#4a6bc0" />
<path d="M243.25 357.16L244.95 360.11L241.55 360.11Z" fill="#4a6bc0" />
<path d="M237.96 356.63L239.66 359.57L236.26 359.57Z" fill="#4a6bc0" />
<path d="M240.87 359.88L242.57 362.82L239.17 362.82Z" fill="#4a6bc0" />
<path d="M241.13 358.89L242.83 361.83L239.43 361.83Z" fill="#4a6bc0" />
<path d="M240.26 358.51L241.96 361.45L238.56 361.45Z" fill="#4a6bc0" />
<path d="M245.13 355.17L246.83 358.12L243.43 358.12Z" fill="#4a6bc0" />
<path d="M238.09 355.78L239.79 358.73L236.39 358.73Z" fill="#4a6bc0" />
<path d="M235.6 357.01L237.3 359.96L233.9 359.96Z" fill="#4a6bc0" />
<path d="M243.64 357.87L245.34 360.81L241.94 360.81Z" fill="#4a6bc0" />
<path d="M237.97 358.29L239.67 361.23L236.27 361.23Z" fill="#4a6bc0" />
<path d="M234.62 358.61L236.32 361.55L232.92 361.55Z" fill="#4a6bc0" />
<path d="M243.8 355.35L245.5 358.29L242.1 358.29Z" fill="#4a6bc0" />
<path d="M240.63 357.78L242.33 360.72L238.93 360.72Z" fill="#4a6bc0" />
<path d="M241.32 360.05L243.02 362.99L239.62 362.99Z" fill="#4a6bc0" />
<path d="M235.35 357.56L237.05 360.51L233.65 360.51Z" fill="#4a6bc0" />
<path d="M241.13 358.29L242.83 361.23L239.43 361.23Z" fill="#4a6bc0" />
<path d="M239.67 357.48L241.37 360.42L237.97 360.42Z" fill="#4a6bc0" />
<path d="M238.03 355.96L239.73 358.9L236.33 358.9Z" fill="#4a6bc0" />
<path d="M244.07 357.19L245.77 360.14L242.37 360.14Z" fill="#4a6bc0" />
<path d="M235.29 356.35L236.99 359.29L233.59 359.29Z" fill="#4a6bc0" />
<path d="M244.16 358.56L245.86 361.51L242.46 361.51Z" fill="#4a6bc0" />
<path d="M234.64 358.21L236.34 361.16L232.94 361.16Z" fill="#4a6bc0" />
<path d="M249.7 359.81L251.4 362.76L248 362.76Z" fill="#4a6bc0" />
<path d="M244.12 357.63L245.82 360.58L242.42 360.58Z" fill="#4a6bc0" />
<path d="M245.36 352.47L247.06 355.42L243.66 355.42Z" fill="#4a6bc0" />
<path d="M244.59 356.2L246.29 359.15L242.89 359.15Z" fill="#4a6bc0" />
<path d="M240.35 360.52L242.05 363.46L238.65 363.46Z" fill="#4a6bc0" />
<path d="M239.25 354.47L240.95 357.41L237.55 357.41Z" fill="#4a6bc0" />
<path d="M241.81 358.66L243.51 361.61L240.11 361.61Z" fill="#4a6bc0" />
<path d="M238.04 355.13L239.74 358.07L236.34 358.07Z" fill="#4a6bc0" />
<path d="M238.31 358.16L240.01 361.1L236.61 361.1Z" fill="#4a6bc0" />
<path d="M239.44 357.22L241.14 360.17L237.74 360.17Z" fill="#4a6bc0" />
<path d="M243.85 356.28L245.55 359.22L242.15 359.22Z" fill="#4a6bc0" />
<path d="M247.18 352.35L248.88 355.29L245.48 355.29Z" fill="#4a6bc0" />
<path d="M240.51 355.48L242.21 358.42L238.81 358.42Z" fill="#4a6bc0" />
<path d="M242.14 361.48L243.84 364.42L240.44 364.42Z" fill="#4a6bc0" />
<path d="M238.01 359.23L239.71 362.17L236.31 362.17Z" fill="#4a6bc0" />
<path d="M238.72 358.83L240.42 361.77L237.02 361.77Z" fill="#4a6bc0" />
<path d="M241.73 356.26L243.43 359.2L240.03 359.2Z" fill="#4a6bc0" />
<path d="M246.92 356.16L248.62 359.11L245.22 359.11Z" fill="#4a6bc0" />
<path d="M240.26 357.6L241.96 360.55L238.56 360.55Z" fill="#4a6bc0" />
<path d="M247.87 356.23L249.57 359.17L246.17 359.17Z" fill="#4a6bc0" />
<path d="M232.77 357.3L234.47 360.24L231.07 360.24Z" fill="#4a6bc0" />
<path d="M245.88 356.65L247.58 359.6L244.18 359.6Z" fill="#4a6bc0" />
<path d="M245.45 354.79L247.15 357.74L243.75 357.74Z" fill="#4a6bc0" />
<path d="M236.61 359.68L238.31 362.63L234.91 362.63Z" fill="#4a6bc0" />
<path d="M241.88 356.89L243.58 359.84L240.18 359.84Z" fill="#4a6bc0" />
<path d="M240.07 358.48L241.77 361.42L238.37 361.42Z" fill="#4a6bc0" />
<path d="M244.78 356.34L246.48 359.29L243.08 359.29Z" fill="#4a6bc0" />
<path d="M235.82 361.71L237.52 364.65L234.12 364.65Z" fill="#4a6bc0" />
<path d="M240.5 358.4L242.2 361.35L238.8 361.35Z" fill="#4a6bc0" />
<path d="M236.03 361.23L237.73 364.18L234.33 364.18Z" fill="#4a6bc0" />
<path d="M245.59 354.6L247.29 357.55L243.89 357.55Z" fill="#4a6bc0" />
<path d="M240.59 355.38L242.29 358.32L238.89 358.32Z" fill="#4a6bc0" />
<path d="M247.44 357.43L249.14 360.38L245.74 360.38Z" fill="#4a6bc0" />
<path d="M238.53 357.16L240.23 360.11L236.83 360.11Z" fill="#4a6bc0" />
<path d="M241.42 355.57L243.12 358.51L239.72 358.51Z" fill="#4a6bc0" />
<path d="M243.31 358.03L245.01 360.97L241.61 360.97Z" fill="#4a6bc0" />
<path d="M243.91 356.25L245.61 359.19L242.21 359.19Z" fill="#4a6bc0" />
<path d="M244.43 356.22L246.13 359.17L242.73 359.17Z" fill="#4a6bc0" />
<path d="M236.63 359.97L238.33 362.92L234.93 362.92Z" fill="#4a6bc0" />
<path d="M241.76 356.26L243.46 359.2L240.06 359.2Z" fill="#4a6bc0" />
<path d="M234.75 357.26L236.45 360.21L233.05 360.21Z" fill="#4a6bc0" />
<path d="M235.9 356.41L237.6 359.36L234.2 359.36Z" fill="#4a6bc0" />
<path d="M242.66 358.21L244.36 361.15L240.96 361.15Z" fill="#4a6bc0" />
<path d="M240.26 354.58L241.96 357.53L238.56 357.53Z" fill="#4a6bc0" />
<path d="M235.29 358.72L236.99 361.67L233.59 361.67Z" fill="#4a6bc0" />
<path d="M234.71 355.36L236.41 358.31L233.01 358.31Z" fill="#4a6bc0" />
<path d="M242.47 359.26L244.17 362.2L240.77 362.2Z" fill="#4a6bc0" />
<path d="M243.16 356.26L244.86 359.21L241.46 359.21Z" fill="#4a6bc0" />
<path d="M256.26 352.13L257.96 355.08L254.56 355.08Z" fill="#4a6bc0" />
<path d="M257.91 353.2L259.61 356.15L256.21 356.15Z" fill="#4a6bc0" />
<path d="M252.97 353.2L254.66 356.15L251.27 356.15Z" fill="#4a6bc0" />
<path d="M249.67 353.91L251.37 356.86L247.97 356.86Z" fill="#4a6bc0" />
<rect x="223.46" y="350.62" width="3" height="3" fill="#e8604c" />
<rect x="230.05" y="349.55" width="3" height="3" fill="#e8604c" />
<rect x="230.71" y="351.33" width="3" height="3" fill="#e8604c" />
<rect x="231.69" y="352.4" width="3" height="3" fill="#e8604c" />
<rect x="229.39" y="353.47" width="3" height="3" fill="#e8604c" />
<rect x="232.35" y="349.91" width="3" height="3" fill="#e8604c" />
<rect x="231.37" y="348.48" width="3" height="3" fill="#e8604c" />
<rect x="229.06" y="350.62" width="3" height="3" fill="#e8604c" />
<text x="308" y="325.6" font-size="5" fill="#1a1a1a" stroke="#1a1a1a" stroke-width="0.1" font-weight="bold" ><tspan fill="#f2b21c" stroke="#f2b21c">Up</tspan> DEGs</text>
<circle cx="309.3" cy="332.2" r="1.9" fill="#d99a5c" />
<text x="314.8" y="334" font-size="5.68" fill="#1a1a1a" stroke="#1a1a1a" stroke-width="0.2" textLength="16.12" lengthAdjust="spacingAndGlyphs" >Shared</text>
<rect x="307.9" y="339" width="2.9" height="2.9" fill="#e8604c" />
<text x="314.8" y="342.2" font-size="5.68" fill="#1a1a1a" stroke="#1a1a1a" stroke-width="0.2" textLength="27.23" lengthAdjust="spacingAndGlyphs" >Female only</text>
<path d="M309.3 346.12L311.3 349.59L307.3 349.59Z" fill="#4a6bc0" />
<text x="314.8" y="350" font-size="5.68" fill="#1a1a1a" stroke="#1a1a1a" stroke-width="0.2" textLength="21.4" lengthAdjust="spacingAndGlyphs" >Male only</text>
<rect x="362.4" y="287.9" width="97.8" height="96.5" fill="#ebebeb" />
<line x1="375.44" y1="287.9" x2="375.44" y2="384.4" stroke="#f7f7f7" stroke-width="0.4" />
<line x1="393.16" y1="287.9" x2="393.16" y2="384.4" stroke="#f7f7f7" stroke-width="0.4" />
<line x1="410.89" y1="287.9" x2="410.89" y2="384.4" stroke="#f7f7f7" stroke-width="0.4" />
<line x1="428.61" y1="287.9" x2="428.61" y2="384.4" stroke="#f7f7f7" stroke-width="0.4" />
<line x1="446.34" y1="287.9" x2="446.34" y2="384.4" stroke="#f7f7f7" stroke-width="0.4" />
<line x1="362.4" y1="371.8" x2="460.2" y2="371.8" stroke="#f7f7f7" stroke-width="0.4" />
<line x1="362.4" y1="354.2" x2="460.2" y2="354.2" stroke="#f7f7f7" stroke-width="0.4" />
<line x1="362.4" y1="336.6" x2="460.2" y2="336.6" stroke="#f7f7f7" stroke-width="0.4" />
<line x1="362.4" y1="319" x2="460.2" y2="319" stroke="#f7f7f7" stroke-width="0.4" />
<line x1="362.4" y1="301.4" x2="460.2" y2="301.4" stroke="#f7f7f7" stroke-width="0.4" />
<line x1="366.57" y1="287.9" x2="366.57" y2="384.4" stroke="#fff" stroke-width="0.75" />
<line x1="362.4" y1="380.6" x2="460.2" y2="380.6" stroke="#fff" stroke-width="0.75" />
<text x="366.57" y="390.2" font-size="4.89" fill="#4d4d4d" text-anchor="middle" textLength="7.41" lengthAdjust="spacingAndGlyphs" >-0.5</text>
<text x="360.6" y="382.1" font-size="4.89" fill="#4d4d4d" text-anchor="end" textLength="7.41" lengthAdjust="spacingAndGlyphs" >-0.5</text>
<line x1="361.2" y1="380.6" x2="362.4" y2="380.6" stroke="#444" stroke-width="0.4" />
<line x1="366.57" y1="384.4" x2="366.57" y2="385.7" stroke="#444" stroke-width="0.5" />
<line x1="384.3" y1="287.9" x2="384.3" y2="384.4" stroke="#fff" stroke-width="0.75" />
<line x1="362.4" y1="363" x2="460.2" y2="363" stroke="#fff" stroke-width="0.75" />
<text x="384.3" y="390.2" font-size="4.89" fill="#4d4d4d" text-anchor="middle" textLength="5.98" lengthAdjust="spacingAndGlyphs" >0.0</text>
<text x="360.6" y="364.5" font-size="4.89" fill="#4d4d4d" text-anchor="end" textLength="5.98" lengthAdjust="spacingAndGlyphs" >0.0</text>
<line x1="361.2" y1="363" x2="362.4" y2="363" stroke="#444" stroke-width="0.4" />
<line x1="384.3" y1="384.4" x2="384.3" y2="385.7" stroke="#444" stroke-width="0.5" />
<line x1="402.03" y1="287.9" x2="402.03" y2="384.4" stroke="#fff" stroke-width="0.75" />
<line x1="362.4" y1="345.4" x2="460.2" y2="345.4" stroke="#fff" stroke-width="0.75" />
<text x="402.03" y="390.2" font-size="4.89" fill="#4d4d4d" text-anchor="middle" textLength="5.98" lengthAdjust="spacingAndGlyphs" >0.5</text>
<text x="360.6" y="346.9" font-size="4.89" fill="#4d4d4d" text-anchor="end" textLength="5.98" lengthAdjust="spacingAndGlyphs" >0.5</text>
<line x1="361.2" y1="345.4" x2="362.4" y2="345.4" stroke="#444" stroke-width="0.4" />
<line x1="402.03" y1="384.4" x2="402.03" y2="385.7" stroke="#444" stroke-width="0.5" />
<line x1="419.75" y1="287.9" x2="419.75" y2="384.4" stroke="#fff" stroke-width="0.75" />
<line x1="362.4" y1="327.8" x2="460.2" y2="327.8" stroke="#fff" stroke-width="0.75" />
<text x="419.75" y="390.2" font-size="4.89" fill="#4d4d4d" text-anchor="middle" textLength="5.98" lengthAdjust="spacingAndGlyphs" >1.0</text>
<text x="360.6" y="329.3" font-size="4.89" fill="#4d4d4d" text-anchor="end" textLength="5.98" lengthAdjust="spacingAndGlyphs" >1.0</text>
<line x1="361.2" y1="327.8" x2="362.4" y2="327.8" stroke="#444" stroke-width="0.4" />
<line x1="419.75" y1="384.4" x2="419.75" y2="385.7" stroke="#444" stroke-width="0.5" />
<line x1="437.48" y1="287.9" x2="437.48" y2="384.4" stroke="#fff" stroke-width="0.75" />
<line x1="362.4" y1="310.2" x2="460.2" y2="310.2" stroke="#fff" stroke-width="0.75" />
<text x="437.48" y="390.2" font-size="4.89" fill="#4d4d4d" text-anchor="middle" textLength="5.98" lengthAdjust="spacingAndGlyphs" >1.5</text>
<text x="360.6" y="311.7" font-size="4.89" fill="#4d4d4d" text-anchor="end" textLength="5.98" lengthAdjust="spacingAndGlyphs" >1.5</text>
<line x1="361.2" y1="310.2" x2="362.4" y2="310.2" stroke="#444" stroke-width="0.4" />
<line x1="437.48" y1="384.4" x2="437.48" y2="385.7" stroke="#444" stroke-width="0.5" />
<line x1="455.2" y1="287.9" x2="455.2" y2="384.4" stroke="#fff" stroke-width="0.75" />
<line x1="362.4" y1="292.6" x2="460.2" y2="292.6" stroke="#fff" stroke-width="0.75" />
<text x="455.2" y="390.2" font-size="4.89" fill="#4d4d4d" text-anchor="middle" textLength="5.98" lengthAdjust="spacingAndGlyphs" >2.0</text>
<text x="360.6" y="294.1" font-size="4.89" fill="#4d4d4d" text-anchor="end" textLength="5.98" lengthAdjust="spacingAndGlyphs" >2.0</text>
<line x1="361.2" y1="292.6" x2="362.4" y2="292.6" stroke="#444" stroke-width="0.4" />
<line x1="455.2" y1="384.4" x2="455.2" y2="385.7" stroke="#444" stroke-width="0.5" />
<line x1="362.7" y1="384.1" x2="459.9" y2="288.2" stroke="#3a3a3a" stroke-width="1.1" stroke-dasharray="2.6 1.7"/>
<text x="350.9" y="331.8" font-size="7" fill="#ee6a58" stroke="#ee6a58" stroke-width="0.14" font-weight="bold" text-anchor="middle" textLength="49.6" lengthAdjust="spacingAndGlyphs" transform="rotate(-90 350.9 331.8)" >Female Log2FC</text>
<text x="412.8" y="397" font-size="6.9" fill="#4a6bc0" stroke="#4a6bc0" stroke-width="0.14" font-weight="bold" text-anchor="middle" textLength="39.2" lengthAdjust="spacingAndGlyphs" >Male Log2FC</text>
<circle cx="392.83" cy="357.66" r="1.9" fill="#d99a5c" />
<circle cx="407.25" cy="354.88" r="1.9" fill="#d99a5c" />
<circle cx="400.91" cy="357.33" r="1.9" fill="#d99a5c" />
<circle cx="410.61" cy="346.93" r="1.9" fill="#d99a5c" />
<circle cx="412.6" cy="347.99" r="1.9" fill="#d99a5c" />
<circle cx="405.13" cy="350.43" r="1.9" fill="#d99a5c" />
<circle cx="396.27" cy="352.86" r="1.9" fill="#d99a5c" />
<circle cx="392.22" cy="355.81" r="1.9" fill="#d99a5c" />
<circle cx="407.46" cy="348.58" r="1.9" fill="#d99a5c" />
<circle cx="398.83" cy="346.44" r="1.9" fill="#d99a5c" />
<circle cx="402.48" cy="352.29" r="1.9" fill="#d99a5c" />
<circle cx="403.27" cy="351.8" r="1.9" fill="#d99a5c" />
<circle cx="399.02" cy="353.06" r="1.9" fill="#d99a5c" />
<circle cx="417.82" cy="344.5" r="1.9" fill="#d99a5c" />
<circle cx="403.39" cy="348.59" r="1.9" fill="#d99a5c" />
<circle cx="417.75" cy="345.17" r="1.9" fill="#d99a5c" />
<circle cx="397.16" cy="346.35" r="1.9" fill="#d99a5c" />
<circle cx="390.64" cy="356.48" r="1.9" fill="#d99a5c" />
<circle cx="407.23" cy="342.8" r="1.9" fill="#d99a5c" />
<circle cx="394.62" cy="360.32" r="1.9" fill="#d99a5c" />
<circle cx="407.19" cy="350.22" r="1.9" fill="#d99a5c" />
<circle cx="399" cy="350.93" r="1.9" fill="#d99a5c" />
<circle cx="403.77" cy="349.45" r="1.9" fill="#d99a5c" />
<circle cx="398.66" cy="348.88" r="1.9" fill="#d99a5c" />
<circle cx="413.76" cy="346.11" r="1.9" fill="#d99a5c" />
<circle cx="398.5" cy="350.41" r="1.9" fill="#d99a5c" />
<circle cx="405.75" cy="352.17" r="1.9" fill="#d99a5c" />
<circle cx="398.44" cy="349.6" r="1.9" fill="#d99a5c" />
<circle cx="401.27" cy="352.1" r="1.9" fill="#d99a5c" />
<circle cx="403.68" cy="350.35" r="1.9" fill="#d99a5c" />
<circle cx="402.01" cy="356.03" r="1.9" fill="#d99a5c" />
<circle cx="415.67" cy="344.9" r="1.9" fill="#d99a5c" />
<circle cx="395.19" cy="351.1" r="1.9" fill="#d99a5c" />
<circle cx="404.43" cy="349.91" r="1.9" fill="#d99a5c" />
<circle cx="410.2" cy="341.66" r="1.9" fill="#d99a5c" />
<circle cx="406.34" cy="345" r="1.9" fill="#d99a5c" />
<circle cx="418.85" cy="346.84" r="1.9" fill="#d99a5c" />
<circle cx="397.94" cy="350.52" r="1.9" fill="#d99a5c" />
<circle cx="388.7" cy="357" r="1.9" fill="#d99a5c" />
<circle cx="412.11" cy="344.11" r="1.9" fill="#d99a5c" />
<circle cx="406.54" cy="354.11" r="1.9" fill="#d99a5c" />
<circle cx="420.36" cy="342.08" r="1.9" fill="#d99a5c" />
<circle cx="408.01" cy="347.21" r="1.9" fill="#d99a5c" />
<circle cx="388.64" cy="360.11" r="1.9" fill="#d99a5c" />
<circle cx="392.54" cy="349.69" r="1.9" fill="#d99a5c" />
<circle cx="395.54" cy="354.18" r="1.9" fill="#d99a5c" />
<circle cx="400.04" cy="350.22" r="1.9" fill="#d99a5c" />
<circle cx="405.93" cy="348.64" r="1.9" fill="#d99a5c" />
<circle cx="392.19" cy="363.18" r="1.9" fill="#d99a5c" />
<circle cx="403.32" cy="349.69" r="1.9" fill="#d99a5c" />
<circle cx="411.62" cy="347.33" r="1.9" fill="#d99a5c" />
<circle cx="397.26" cy="351.76" r="1.9" fill="#d99a5c" />
<circle cx="389.9" cy="358.56" r="1.9" fill="#d99a5c" />
<circle cx="394.18" cy="353.33" r="1.9" fill="#d99a5c" />
<circle cx="418.33" cy="342.33" r="1.9" fill="#d99a5c" />
<circle cx="410.93" cy="346.71" r="1.9" fill="#d99a5c" />
<circle cx="404.2" cy="351.23" r="1.9" fill="#d99a5c" />
<circle cx="399.83" cy="358.22" r="1.9" fill="#d99a5c" />
<circle cx="392.65" cy="358.1" r="1.9" fill="#d99a5c" />
<circle cx="408.55" cy="346.54" r="1.9" fill="#d99a5c" />
<circle cx="410.93" cy="343.23" r="1.9" fill="#d99a5c" />
<circle cx="399.64" cy="349.1" r="1.9" fill="#d99a5c" />
<circle cx="417.28" cy="344.8" r="1.9" fill="#d99a5c" />
<circle cx="410.5" cy="347.94" r="1.9" fill="#d99a5c" />
<circle cx="389.45" cy="355.68" r="1.9" fill="#d99a5c" />
<circle cx="395.61" cy="353.22" r="1.9" fill="#d99a5c" />
<circle cx="398.41" cy="351.54" r="1.9" fill="#d99a5c" />
<circle cx="395.36" cy="348.11" r="1.9" fill="#d99a5c" />
<circle cx="395.62" cy="355.73" r="1.9" fill="#d99a5c" />
<circle cx="400.25" cy="350.67" r="1.9" fill="#d99a5c" />
<circle cx="400.12" cy="347.13" r="1.9" fill="#d99a5c" />
<circle cx="406.99" cy="350.77" r="1.9" fill="#d99a5c" />
<circle cx="405.05" cy="354.15" r="1.9" fill="#d99a5c" />
<circle cx="398.1" cy="356.17" r="1.9" fill="#d99a5c" />
<circle cx="402.47" cy="353.25" r="1.9" fill="#d99a5c" />
<circle cx="400.24" cy="353.7" r="1.9" fill="#d99a5c" />
<circle cx="388.71" cy="355.89" r="1.9" fill="#d99a5c" />
<circle cx="399.66" cy="353.93" r="1.9" fill="#d99a5c" />
<circle cx="412.67" cy="347.92" r="1.9" fill="#d99a5c" />
<circle cx="400.98" cy="351.54" r="1.9" fill="#d99a5c" />
<circle cx="396.36" cy="353.79" r="1.9" fill="#d99a5c" />
<circle cx="397.91" cy="355.18" r="1.9" fill="#d99a5c" />
<circle cx="406.61" cy="352.56" r="1.9" fill="#d99a5c" />
<circle cx="404.15" cy="352.4" r="1.9" fill="#d99a5c" />
<circle cx="394.14" cy="357.5" r="1.9" fill="#d99a5c" />
<circle cx="405.44" cy="351.71" r="1.9" fill="#d99a5c" />
<circle cx="410.7" cy="351.88" r="1.9" fill="#d99a5c" />
<circle cx="393.97" cy="360.85" r="1.9" fill="#d99a5c" />
<circle cx="411.1" cy="348.13" r="1.9" fill="#d99a5c" />
<circle cx="397.4" cy="353.08" r="1.9" fill="#d99a5c" />
<circle cx="411.53" cy="352.41" r="1.9" fill="#d99a5c" />
<circle cx="390.19" cy="355.12" r="1.9" fill="#d99a5c" />
<circle cx="399.63" cy="356.09" r="1.9" fill="#d99a5c" />
<circle cx="408.43" cy="344.29" r="1.9" fill="#d99a5c" />
<circle cx="391.94" cy="356.89" r="1.9" fill="#d99a5c" />
<circle cx="392.44" cy="353.03" r="1.9" fill="#d99a5c" />
<circle cx="403.74" cy="353.95" r="1.9" fill="#d99a5c" />
<circle cx="401.68" cy="351.68" r="1.9" fill="#d99a5c" />
<circle cx="406.53" cy="346.7" r="1.9" fill="#d99a5c" />
<circle cx="398.8" cy="353.73" r="1.9" fill="#d99a5c" />
<circle cx="397.71" cy="356.09" r="1.9" fill="#d99a5c" />
<circle cx="410.53" cy="346.72" r="1.9" fill="#d99a5c" />
<circle cx="402.41" cy="349.9" r="1.9" fill="#d99a5c" />
<circle cx="406.58" cy="347.37" r="1.9" fill="#d99a5c" />
<circle cx="404.16" cy="348.49" r="1.9" fill="#d99a5c" />
<circle cx="410.53" cy="346.84" r="1.9" fill="#d99a5c" />
<circle cx="394.19" cy="351.6" r="1.9" fill="#d99a5c" />
<circle cx="397.17" cy="353.93" r="1.9" fill="#d99a5c" />
<circle cx="402.26" cy="350.89" r="1.9" fill="#d99a5c" />
<circle cx="396.8" cy="351.84" r="1.9" fill="#d99a5c" />
<circle cx="453.43" cy="321.46" r="1.9" fill="#d99a5c" />
<circle cx="449.88" cy="324.98" r="1.9" fill="#d99a5c" />
<circle cx="433.93" cy="330.26" r="1.9" fill="#d99a5c" />
<circle cx="434.64" cy="334.84" r="1.9" fill="#d99a5c" />
<circle cx="435.7" cy="340.47" r="1.9" fill="#d99a5c" />
<circle cx="442.08" cy="346.46" r="1.9" fill="#d99a5c" />
<circle cx="426.84" cy="336.6" r="1.9" fill="#d99a5c" />
<circle cx="430.38" cy="332.38" r="1.9" fill="#d99a5c" />
<circle cx="423.3" cy="338.36" r="1.9" fill="#d99a5c" />
<circle cx="428.61" cy="343.64" r="1.9" fill="#d99a5c" />
<circle cx="419.75" cy="340.47" r="1.9" fill="#d99a5c" />
<circle cx="417.98" cy="345.4" r="1.9" fill="#d99a5c" />
<circle cx="421.52" cy="345.4" r="1.9" fill="#d99a5c" />
<line x1="388.55" y1="356.71" x2="454.49" y2="330.83" stroke="#94561a" stroke-width="1.35" />
<text x="417.8" y="369" font-size="5" fill="#a2652a" stroke="#a2652a" stroke-width="0.1" font-weight="bold" textLength="37" lengthAdjust="spacingAndGlyphs" >Slope = 0.40607</text>
<text x="417.8" y="374.8" font-size="5" fill="#a2652a" stroke="#a2652a" stroke-width="0.1" font-weight="bold" textLength="24.6" lengthAdjust="spacingAndGlyphs" >R² = 0.7067</text>
<text x="128.4" y="414.4" font-size="6.4" fill="#e08a1e" stroke="#e08a1e" stroke-width="0.13" font-weight="bold" font-style="italic" text-anchor="middle" >Gjb1</text>
<line x1="73.7" y1="420.7" x2="181" y2="420.7" stroke="#6a6a6a" stroke-width="1.4" />
<line x1="74.7" y1="420.7" x2="181" y2="420.7" stroke="#d8d8d8" stroke-width="0.4" />
<line x1="180" y1="420.7" x2="188" y2="420.7" stroke="#000" stroke-width="1.7" />
<line x1="84.5" y1="424.8" x2="181" y2="424.8" stroke="#6a6a6a" stroke-width="1.4" />
<line x1="85.5" y1="424.8" x2="181" y2="424.8" stroke="#d8d8d8" stroke-width="0.4" />
<line x1="180" y1="424.8" x2="188" y2="424.8" stroke="#000" stroke-width="1.7" />
<line x1="165.4" y1="428.9" x2="181" y2="428.9" stroke="#6a6a6a" stroke-width="1.4" />
<line x1="166.4" y1="428.9" x2="181" y2="428.9" stroke="#d8d8d8" stroke-width="0.4" />
<line x1="180" y1="428.9" x2="188" y2="428.9" stroke="#000" stroke-width="1.7" />
<circle cx="84.5" cy="424.8" r="0.9" fill="#111" />
<circle cx="165.4" cy="428.9" r="0.9" fill="#111" />
<rect x="170.1" y="419.1" width="10.6" height="11.2" fill="#000" />
<text x="56.4" y="421.9" font-size="4.2" fill="#666" text-anchor="end" textLength="7.82" lengthAdjust="spacingAndGlyphs" >Gjb1</text>
<text x="56.4" y="425.7" font-size="4.2" fill="#666" text-anchor="end" textLength="7.82" lengthAdjust="spacingAndGlyphs" >Gjb1</text>
<text x="56.4" y="429.5" font-size="4.2" fill="#666" text-anchor="end" textLength="7.82" lengthAdjust="spacingAndGlyphs" >Gjb1</text>
<text x="21.6" y="451.3" font-size="6.75" fill="#1f2e6b" stroke="#1f2e6b" stroke-width="0.14" font-weight="bold" >XY WT</text>
<text x="53.2" y="438.7" font-size="4.55" fill="#1f2e6b" text-anchor="end" textLength="12.23" lengthAdjust="spacingAndGlyphs" >473.86</text>
<line x1="54.4" y1="437.2" x2="55.6" y2="437.2" stroke="#1f2e6b" stroke-width="0.4" />
<text x="53.4" y="457.4" font-size="3.86" fill="#1f2e6b" text-anchor="end" textLength="1.89" lengthAdjust="spacingAndGlyphs" >1</text>
<line x1="122" y1="458" x2="123.5" y2="458" stroke="#1f2e6b" stroke-width="0.7" opacity="0.7"/>
<line x1="146" y1="458" x2="148.5" y2="458" stroke="#1f2e6b" stroke-width="0.7" opacity="0.7"/>
<line x1="157" y1="458" x2="160" y2="458" stroke="#1f2e6b" stroke-width="0.7" opacity="0.7"/>
<line x1="162" y1="458" x2="164" y2="458" stroke="#1f2e6b" stroke-width="0.7" opacity="0.7"/>
<line x1="195" y1="458" x2="198" y2="458" stroke="#1f2e6b" stroke-width="0.7" opacity="0.7"/>
<line x1="187" y1="458" x2="190" y2="458" stroke="#1f2e6b" stroke-width="0.7" opacity="0.7"/>
<path d="M169.5 458 L171 457 L173 456.5 L176 456 L178 456.2 L181 456.6 L184 457.1 L187 458 Z" fill="#1f2e6b" />
<line x1="165" y1="458" x2="190" y2="458" stroke="#1f2e6b" stroke-width="0.7" />
<text x="21.6" y="473.2" font-size="6.75" fill="#5770b0" stroke="#5770b0" stroke-width="0.14" font-weight="bold" >XY 5cKO</text>
<text x="53.2" y="461.3" font-size="4.55" fill="#5770b0" text-anchor="end" textLength="12.23" lengthAdjust="spacingAndGlyphs" >473.86</text>
<line x1="54.4" y1="459.8" x2="55.6" y2="459.8" stroke="#5770b0" stroke-width="0.4" />
<text x="53.4" y="480" font-size="3.86" fill="#5770b0" text-anchor="end" textLength="1.89" lengthAdjust="spacingAndGlyphs" >1</text>
<line x1="122" y1="480.6" x2="123.5" y2="480.6" stroke="#5770b0" stroke-width="0.7" opacity="0.7"/>
<line x1="146" y1="480.6" x2="148.5" y2="480.6" stroke="#5770b0" stroke-width="0.7" opacity="0.7"/>
<line x1="157" y1="480.6" x2="160" y2="480.6" stroke="#5770b0" stroke-width="0.7" opacity="0.7"/>
<line x1="162" y1="480.6" x2="164" y2="480.6" stroke="#5770b0" stroke-width="0.7" opacity="0.7"/>
<line x1="195" y1="480.6" x2="198" y2="480.6" stroke="#5770b0" stroke-width="0.7" opacity="0.7"/>
<line x1="187" y1="480.6" x2="190" y2="480.6" stroke="#5770b0" stroke-width="0.7" opacity="0.7"/>
<line x1="143" y1="480.6" x2="145" y2="480.6" stroke="#5770b0" stroke-width="0.7" opacity="0.7"/>
<line x1="198" y1="480.6" x2="200" y2="480.6" stroke="#5770b0" stroke-width="0.7" opacity="0.7"/>
<line x1="214" y1="480.6" x2="217" y2="480.6" stroke="#5770b0" stroke-width="0.7" opacity="0.7"/>
<path d="M165 480.6 L165.3 476.6 L165.8 476.6 L166.1 480.1 L169.5 480.1 L170 470.6 L171 468.1 L172 468.6 L173 467.1 L174 466.6 L175 465.6 L176 465.1 L177 464.1 L178 463.6 L179 463.1 L180 462.3 L180.6 462.6 L181.2 469.1 L182 468.8 L183 467.6 L184 466.6 L184.6 468.6 L186 475.6 L187.8 480 L189 480.2 L190 479.7 L191 480.2 L192 480.6Z" fill="#5770b0" />
<line x1="160" y1="480.6" x2="192" y2="480.6" stroke="#5770b0" stroke-width="0.8" />
<text x="21.6" y="498" font-size="6.75" fill="#841c10" stroke="#841c10" stroke-width="0.14" font-weight="bold" >XX WT</text>
<text x="53.2" y="483.7" font-size="4.55" fill="#841c10" text-anchor="end" textLength="12.23" lengthAdjust="spacingAndGlyphs" >473.86</text>
<line x1="54.4" y1="482.2" x2="55.6" y2="482.2" stroke="#841c10" stroke-width="0.4" />
<text x="53.4" y="502.4" font-size="3.86" fill="#841c10" text-anchor="end" textLength="1.89" lengthAdjust="spacingAndGlyphs" >1</text>
<line x1="122" y1="503" x2="123.5" y2="503" stroke="#841c10" stroke-width="0.7" opacity="0.7"/>
<line x1="146" y1="503" x2="148.5" y2="503" stroke="#841c10" stroke-width="0.7" opacity="0.7"/>
<line x1="157" y1="503" x2="160" y2="503" stroke="#841c10" stroke-width="0.7" opacity="0.7"/>
<line x1="162" y1="503" x2="164" y2="503" stroke="#841c10" stroke-width="0.7" opacity="0.7"/>
<line x1="195" y1="503" x2="198" y2="503" stroke="#841c10" stroke-width="0.7" opacity="0.7"/>
<line x1="187" y1="503" x2="190" y2="503" stroke="#841c10" stroke-width="0.7" opacity="0.7"/>
<line x1="141" y1="503" x2="143" y2="503" stroke="#841c10" stroke-width="0.7" opacity="0.7"/>
<line x1="203" y1="503" x2="205" y2="503" stroke="#841c10" stroke-width="0.7" opacity="0.7"/>
<path d="M169.5 503 L171 502.1 L174 501.8 L177 501.7 L179 501.4 L182 501.9 L185.7 503 Z" fill="#841c10" />
<line x1="164" y1="503" x2="190" y2="503" stroke="#841c10" stroke-width="0.7" />
<text x="21.6" y="517.9" font-size="6.75" fill="#e8624c" stroke="#e8624c" stroke-width="0.14" font-weight="bold" >XX 5cHet</text>
<text x="53.2" y="506.4" font-size="4.55" fill="#e8624c" text-anchor="end" textLength="12.23" lengthAdjust="spacingAndGlyphs" >473.86</text>
<line x1="54.4" y1="504.9" x2="55.6" y2="504.9" stroke="#e8624c" stroke-width="0.4" />
<text x="53.4" y="525.1" font-size="3.86" fill="#e8624c" text-anchor="end" textLength="1.89" lengthAdjust="spacingAndGlyphs" >1</text>
<line x1="122" y1="525.7" x2="123.5" y2="525.7" stroke="#e8624c" stroke-width="0.7" opacity="0.7"/>
<line x1="146" y1="525.7" x2="148.5" y2="525.7" stroke="#e8624c" stroke-width="0.7" opacity="0.7"/>
<line x1="157" y1="525.7" x2="160" y2="525.7" stroke="#e8624c" stroke-width="0.7" opacity="0.7"/>
<line x1="162" y1="525.7" x2="164" y2="525.7" stroke="#e8624c" stroke-width="0.7" opacity="0.7"/>
<line x1="195" y1="525.7" x2="198" y2="525.7" stroke="#e8624c" stroke-width="0.7" opacity="0.7"/>
<line x1="187" y1="525.7" x2="190" y2="525.7" stroke="#e8624c" stroke-width="0.7" opacity="0.7"/>
<line x1="104" y1="525.7" x2="105.5" y2="525.7" stroke="#e8624c" stroke-width="0.7" opacity="0.7"/>
<line x1="117" y1="525.7" x2="118.5" y2="525.7" stroke="#e8624c" stroke-width="0.7" opacity="0.7"/>
<line x1="131" y1="525.7" x2="132.5" y2="525.7" stroke="#e8624c" stroke-width="0.7" opacity="0.7"/>
<line x1="141" y1="525.7" x2="143" y2="525.7" stroke="#e8624c" stroke-width="0.7" opacity="0.7"/>
<line x1="209" y1="525.7" x2="210" y2="525.7" stroke="#e8624c" stroke-width="0.7" opacity="0.7"/>
<path d="M165 525.7 L165.4 524.2 L165.8 525.7 L169.3 525.7 L169.8 520.2 L170.5 519.3 L171.5 519.1 L172.3 519.5 L172.7 520.2 L174 519.8 L176 519.6 L178 519.5 L179 519.1 L180 518.8 L180.6 519.2 L181 519.8 L183 519.9 L184.2 520.1 L186 522.7 L187.8 525.4 L188 525.7Z" fill="#e8624c" />
<line x1="164" y1="525.7" x2="192" y2="525.7" stroke="#e8624c" stroke-width="0.7" />
<text x="50.3" y="539.4" font-size="5.91" fill="#222" stroke="#222" stroke-width="0.21" textLength="12.72" lengthAdjust="spacingAndGlyphs" >10 kb</text>
<line x1="64.5" y1="537.6" x2="187.9" y2="537.6" stroke="#333" stroke-width="0.6" />
<line x1="64.5" y1="536.2" x2="64.5" y2="539" stroke="#333" stroke-width="0.6" />
<line x1="187.9" y1="536.2" x2="187.9" y2="539" stroke="#333" stroke-width="0.6" />
<text x="191" y="539.4" font-size="5.57" fill="#222" stroke="#222" stroke-width="0.19" textLength="13.61" lengthAdjust="spacingAndGlyphs" >mm10</text>
<text x="354.2" y="418.4" font-size="6.7" fill="#e08a1e" stroke="#e08a1e" stroke-width="0.13" font-weight="bold" font-style="italic" text-anchor="middle" >Cdkn1c</text>
<text x="292.2" y="427.9" font-size="4.23" fill="#222" stroke="#222" stroke-width="0.08" text-anchor="end" textLength="13.9" lengthAdjust="spacingAndGlyphs" >Cdkn1c</text>
<text x="292.2" y="431.7" font-size="4.23" fill="#222" stroke="#222" stroke-width="0.08" text-anchor="end" textLength="13.9" lengthAdjust="spacingAndGlyphs" >Cdkn1c</text>
<text x="292.2" y="435.6" font-size="4.23" fill="#5566bb" stroke="#5566bb" stroke-width="0.08" text-anchor="end" textLength="18" lengthAdjust="spacingAndGlyphs" >Gm44732</text>
<text x="292.2" y="439.4" font-size="4.23" fill="#333" stroke="#333" stroke-width="0.08" text-anchor="end" textLength="14.82" lengthAdjust="spacingAndGlyphs" >1669.43</text>
<line x1="292.6" y1="438.3" x2="294" y2="438.3" stroke="#333" stroke-width="0.4" />
<rect x="296" y="425" width="32.5" height="3" fill="#000" />
<rect x="333.8" y="425" width="22.5" height="1" fill="#000" />
<rect x="333.8" y="427" width="22.5" height="1" fill="#000" />
<rect x="389.8" y="425" width="10.8" height="1" fill="#000" />
<rect x="389.8" y="427" width="10.8" height="1" fill="#000" />
<rect x="400.6" y="425" width="4.6" height="3" fill="#000" />
<rect x="296" y="429" width="32.5" height="3" fill="#000" />
<rect x="333.8" y="429" width="22.5" height="1" fill="#000" />
<rect x="333.8" y="431" width="22.5" height="1" fill="#000" />
<rect x="389.8" y="429" width="10.8" height="1" fill="#000" />
<rect x="389.8" y="431" width="10.8" height="1" fill="#000" />
<rect x="400.6" y="429" width="6.3" height="3" fill="#000" />
<rect x="328.4" y="423.4" width="5.4" height="9.4" fill="#000" />
<rect x="356" y="422.6" width="33.8" height="10.3" fill="#000" />
<rect x="354.5" y="433.3" width="21.5" height="1.5" fill="#7c86dc" />
<rect x="383.7" y="433.3" width="7.7" height="1.5" fill="#7c86dc" />
<line x1="376" y1="434" x2="383.7" y2="434" stroke="#6a78d8" stroke-width="0.4" />
<text x="253.8" y="455.1" font-size="6.85" fill="#1f2e6b" stroke="#1f2e6b" stroke-width="0.14" font-weight="bold" >XY WT</text>
<text x="289.6" y="458.7" font-size="3.64" fill="#1f2e6b" text-anchor="end" textLength="1.78" lengthAdjust="spacingAndGlyphs" >1</text>
<path d="M296 458.5 L296.6 456.3 L298 455.68 L300 455.33 L302 455.07 L304 454.72 L306 454.36 L308 454.54 L310 454.45 L312 454.8 L314 454.98 L316 454.8 L318 455.16 L320 454.89 L322 454.98 L324.2 455.33 L324.4 458.5L324.4 458.5ZM327.7 458.5 L327.8 454.54 L329 454.28 L333 454.28 L333.4 454.8 L333.5 458.5L333.5 458.5ZM354.6 458.5 L354.8 454.28 L356 453.75 L358 454.1 L360 453.84 L362 454.19 L364 453.92 L366 454.36 L368 454.28 L370 454.54 L372 454.45 L374 454.72 L376 454.63 L378 454.89 L380 454.8 L382 455.07 L384 454.98 L386 455.33 L388 455.16 L390 455.42 L392 455.33 L393.5 455.51 L394.3 458.5L394.3 458.5ZM398.3 458.5 L398.6 456.39 L400 455.77 L402 455.95 L403.5 456.21 L404.5 456.74 L405.3 457.8 L405.8 458.5L405.8 458.5Z" fill="#1f2e6b" />
<rect x="324.4" y="458" width="3.3" height="0.5" fill="#1f2e6b" />
<rect x="333.5" y="458" width="21" height="0.5" fill="#1f2e6b" />
<rect x="406" y="458" width="14" height="0.5" fill="#1f2e6b" opacity="0.6"/>
<rect x="430.8" y="457.7" width="13.5" height="0.8" fill="#1f2e6b" />
<text x="253.8" y="476.8" font-size="6.85" fill="#5770b0" stroke="#5770b0" stroke-width="0.14" font-weight="bold" >XY 5cKO</text>
<text x="289.4" y="462.5" font-size="4.21" fill="#5770b0" text-anchor="end" textLength="14.46" lengthAdjust="spacingAndGlyphs" >1669.43</text>
<line x1="290" y1="461.4" x2="291.2" y2="461.4" stroke="#5770b0" stroke-width="0.4" />
<text x="289.6" y="481.4" font-size="3.64" fill="#5770b0" text-anchor="end" textLength="1.78" lengthAdjust="spacingAndGlyphs" >1</text>
<path d="M296.6 481.2 L296.8 472.95 L298 470.05 L299.5 467.13 L300.5 468.59 L301.5 467.13 L302.5 469.07 L304 466.65 L305.2 465.49 L306.5 468.11 L308 466.84 L309.5 468.59 L311 467.13 L312.5 466.16 L314 468.4 L315.5 467.62 L317 465.87 L318.5 465.19 L319.5 468.59 L321 467.62 L322.5 469.56 L323.2 472.47 L323.4 481.2L323.4 481.2ZM327.5 481.2 L327.7 467.62 L328.5 465.19 L330 464.52 L332 464.71 L333.2 466.16 L333.5 481.2L333.5 481.2ZM354.4 481.2 L354.6 467.13 L355.5 465.19 L357 466.16 L358.5 465.68 L360 466.65 L362 466.26 L364 467.04 L366 466.84 L368 467.62 L370 467.33 L372 468.01 L374 467.81 L376 468.4 L378 468.2 L380 468.78 L382 468.49 L384 469.17 L386 468.78 L388 469.56 L389.5 469.07 L390.8 466.65 L391.5 463.93 L392.2 467.62 L392.6 479.26 L393 481.2L393 481.2ZM398.3 481.2 L398.6 471.5 L399.4 467.13 L400.3 465.49 L401.3 466.07 L402.5 466.65 L403.5 467.62 L404.3 469.56 L405 475.38 L405.6 480.04 L406 481.2L406 481.2Z" fill="#5770b0" />
<rect x="333.5" y="480.8" width="21" height="0.8" fill="#5770b0" />
<rect x="407" y="480.6" width="12.5" height="0.6" fill="#5770b0" />
<rect x="423" y="480.6" width="10.5" height="0.6" fill="#5770b0" />
<text x="253.8" y="501.1" font-size="6.85" fill="#841c10" stroke="#841c10" stroke-width="0.14" font-weight="bold" >XX WT</text>
<text x="289.4" y="485.6" font-size="4.21" fill="#841c10" text-anchor="end" textLength="14.46" lengthAdjust="spacingAndGlyphs" >1669.43</text>
<line x1="290" y1="484.5" x2="291.2" y2="484.5" stroke="#841c10" stroke-width="0.4" />
<text x="289.6" y="504.5" font-size="3.64" fill="#841c10" text-anchor="end" textLength="1.78" lengthAdjust="spacingAndGlyphs" >1</text>
<path d="M296 504.3 L296.6 502.18 L298 501.58 L300 501.24 L302 500.99 L304 500.65 L306 500.31 L308 500.48 L310 500.39 L312 500.73 L314 500.9 L316 500.73 L318 501.07 L320 500.81 L322 500.9 L324.2 501.24 L324.4 504.3L324.4 504.3ZM327.7 504.3 L327.8 500.48 L329 500.22 L333 500.22 L333.4 500.73 L333.5 504.3L333.5 504.3ZM354.6 504.3 L354.8 500.22 L356 499.71 L358 500.05 L360 499.8 L362 500.13 L364 499.88 L366 500.31 L368 500.22 L370 500.48 L372 500.39 L374 500.65 L376 500.56 L378 500.81 L380 500.73 L382 500.99 L384 500.9 L386 501.24 L388 501.07 L390 501.32 L392 501.24 L393.5 501.41 L394.3 504.3L394.3 504.3ZM398.3 504.3 L398.6 502.26 L400 501.67 L402 501.84 L403.5 502.09 L404.5 502.6 L405.3 503.62 L405.8 504.3L405.8 504.3Z" fill="#841c10" />
<rect x="324.4" y="503.8" width="3.3" height="0.5" fill="#841c10" />
<rect x="333.5" y="503.8" width="21" height="0.5" fill="#841c10" />
<rect x="430.8" y="503.5" width="11.7" height="0.8" fill="#841c10" />
<text x="253.8" y="520.9" font-size="6.85" fill="#e8624c" stroke="#e8624c" stroke-width="0.14" font-weight="bold" >XX 5cHet</text>
<text x="289.4" y="507.9" font-size="4.21" fill="#e8624c" text-anchor="end" textLength="14.46" lengthAdjust="spacingAndGlyphs" >1669.43</text>
<line x1="290" y1="506.8" x2="291.2" y2="506.8" stroke="#e8624c" stroke-width="0.4" />
<text x="289.6" y="526.8" font-size="3.64" fill="#e8624c" text-anchor="end" textLength="1.78" lengthAdjust="spacingAndGlyphs" >1</text>
<path d="M296.6 526.6 L296.8 521.5 L298 519.7 L299.5 517.9 L300.5 518.8 L301.5 517.9 L302.5 519.1 L304 517.6 L305.2 516.88 L306.5 518.5 L308 517.72 L309.5 518.8 L311 517.9 L312.5 517.3 L314 518.68 L315.5 518.2 L317 517.12 L318.5 516.7 L319.5 518.8 L321 518.2 L322.5 519.4 L323.2 521.2 L323.4 526.6L323.4 526.6ZM327.5 526.6 L327.7 518.2 L328.5 516.7 L330 516.28 L332 516.4 L333.2 517.3 L333.5 526.6L333.5 526.6ZM354.4 526.6 L354.6 517.9 L355.5 516.7 L357 517.3 L358.5 517 L360 517.6 L362 517.36 L364 517.84 L366 517.72 L368 518.2 L370 518.02 L372 518.44 L374 518.32 L376 518.68 L378 518.56 L380 518.92 L382 518.74 L384 519.16 L386 518.92 L388 519.4 L389.5 519.1 L390.8 517.6 L391.5 515.92 L392.2 518.2 L392.6 525.4 L393 526.6L393 526.6ZM398.3 526.6 L398.6 520.6 L399.4 517.9 L400.3 516.88 L401.3 517.24 L402.5 517.6 L403.5 518.2 L404.3 519.4 L405 523 L405.6 525.88 L406 526.6L406 526.6Z" fill="#e8624c" />
<rect x="333.5" y="526.1" width="21" height="0.7" fill="#e8624c" opacity="0.7"/>
<rect x="407" y="526.1" width="35.5" height="0.6" fill="#e8624c" opacity="0.6"/>
<text x="317.6" y="539.1" font-size="5.68" fill="#222" stroke="#222" stroke-width="0.2" textLength="9.45" lengthAdjust="spacingAndGlyphs" >1 kb</text>
<line x1="328.6" y1="537.3" x2="371" y2="537.3" stroke="#333" stroke-width="0.6" />
<line x1="328.6" y1="535.9" x2="328.6" y2="538.7" stroke="#333" stroke-width="0.6" />
<line x1="371" y1="535.9" x2="371" y2="538.7" stroke="#333" stroke-width="0.6" />
<text x="372.2" y="539.1" font-size="5.57" fill="#222" stroke="#222" stroke-width="0.19" textLength="13.61" lengthAdjust="spacingAndGlyphs" >mm10</text>
</svg></body></html>
